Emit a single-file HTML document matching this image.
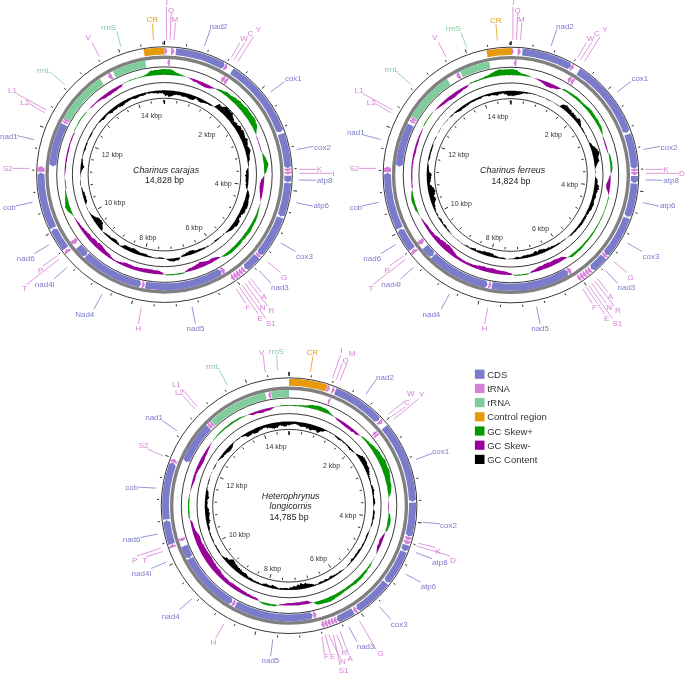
<!DOCTYPE html>
<html><head><meta charset="utf-8"><style>
html,body{margin:0;padding:0;background:#fff;width:685px;height:674px;overflow:hidden}
svg{display:block}
text{font-family:"Liberation Sans",Arial,sans-serif}
</style></head><body>
<svg width="685" height="674" viewBox="0 0 685 674">
<rect width="685" height="674" fill="#fff"/>
<clipPath id="clip1"><rect x="0" y="0" width="334.2" height="340"/></clipPath>
<g clip-path="url(#clip1)">
<circle cx="164.45" cy="174.6" r="127.85" fill="none" stroke="#222" stroke-width="0.9"/>
<circle cx="164.45" cy="174.6" r="117.4" fill="none" stroke="#808080" stroke-width="3.3999999999999915"/>
<path d="M143.49,49.34A127,127 0 0 1 164.45,47.6L164.45,54.6A120,120 0 0 0 144.64,56.25Z" fill="#e69a0a"/>
<path d="M164.45,47.6L165.69,47.61L167.47,51.14L165.62,54.61L164.45,54.6L164.45,51.1Z" fill="#d77fd7"/>
<path d="M171.32,47.79L172.81,47.88L174.57,51.52L172.34,54.86L170.94,54.78L171.13,51.28Z" fill="#d77fd7"/>
<path d="M176.18,48.14A127,127 0 0 1 224.21,62.54L224.32,66.58L220.92,68.72A120,120 0 0 0 175.53,55.11Z" fill="#7b7bcc"/>
<path d="M226.02,63.52L227.18,64.17L227.13,68.19L223.72,70.26L222.63,69.65L224.32,66.58Z" fill="#d77fd7"/>
<path d="M233.8,68.21A127,127 0 0 1 283.07,129.24L280.5,132.36L276.53,131.74A120,120 0 0 0 229.98,74.07Z" fill="#7b7bcc"/>
<path d="M284.39,132.83A127,127 0 0 1 291.17,166.12L287.79,168.35L284.18,166.59A120,120 0 0 0 277.78,135.14Z" fill="#7b7bcc"/>
<path d="M291.3,168.4L291.35,169.55L287.91,171.37L284.36,169.83L284.31,168.74L287.8,168.57Z" fill="#d77fd7"/>
<path d="M291.41,171.5L291.44,172.83L287.95,174.82L284.44,172.92L284.41,171.67L287.91,171.58Z" fill="#d77fd7"/>
<path d="M291.45,175.71A127,127 0 0 1 291.3,180.74L287.69,182.57L284.31,180.4A120,120 0 0 0 284.45,175.65Z" fill="#7b7bcc"/>
<path d="M291.16,183.24A127,127 0 0 1 284.62,215.68L280.65,216.43L278,213.41A120,120 0 0 0 284.17,182.76Z" fill="#7b7bcc"/>
<path d="M283.56,218.66A127,127 0 0 1 262.91,254.82L258.92,254.15L257.48,250.4A120,120 0 0 0 277,216.23Z" fill="#7b7bcc"/>
<path d="M261.6,256.4L260.79,257.35L256.95,256.43L255.48,252.79L256.24,251.89L258.92,254.15Z" fill="#d77fd7"/>
<path d="M259.57,258.75A127,127 0 0 1 248.48,269.82L244.66,268.51L243.85,264.57A120,120 0 0 0 254.32,254.11Z" fill="#7b7bcc"/>
<path d="M246.25,271.75L245.3,272.54L241.67,270.98L240.84,267.14L241.74,266.39L244,269.07Z" fill="#d77fd7"/>
<path d="M243.68,273.85L242.71,274.62L239.12,272.97L238.4,269.11L239.32,268.38L241.5,271.12Z" fill="#d77fd7"/>
<path d="M241.06,275.89L240.06,276.64L236.52,274.89L235.9,271.01L236.83,270.31L238.95,273.1Z" fill="#d77fd7"/>
<path d="M238.38,277.86L237.37,278.58L233.87,276.74L233.35,272.85L234.3,272.17L236.34,275.02Z" fill="#d77fd7"/>
<path d="M235.65,279.76L234.62,280.45L231.17,278.53L230.75,274.62L231.73,273.97L233.69,276.87Z" fill="#d77fd7"/>
<path d="M65.75,254.52L64.55,253.01L66.08,249.27L70.05,248.69L71.19,250.12L68.47,252.32Z" fill="#d77fd7"/>
<path d="M62.62,250.5A127,127 0 0 1 51.22,232.11L53.45,228.74L57.46,228.94A120,120 0 0 0 68.24,246.32Z" fill="#7b7bcc"/>
<path d="M49.82,229.27A127,127 0 0 1 37.45,174.44L40.97,172.44L44.45,174.45A120,120 0 0 0 56.14,226.26Z" fill="#7b7bcc"/>
<path d="M37.48,171.72L37.63,167.79L41.25,165.99L44.62,168.17L44.48,171.88L40.98,171.8Z" fill="#d77fd7"/>
<path d="M170.1,59.14L168.97,59.09L167.19,62.53L168.69,66.08L169.76,66.13L169.93,62.63Z" fill="#d77fd7"/>
<path d="M226.05,76.78L224.89,76.06L221.35,78.01L221.23,82.02L222.32,82.7L224.19,79.74Z" fill="#d77fd7"/>
<path d="M229.09,78.76L227.95,78L224.35,79.85L224.11,83.85L225.18,84.57L227.14,81.66Z" fill="#d77fd7"/>
<path d="M223.12,274.2L224.81,273.19L224.68,269.14L221.16,267.22L219.57,268.17L221.35,271.19Z" fill="#d77fd7"/>
<path d="M221.35,271.19L221.34,275.24A115.6,115.6 0 0 1 144.97,288.55L146.15,281.65A108.6,108.6 0 0 0 217.89,269.14Z" fill="#7b7bcc"/>
<path d="M141.4,287.88L142.59,288.11L144.98,285L143.91,281.24L142.8,281.02L142.1,284.45Z" fill="#d77fd7"/>
<path d="M141.14,284.25L138.4,287.23A115.6,115.6 0 0 1 84.44,258.04L89.28,252.98A108.6,108.6 0 0 0 139.98,280.41Z" fill="#7b7bcc"/>
<path d="M86.58,255.24L82.68,256.31A115.6,115.6 0 0 1 75.9,248.91L81.26,244.41A108.6,108.6 0 0 0 87.63,251.36Z" fill="#7b7bcc"/>
<path d="M70.34,241.73L72.1,244.13L76.11,243.62L77.69,239.92L76.04,237.66L73.19,239.7Z" fill="#d77fd7"/>
<path d="M52.65,166.39L49.33,164.08A115.6,115.6 0 0 1 61,123.02L67.26,126.14A108.6,108.6 0 0 0 56.3,164.72Z" fill="#7b7bcc"/>
<path d="M62.57,119.97L62.12,120.83L64.57,123.71L68.31,124.08L68.74,123.28L65.66,121.63Z" fill="#d77fd7"/>
<path d="M63.74,117.85L63.27,118.7L65.66,121.63L69.39,122.08L69.84,121.29L66.79,119.57Z" fill="#d77fd7"/>
<path d="M63.74,117.85A115.6,115.6 0 0 1 99.81,78.76L103.72,84.57A108.6,108.6 0 0 0 69.84,121.29Z" fill="#80cc9c"/>
<path d="M110.18,72.53L108.45,73.47L108.4,77.52L111.84,79.6L113.47,78.71L111.82,75.62Z" fill="#d77fd7"/>
<path d="M112.87,71.15A115.6,115.6 0 0 1 145.17,60.62L146.34,67.52A108.6,108.6 0 0 0 115.99,77.41Z" fill="#80cc9c"/>
<circle cx="164.45" cy="174.6" r="107.75" fill="none" stroke="#222" stroke-width="0.9"/>
<circle cx="164.45" cy="174.6" r="92.05" fill="none" stroke="#222" stroke-width="0.9"/>
<circle cx="164.45" cy="174.6" r="76.35" fill="none" stroke="#222" stroke-width="0.9"/>
<path d="M164.4,69.2 165.2,69.2 165.9,69.2 166.7,69.0 167.4,69.6 168.1,69.2 168.9,69.3 169.6,69.1 170.3,69.4 171.1,69.6 171.8,70.0 172.5,69.9 173.2,70.4 173.9,71.0 174.6,71.3 175.2,71.9 175.9,72.3 176.6,72.8 177.3,72.8 178.0,73.2 178.7,73.2 179.3,73.9 180.0,74.2 180.7,74.4 181.4,74.6 182.0,75.0 182.7,75.2 183.3,75.6 184.0,76.0 184.6,76.2 185.3,76.6 186.0,76.8 186.6,77.1 187.3,77.3 187.9,77.5 188.6,77.7 189.3,77.8 190.0,78.0 190.6,78.2 191.3,78.4 192.0,78.6 192.7,78.8 193.3,79.0 194.0,79.2 194.7,79.4 195.3,79.6 196.0,79.8 196.6,80.0 197.3,80.3 198.0,80.5 198.6,80.7 199.3,81.0 199.9,81.2 200.6,81.5 201.2,81.7 201.9,82.0 202.5,82.2 203.2,82.5 203.8,82.8 204.4,83.1 205.1,83.3 205.7,83.6 206.4,83.9 207.0,84.2 207.6,84.5 208.2,84.8 208.9,85.1 209.5,85.4 210.1,85.7 210.7,86.1 211.4,86.4 212.0,86.7 212.6,87.1 213.2,87.4 213.8,87.7 214.4,88.1 215.0,88.4 215.7,88.6 216.5,88.7 217.2,88.8 218.0,88.9 218.7,89.0 219.5,89.2 220.2,89.4 220.7,89.9 221.6,89.9 222.2,90.3 222.8,90.7 223.4,91.0 224.0,91.5 224.7,91.6 225.6,91.6 226.2,92.1 227.0,92.1 227.7,92.5 228.2,93.0 228.8,93.5 229.3,94.0 229.8,94.5 230.3,95.0 230.9,95.4 231.5,95.8 232.1,96.2 233.0,96.3 233.4,97.0 234.2,97.2 234.8,97.5 235.6,97.7 236.3,98.1 236.6,98.8 236.9,99.6 237.6,99.9 238.4,100.1 239.1,100.5 239.5,101.1 240.3,101.4 241.1,101.6 241.3,102.4 241.5,103.3 242.0,103.8 242.7,104.1 243.1,104.8 243.7,105.2 244.2,105.7 244.5,106.4 245.4,106.7 246.1,107.1 246.5,107.7 247.0,108.2 247.6,108.7 248.1,109.3 248.1,110.2 248.9,110.5 249.1,111.3 249.6,111.8 250.0,112.5 250.4,113.0 251.0,113.5 251.4,114.2 251.7,114.8 251.8,115.7 252.7,116.0 253.3,116.5 253.4,117.2 254.3,117.6 254.6,118.3 254.8,119.0 255.3,119.6 255.7,120.2 255.7,121.1 255.7,121.9 255.7,122.8 256.3,123.3 256.6,123.9 257.0,124.6 257.0,125.4 257.0,126.2 257.0,127.0 257.0,127.9 256.9,128.7 256.6,129.6 256.5,130.5 256.5,131.3 256.4,132.1 256.4,132.9 256.3,133.7 256.3,134.5 256.3,135.2 256.5,135.9 256.8,136.5 257.1,137.2 257.3,137.8 257.6,138.5 257.8,139.1 258.1,139.8 258.3,140.4 258.6,141.1 258.8,141.7 259.0,142.4 259.2,143.1 259.5,143.7 259.7,144.4 259.9,145.1 260.1,145.7 260.3,146.4 260.5,147.1 260.7,147.7 260.9,148.4 261.0,149.1 261.2,149.8 261.4,150.4 261.5,151.1 261.7,151.8 261.9,152.5 262.2,153.1 263.0,153.7 263.5,154.3 263.8,154.9 264.2,155.6 264.7,156.2 265.4,156.8 265.6,157.5 265.7,158.2 266.3,158.8 266.3,159.6 266.7,160.2 267.1,160.9 267.3,161.6 267.6,162.3 268.1,163.0 268.5,163.7 268.3,164.4 268.2,165.2 268.0,165.9 268.1,166.6 267.7,167.4 267.4,168.1 267.1,168.9 267.0,169.6 266.8,170.3 266.6,171.0 266.4,171.8 266.0,172.5 265.5,173.2 265.1,173.9 264.7,174.6 264.3,175.3 264.3,176.0 264.3,176.7 264.3,177.4 264.3,178.1 264.3,178.8 264.2,179.5 264.2,180.2 264.2,180.9 264.1,181.6 264.1,182.3 264.0,183.0 263.9,183.7 263.9,184.3 263.8,185.0 263.7,185.7 263.6,186.4 263.6,187.1 263.5,187.8 263.4,188.5 263.3,189.2 263.2,189.9 263.1,190.6 263.0,191.3 262.8,191.9 262.7,192.6 262.6,193.3 262.4,194.0 262.3,194.7 262.2,195.4 262.0,196.1 261.9,196.7 261.7,197.4 261.5,198.1 261.4,198.8 261.2,199.4 261.0,200.1 260.9,200.8 260.7,201.5 260.5,202.1 260.4,202.8 260.4,203.6 260.3,204.3 260.2,205.0 260.0,205.7 259.8,206.3 259.6,207.0 259.5,207.7 259.4,208.4 259.2,209.1 259.1,209.8 258.9,210.5 258.8,211.2 258.6,211.9 258.5,212.6 258.2,213.3 258.2,214.0 257.9,214.6 257.7,215.3 257.6,216.1 257.4,216.7 257.2,217.5 256.8,218.1 256.7,218.8 256.4,219.4 256.1,220.1 255.9,220.8 255.5,221.4 255.3,222.1 254.9,222.7 254.5,223.3 254.2,223.9 254.0,224.6 253.6,225.3 253.4,225.9 252.9,226.5 252.5,227.1 252.2,227.8 251.9,228.4 251.6,229.0 251.4,229.8 251.3,230.6 250.8,231.1 250.4,231.7 250.0,232.3 249.5,232.8 249.0,233.4 248.6,234.0 248.1,234.5 247.6,235.0 247.0,235.5 246.8,236.2 246.1,236.6 245.9,237.3 245.6,238.0 245.1,238.5 244.5,239.0 243.8,239.3 243.4,239.9 242.8,240.3 242.5,241.0 242.0,241.6 241.7,242.2 241.3,242.8 240.8,243.4 240.6,244.1 239.9,244.5 239.5,245.1 239.0,245.6 238.5,246.1 238.1,246.7 237.6,247.2 236.9,247.6 236.3,248.0 236.0,248.7 235.2,248.9 234.9,249.6 234.3,250.1 233.7,250.4 233.4,251.1 232.9,251.7 232.3,252.1 231.9,252.7 231.2,253.0 230.6,253.4 229.9,253.8 229.4,254.3 228.8,254.6 228.2,255.0 227.6,255.4 226.8,255.6 226.2,256.0 225.5,256.3 224.8,256.5 224.0,256.6 223.3,256.8 222.4,256.7 221.7,256.9 220.9,257.0 220.3,257.4 219.7,257.8 219.2,258.2 218.6,258.6 218.0,258.9 217.4,259.3 216.8,259.7 216.2,260.1 215.6,260.4 215.0,260.8 214.4,261.1 213.8,261.5 213.2,261.8 212.6,262.1 212.0,262.5 211.4,262.8 210.7,263.1 210.1,263.5 209.5,263.8 208.9,264.1 208.2,264.4 207.6,264.7 207.0,265.0 206.4,265.3 205.7,265.6 205.1,265.9 204.4,266.1 203.8,266.4 203.2,266.7 202.5,267.0 201.9,267.2 201.2,267.5 200.6,267.7 199.9,268.0 199.3,268.2 198.6,268.5 198.0,268.7 197.3,268.9 196.6,269.2 196.0,269.4 195.3,269.6 194.7,269.8 194.0,270.0 193.3,270.2 192.7,270.4 192.0,270.6 191.3,270.8 190.6,271.0 190.0,271.2 189.3,271.4 188.6,271.5 187.9,271.7 187.3,271.9 186.6,272.0 185.9,272.2 185.2,272.3 184.6,272.9 184.0,273.4 183.3,273.6 182.7,273.8 182.0,274.0 181.3,274.1 180.6,274.2 179.9,274.3 179.2,274.4 178.5,274.6 177.8,274.6 177.1,274.8 176.4,274.8 175.7,274.8 175.0,274.8 174.3,275.0 173.6,275.2 172.9,275.2 172.2,275.2 171.5,275.4 170.8,275.3 170.1,275.3 169.4,275.3 168.7,275.4 168.0,275.3 167.3,275.4 166.6,275.4 165.9,275.3 165.2,275.0 164.4,274.7 163.8,274.5 163.1,274.5 162.4,274.5 161.7,274.5 161.0,274.4 160.3,274.4 159.6,274.4 158.9,274.3 158.2,274.3 157.5,274.3 156.8,274.2 156.1,274.1 155.4,274.1 154.7,274.0 154.0,274.0 153.3,273.9 152.6,273.8 151.9,273.7 151.2,273.6 150.5,273.5 149.9,273.4 149.2,273.3 148.5,273.2 147.8,273.1 147.1,273.0 146.4,272.9 145.7,272.7 145.0,272.6 144.4,272.5 143.7,272.3 143.0,272.2 142.3,272.0 141.6,271.9 141.0,271.7 140.3,271.5 139.6,271.4 138.9,271.2 138.3,271.0 137.6,270.8 136.9,270.6 136.2,270.4 135.6,270.2 134.9,270.0 134.2,269.8 133.6,269.6 132.9,269.4 132.3,269.2 131.6,268.9 130.9,268.7 130.3,268.5 129.6,268.2 129.0,268.0 128.3,267.7 127.7,267.5 127.0,267.2 126.4,267.0 125.7,266.7 125.1,266.4 124.5,266.1 123.8,265.9 123.2,265.6 122.5,265.3 121.9,265.0 121.3,264.7 120.7,264.4 120.0,264.1 119.4,263.8 118.8,263.5 118.2,263.1 117.5,262.8 116.9,262.5 116.3,262.1 115.7,261.8 115.1,261.5 114.5,261.1 113.9,260.8 113.3,260.4 112.7,260.1 112.1,259.7 111.5,259.3 110.9,258.9 110.3,258.6 109.7,258.2 109.2,257.8 108.6,257.4 108.0,257.0 107.4,256.6 106.9,256.2 106.3,255.8 105.7,255.4 105.2,255.0 104.6,254.6 104.1,254.2 103.5,253.7 102.9,253.3 102.4,252.9 101.9,252.5 101.3,252.0 100.8,251.6 100.2,251.1 99.7,250.7 99.2,250.2 98.6,249.8 98.1,249.3 97.6,248.8 97.1,248.4 96.6,247.9 96.1,247.4 95.6,246.9 95.1,246.5 94.6,246.0 94.1,245.5 93.6,245.0 93.1,244.5 92.6,244.0 92.1,243.5 91.6,243.0 91.2,242.5 90.7,242.0 90.2,241.4 89.7,240.9 89.3,240.4 88.8,239.9 88.4,239.3 87.9,238.8 87.5,238.3 87.0,237.7 86.6,237.2 86.2,236.7 85.7,236.1 85.3,235.6 84.9,235.0 84.5,234.4 84.0,233.9 83.6,233.3 83.2,232.8 82.8,232.2 82.4,231.6 82.0,231.0 81.6,230.5 81.2,229.9 80.9,229.3 80.5,228.7 80.1,228.1 79.7,227.5 79.4,226.9 79.0,226.4 78.6,225.8 78.3,225.2 77.9,224.6 77.6,223.9 77.2,223.3 76.9,222.7 76.6,222.1 76.2,221.5 75.9,220.9 75.6,220.3 75.3,219.6 75.0,219.0 74.7,218.4 74.4,217.8 74.1,217.1 73.8,216.5 73.4,215.9 72.9,215.4 72.2,214.9 71.8,214.3 71.1,213.9 70.4,213.4 69.9,212.8 69.0,212.4 68.3,211.9 68.0,211.3 67.3,210.7 67.0,210.1 66.5,209.5 66.2,208.8 65.7,208.2 65.3,207.6 65.0,206.9 65.1,206.1 65.3,205.3 65.4,204.5 65.3,203.8 65.1,203.1 65.1,202.3 65.4,201.5 65.3,200.8 65.0,200.1 65.1,199.4 65.2,198.6 65.3,197.9 65.2,197.1 65.3,196.4 65.4,195.7 65.2,195.0 65.1,194.3 65.1,193.6 65.1,192.8 65.1,192.1 65.1,191.4 65.2,190.7 65.4,189.9 65.6,189.2 65.5,188.5 65.4,187.8 65.3,187.1 65.3,186.4 65.2,185.7 65.1,185.0 65.0,184.3 65.0,183.7 64.9,183.0 64.8,182.3 64.8,181.6 64.7,180.9 64.7,180.2 64.7,179.5 64.6,178.8 64.6,178.1 64.6,177.4 64.6,176.7 64.6,176.0 64.6,175.3 64.5,174.6 64.6,173.9 64.6,173.2 64.6,172.5 64.6,171.8 64.6,171.1 64.6,170.4 64.7,169.7 64.7,169.0 64.7,168.3 64.8,167.6 64.8,166.9 64.9,166.2 65.0,165.5 65.0,164.9 65.1,164.2 65.2,163.5 65.3,162.8 65.3,162.1 65.4,161.4 65.5,160.7 65.6,160.0 65.7,159.3 65.8,158.6 65.9,157.9 66.1,157.3 66.2,156.6 66.3,155.9 66.5,155.2 66.6,154.5 66.7,153.8 66.9,153.1 67.0,152.5 67.2,151.8 67.4,151.1 67.5,150.4 67.7,149.8 67.9,149.1 68.0,148.4 68.2,147.7 68.4,147.1 68.6,146.4 68.8,145.7 69.0,145.1 69.2,144.4 69.4,143.7 69.7,143.1 69.9,142.4 70.1,141.7 70.3,141.1 70.6,140.4 70.8,139.8 71.1,139.1 71.3,138.5 71.6,137.8 71.8,137.2 72.1,136.5 72.4,135.9 72.6,135.2 72.9,134.6 73.2,134.0 73.5,133.3 73.8,132.7 74.1,132.1 74.3,131.4 74.0,130.5 74.3,129.9 74.7,129.2 75.0,128.6 75.3,128.0 75.7,127.4 76.0,126.8 76.5,126.2 76.8,125.6 77.1,125.0 77.3,124.3 77.6,123.7 78.0,123.0 78.3,122.4 78.7,121.8 79.0,121.2 79.4,120.6 79.8,120.0 80.1,119.4 80.4,118.8 80.8,118.2 81.3,117.6 81.7,117.1 82.1,116.5 82.6,116.0 83.1,115.5 83.5,115.0 83.9,114.4 84.3,113.8 84.8,113.3 85.3,112.8 85.9,112.3 86.4,111.9 86.9,111.4 87.4,110.8 87.8,110.3 88.4,109.9 88.8,109.3 89.3,108.8 89.7,108.3 90.2,107.8 90.7,107.2 91.2,106.7 91.6,106.2 92.1,105.7 92.6,105.2 93.1,104.7 93.6,104.2 94.1,103.7 94.6,103.2 95.1,102.7 95.6,102.3 96.1,101.8 96.6,101.3 97.1,100.8 97.6,100.4 98.1,99.9 98.6,99.4 99.2,99.0 99.7,98.5 100.2,98.1 100.8,97.6 101.3,97.2 101.9,96.7 102.4,96.3 102.9,95.9 103.5,95.5 104.1,95.0 104.6,94.6 105.2,94.2 105.7,93.8 106.3,93.4 106.9,93.0 107.4,92.6 108.0,92.2 108.6,91.8 109.2,91.4 109.7,91.0 110.3,90.6 110.9,90.3 111.5,89.9 112.1,89.5 112.7,89.1 113.3,88.8 113.9,88.4 114.5,88.1 115.1,87.7 115.7,87.4 116.3,87.1 116.9,86.7 117.5,86.4 118.2,86.1 118.8,85.7 119.4,85.4 120.0,85.1 120.7,84.8 121.3,84.5 121.9,84.2 122.5,83.9 123.2,83.6 123.7,83.1 124.2,82.6 124.9,82.4 125.5,82.1 126.2,81.7 126.8,81.4 127.5,81.2 128.1,80.9 128.8,80.6 129.4,80.3 130.0,80.0 130.6,79.7 131.3,79.4 132.0,79.2 132.7,79.2 133.3,78.8 134.0,78.8 134.7,78.5 135.3,78.1 136.0,78.0 136.8,78.0 137.4,77.8 138.1,77.6 138.7,77.3 139.4,77.2 140.1,76.9 140.7,76.5 141.4,76.4 142.1,76.3 142.8,76.2 143.5,76.0 144.1,75.6 144.8,75.1 145.4,74.7 146.1,74.4 146.7,74.1 147.3,73.4 148.0,73.0 148.7,72.6 149.3,71.9 149.9,71.0 150.6,70.8 151.3,70.6 152.0,70.4 152.8,70.7 153.5,70.5 154.2,69.9 154.9,70.1 155.7,69.9 156.4,69.9 157.1,69.9 157.9,69.9 158.6,70.0 159.3,69.6 160.0,69.2 160.8,69.2 161.5,69.3 162.2,68.9 163.0,69.3 163.7,68.9 164.4,68.6L164.45,74.7A99.9,99.9 0 0 0 164.45,274.5A99.9,99.9 0 0 0 164.45,74.7Z" fill="#009900" fill-rule="nonzero"/>
<path d="M164.4,74.7 165.1,74.7 165.8,74.7 166.5,74.7 167.2,74.7 167.9,74.8 168.6,74.8 169.3,74.8 170.0,74.9 170.7,74.9 171.4,74.9 172.1,75.0 172.8,75.1 173.5,75.1 174.2,75.2 174.9,75.2 175.6,75.3 176.3,75.4 177.0,75.5 177.7,75.6 178.4,75.7 179.0,75.8 179.7,75.9 180.4,76.0 181.1,76.1 181.8,76.2 182.5,76.3 183.2,76.5 183.9,76.6 184.5,76.7 185.2,76.9 185.9,77.0 186.6,77.2 187.3,77.4 187.9,77.7 188.5,78.1 189.1,78.4 189.8,78.6 190.4,79.1 191.0,79.5 191.6,80.0 192.2,80.4 192.8,80.8 193.4,81.2 193.9,81.6 194.6,81.9 195.3,81.9 195.9,82.1 196.6,82.4 197.2,82.7 197.7,83.2 198.3,83.7 198.9,83.9 199.4,84.4 200.1,84.6 200.7,85.0 201.1,85.6 201.7,86.0 202.4,86.1 203.0,86.3 203.6,86.8 204.2,87.0 204.7,87.4 205.5,87.4 206.1,87.6 206.7,87.9 207.4,88.1 208.0,88.4 208.8,88.3 209.5,88.4 210.2,88.5 211.0,88.5 211.8,88.5 212.5,88.6 213.3,88.5 214.0,88.7 214.9,88.6 215.6,88.8 216.2,89.1 216.8,89.5 217.4,89.9 218.0,90.3 218.6,90.6 219.2,91.0 219.7,91.4 220.3,91.8 220.9,92.2 221.5,92.6 222.0,93.0 222.6,93.4 223.2,93.8 223.7,94.2 224.3,94.6 224.8,95.0 225.4,95.5 226.0,95.9 226.5,96.3 227.0,96.7 227.6,97.2 228.1,97.6 228.7,98.1 229.2,98.5 229.7,99.0 230.3,99.4 230.8,99.9 231.3,100.4 231.8,100.8 232.3,101.3 232.8,101.8 233.3,102.3 233.8,102.7 234.3,103.2 234.8,103.7 235.3,104.2 235.8,104.7 236.3,105.2 236.8,105.7 237.3,106.2 237.7,106.7 238.2,107.2 238.7,107.8 239.2,108.3 239.6,108.8 240.1,109.3 240.5,109.9 241.0,110.4 241.4,110.9 241.9,111.5 242.3,112.0 242.7,112.5 243.2,113.1 243.6,113.6 244.0,114.2 244.4,114.8 244.9,115.3 245.3,115.9 245.7,116.4 246.1,117.0 246.5,117.6 246.9,118.2 247.3,118.7 247.7,119.3 248.0,119.9 248.4,120.5 248.8,121.1 249.2,121.7 249.5,122.3 249.9,122.8 250.3,123.4 250.6,124.0 251.0,124.6 251.3,125.3 251.7,125.9 252.0,126.5 252.3,127.1 252.7,127.7 253.0,128.3 253.3,128.9 253.6,129.6 253.9,130.2 254.2,130.8 254.5,131.4 254.8,132.1 255.1,132.7 255.4,133.3 255.7,134.0 256.0,134.6 256.3,135.2 256.4,136.0 256.5,136.7 256.5,137.4 256.6,138.1 256.9,138.7 257.2,139.4 257.4,140.0 257.7,140.7 257.9,141.3 258.2,142.0 258.3,142.7 258.4,143.3 258.7,144.0 258.8,144.7 259.2,145.3 259.4,145.9 259.6,146.6 259.8,147.3 259.9,148.0 260.1,148.6 260.3,149.3 260.5,149.9 260.6,150.6 260.8,151.3 261.0,151.9 261.4,152.6 262.0,153.1 262.2,153.8 262.3,154.5 262.4,155.2 262.6,155.9 262.7,156.6 262.8,157.3 263.0,157.9 263.1,158.6 263.2,159.3 263.3,160.0 263.4,160.7 263.5,161.4 263.6,162.1 263.6,162.8 263.7,163.5 263.8,164.2 263.9,164.9 263.9,165.5 264.0,166.2 264.1,166.9 264.1,167.6 264.2,168.3 264.2,169.0 264.2,169.7 264.3,170.4 264.3,171.1 264.3,171.8 264.3,172.5 264.3,173.2 264.3,173.9 264.4,174.6 264.2,175.3 263.8,176.0 263.4,176.7 263.1,177.4 262.5,178.0 262.1,178.7 261.4,179.3 261.0,180.0 261.0,180.7 260.9,181.3 260.6,182.0 260.3,182.6 259.9,183.3 259.9,184.0 259.9,184.6 259.7,185.3 259.8,186.0 259.6,186.6 259.6,187.3 259.4,187.9 259.6,188.6 259.8,189.4 259.5,190.0 259.5,190.7 259.6,191.4 259.6,192.1 259.8,192.8 259.8,193.5 260.0,194.2 260.1,194.9 260.0,195.6 259.9,196.3 260.1,197.0 260.2,197.8 260.3,198.5 260.4,199.2 260.5,200.0 260.4,200.7 260.5,201.4 260.4,202.1 260.3,202.8 260.1,203.5 259.9,204.1 259.7,204.8 259.5,205.5 259.2,206.1 259.0,206.8 258.8,207.5 258.6,208.1 258.3,208.8 258.1,209.4 257.8,210.1 257.6,210.7 257.3,211.4 257.1,212.0 256.8,212.7 256.5,213.3 256.3,214.0 256.0,214.6 255.7,215.2 255.4,215.9 255.1,216.5 254.8,217.1 254.5,217.8 254.2,218.4 253.9,219.0 253.6,219.6 253.3,220.3 253.0,220.9 252.7,221.5 252.3,222.1 252.0,222.7 251.7,223.3 251.3,223.9 251.0,224.5 250.6,225.2 250.3,225.8 249.9,226.4 249.5,226.9 249.2,227.5 248.8,228.1 248.4,228.7 248.0,229.3 247.7,229.9 247.3,230.5 246.9,231.0 246.5,231.6 246.1,232.2 245.7,232.8 245.3,233.3 244.9,233.9 244.4,234.4 244.0,235.0 243.6,235.6 243.2,236.1 242.7,236.7 242.3,237.2 241.9,237.7 241.4,238.3 241.0,238.8 240.5,239.3 240.1,239.9 239.6,240.4 239.2,240.9 238.7,241.4 238.2,242.0 237.7,242.5 237.3,243.0 236.8,243.5 236.3,244.0 235.8,244.5 235.3,245.0 234.8,245.5 234.3,246.0 233.8,246.5 233.3,246.9 232.8,247.4 232.3,247.9 231.8,248.4 231.3,248.8 230.8,249.3 230.3,249.8 229.7,250.2 229.2,250.7 228.7,251.1 228.1,251.6 227.6,252.0 227.0,252.5 226.5,252.9 226.0,253.3 225.4,253.7 224.8,254.2 224.3,254.6 223.7,255.0 223.2,255.4 222.6,255.8 222.0,256.2 221.5,256.6 220.9,257.0 220.0,256.9 219.1,256.9 218.3,256.9 217.5,257.0 216.8,257.1 216.1,257.3 215.3,257.3 214.6,257.4 213.9,257.6 213.4,258.0 212.7,258.1 212.0,258.3 211.3,258.5 210.9,259.1 210.2,259.2 209.7,259.6 209.2,260.2 208.6,260.6 208.0,260.9 207.4,261.1 206.7,261.1 206.0,261.2 205.3,261.4 204.6,261.4 203.9,261.5 203.2,261.6 202.5,261.8 201.9,261.9 201.2,262.0 200.4,261.8 199.7,262.0 199.2,262.3 198.7,263.0 198.2,263.5 197.7,264.1 197.0,264.0 196.5,264.5 195.9,264.9 195.3,265.2 194.8,265.8 194.1,265.9 193.6,266.5 192.9,266.5 192.4,267.0 191.8,267.4 191.2,267.8 190.4,267.7 189.8,268.1 189.2,268.2 188.6,268.8 188.0,269.0 187.5,269.8 186.9,270.2 186.2,270.4 185.7,271.0 185.0,271.5 184.5,272.5 183.9,272.6 183.2,272.7 182.5,272.9 181.8,273.0 181.1,273.1 180.4,273.2 179.7,273.3 179.0,273.4 178.4,273.5 177.7,273.6 177.0,273.7 176.3,273.8 175.6,273.9 174.9,274.0 174.2,274.0 173.5,274.1 172.8,274.1 172.1,274.2 171.4,274.3 170.7,274.3 170.0,274.3 169.3,274.4 168.6,274.4 167.9,274.4 167.2,274.5 166.5,274.5 165.8,274.5 165.1,274.5 164.4,274.5 163.8,273.9 163.1,273.1 162.4,272.5 161.7,272.2 161.1,271.9 160.4,271.6 159.7,271.1 159.1,270.9 158.4,270.6 157.7,270.6 157.1,270.5 156.4,270.3 155.7,270.3 155.1,270.3 154.4,270.5 153.8,269.9 153.1,270.0 152.5,269.6 151.8,269.6 151.1,269.3 150.5,269.2 149.8,269.4 149.1,269.1 148.5,269.0 147.8,268.8 147.2,268.8 146.5,268.7 145.9,268.5 145.2,268.5 144.5,268.6 143.8,268.4 143.1,268.4 142.5,268.1 141.8,268.1 141.1,268.1 140.4,268.1 139.9,267.7 139.2,267.5 138.5,267.5 137.8,267.4 137.3,267.0 136.6,266.9 136.0,266.6 135.2,266.8 134.5,266.9 133.9,266.3 133.3,266.1 132.7,265.8 132.1,265.6 131.5,265.1 130.9,264.8 130.2,264.8 129.6,264.5 129.0,264.1 128.4,263.9 127.8,263.5 127.1,263.3 126.5,263.1 125.9,262.9 125.2,262.7 124.6,262.5 123.8,262.6 123.0,262.7 122.4,262.5 121.7,262.3 121.0,262.1 120.3,261.9 119.6,261.9 118.9,261.7 118.3,261.4 117.6,261.3 117.0,260.9 116.3,260.7 115.7,260.4 115.0,260.3 114.5,259.8 114.0,259.3 113.4,258.9 112.9,258.4 112.4,258.0 111.8,257.5 111.4,256.9 111.0,256.3 110.7,255.6 110.2,255.1 109.8,254.4 109.3,253.9 108.9,253.4 108.3,253.0 107.8,252.6 107.3,252.2 106.8,251.7 106.3,251.3 105.9,250.7 105.5,250.0 104.9,249.7 104.7,249.0 104.2,248.4 103.8,247.9 103.4,247.4 103.0,246.8 102.6,246.3 102.3,245.6 101.7,245.3 101.1,244.9 100.6,244.5 100.5,243.7 99.9,243.3 99.2,243.1 98.5,242.9 97.7,242.8 97.3,242.2 97.0,241.6 96.7,241.0 96.3,240.4 95.9,239.9 95.2,239.6 94.8,239.1 94.1,238.8 93.6,238.4 92.9,238.1 92.2,237.8 91.7,237.4 91.3,236.8 91.0,236.2 90.7,235.6 90.5,234.9 90.1,234.3 89.5,234.0 89.0,233.6 88.3,233.2 87.7,232.9 87.3,232.3 86.9,231.7 86.6,231.2 85.8,230.9 85.4,230.3 85.0,229.8 84.4,229.4 84.1,228.8 83.7,228.2 83.1,227.8 82.6,227.4 82.2,226.8 81.6,226.4 81.3,225.8 80.9,225.2 80.3,224.8 80.0,224.2 79.6,223.6 79.2,223.0 78.9,222.4 78.3,222.0 77.8,221.5 77.3,220.9 76.8,220.4 76.5,219.8 76.1,219.2 75.6,218.7 75.3,218.1 75.0,217.5 74.6,216.9 74.0,216.4 73.5,215.9 73.2,215.2 72.9,214.6 72.6,214.0 72.4,213.3 72.1,212.7 71.8,212.0 71.6,211.4 71.3,210.7 71.1,210.1 70.8,209.4 70.6,208.8 70.3,208.1 70.1,207.5 69.9,206.8 69.7,206.1 69.4,205.5 69.2,204.8 69.0,204.1 68.8,203.5 68.6,202.8 68.4,202.1 68.2,201.5 68.0,200.8 67.9,200.1 67.7,199.4 67.5,198.8 67.4,198.1 67.2,197.4 67.0,196.7 66.9,196.1 66.7,195.4 66.6,194.7 66.5,194.0 66.3,193.3 66.2,192.6 66.1,191.9 65.9,191.3 65.8,190.6 65.7,189.9 65.9,189.1 66.4,188.4 66.3,187.7 66.3,187.0 66.2,186.3 66.0,185.6 65.9,185.0 65.7,184.3 65.8,183.6 65.8,182.9 65.8,182.2 65.6,181.5 65.4,180.8 65.3,180.1 65.1,179.5 64.9,178.8 64.8,178.1 64.8,177.4 64.9,176.7 64.9,176.0 65.0,175.3 65.1,174.6 65.1,173.9 65.3,173.2 65.4,172.5 65.5,171.8 65.6,171.1 65.6,170.5 65.7,169.8 65.8,169.1 66.0,168.4 66.1,167.7 66.1,167.0 66.1,166.3 66.2,165.7 66.2,165.0 66.3,164.3 66.2,163.6 66.4,162.9 66.5,162.2 66.8,161.6 66.9,160.9 67.0,160.2 67.1,159.5 67.2,158.8 67.3,158.2 67.4,157.5 67.4,156.8 67.6,156.1 67.8,155.5 67.9,154.8 67.9,154.1 68.2,153.4 68.4,152.8 68.8,152.2 68.8,151.5 69.1,150.8 69.1,150.1 69.3,149.5 69.4,148.8 69.6,148.1 69.6,147.4 69.7,146.7 69.8,146.0 70.0,145.4 70.3,144.7 70.4,144.0 70.7,143.4 70.8,142.7 71.0,142.1 71.2,141.4 71.6,140.8 71.9,140.2 72.2,139.6 72.3,138.9 72.6,138.2 72.7,137.5 73.0,136.9 73.2,136.3 73.5,135.6 73.8,135.0 74.2,134.4 74.4,133.7 74.5,133.0 74.5,132.3 74.4,131.4 74.7,130.8 75.0,130.2 75.3,129.6 75.6,128.9 75.9,128.3 76.2,127.7 76.6,127.1 76.9,126.5 77.2,125.9 77.6,125.3 77.9,124.6 78.3,124.0 78.6,123.4 79.0,122.8 79.4,122.3 79.7,121.7 80.1,121.1 80.5,120.5 80.9,119.9 81.2,119.3 81.6,118.7 82.0,118.2 82.4,117.6 82.8,117.0 83.2,116.4 83.6,115.9 84.0,115.3 84.5,114.8 84.9,114.2 85.3,113.6 85.7,113.1 86.2,112.5 86.6,112.0 87.0,111.5 87.5,110.9 87.9,110.4 88.4,109.9 88.8,109.3 89.3,108.8 90.0,108.5 90.7,108.2 91.3,107.8 91.9,107.4 92.5,107.0 93.1,106.6 93.5,106.1 93.9,105.5 94.4,105.0 94.9,104.6 95.4,104.1 95.9,103.6 96.4,103.1 96.9,102.7 97.4,102.2 98.0,101.8 98.5,101.4 99.3,101.2 99.8,100.8 100.4,100.4 100.9,99.9 101.5,99.6 102.2,99.3 102.8,99.0 103.6,98.9 104.2,98.6 105.0,98.5 105.5,98.0 106.0,97.6 106.8,97.5 107.1,96.8 107.8,96.6 108.3,96.1 108.9,95.8 109.6,95.6 110.0,95.1 110.6,94.8 111.2,94.5 111.7,94.0 112.2,93.5 112.7,93.1 113.3,92.7 113.8,92.3 114.4,92.0 114.9,91.5 115.4,91.0 116.1,90.9 116.7,90.6 117.2,90.1 117.7,89.6 118.2,89.0 118.8,88.7 119.3,88.3 119.9,87.8 120.5,87.6 121.1,87.3 121.6,86.8 122.0,85.9 122.4,85.1 122.8,84.4 123.2,83.8 123.8,83.3 124.5,83.1 125.1,82.8 125.7,82.5 126.4,82.2 127.0,82.0 127.7,81.7 128.3,81.5 129.0,81.2 129.6,81.0 130.3,80.7 130.9,80.5 131.6,80.3 132.3,80.0 132.9,79.8 133.6,79.6 134.2,79.4 134.9,79.2 135.6,79.0 136.2,78.8 136.9,78.6 137.6,78.4 138.3,78.2 138.9,78.0 139.6,77.8 140.3,77.7 141.0,77.5 141.6,77.3 142.3,77.2 143.0,77.0 143.7,76.9 144.4,76.7 145.0,76.6 145.7,76.5 146.4,76.3 147.1,76.2 147.8,76.1 148.5,76.0 149.2,75.9 149.9,75.8 150.5,75.7 151.2,75.6 151.9,75.5 152.6,75.4 153.3,75.3 154.0,75.2 154.7,75.2 155.4,75.1 156.1,75.1 156.8,75.0 157.5,74.9 158.2,74.9 158.9,74.9 159.6,74.8 160.3,74.8 161.0,74.8 161.7,74.7 162.4,74.7 163.1,74.7 163.8,74.7 164.4,74.7L164.45,74.7A99.9,99.9 0 0 0 164.45,274.5A99.9,99.9 0 0 0 164.45,74.7Z" fill="#990099" fill-rule="nonzero"/>
<path d="M164.4,90.3 165.0,90.3 165.6,90.3 166.2,90.3 166.8,90.3 167.4,90.4 168.0,90.4 168.6,90.4 169.2,90.4 169.7,90.5 170.3,90.5 170.9,90.5 171.5,90.6 172.1,90.6 172.7,90.7 173.3,90.8 173.8,90.8 174.4,90.9 175.0,91.0 175.6,91.0 176.2,91.1 176.8,91.2 177.3,91.3 177.9,91.4 178.5,91.5 179.1,91.6 179.7,91.7 180.2,91.8 180.8,91.9 181.4,92.0 182.0,92.1 182.6,92.3 183.1,92.4 183.7,92.5 184.3,92.7 184.8,92.8 185.4,92.9 186.0,93.1 186.6,93.2 187.1,93.4 187.7,93.6 188.3,93.7 188.8,93.9 189.4,94.1 189.9,94.2 190.5,94.4 191.1,94.6 191.6,94.8 192.2,95.0 192.7,95.2 193.3,95.4 193.8,95.6 194.4,95.8 194.9,96.0 195.5,96.2 196.0,96.4 196.6,96.7 197.1,96.9 197.7,97.1 198.2,97.4 198.7,97.6 199.3,97.8 199.8,98.1 200.3,98.3 200.9,98.6 201.4,98.8 201.9,99.1 202.5,99.4 203.0,99.6 203.5,99.9 204.0,100.2 204.5,100.4 205.1,100.7 205.6,101.0 206.1,101.3 206.6,101.6 207.1,101.9 207.6,102.2 208.1,102.5 208.6,102.8 209.1,103.1 209.6,103.4 210.1,103.7 210.6,104.1 211.1,104.4 211.6,104.7 212.1,105.0 212.6,105.4 213.0,105.7 213.5,106.1 214.0,106.4 214.9,106.2 216.2,105.4 217.3,105.0 218.5,104.4 219.8,103.7 220.1,104.3 220.3,105.1 220.7,105.7 220.7,106.5 221.8,106.3 222.3,106.6 222.5,107.3 223.9,106.7 224.4,107.1 225.5,106.8 226.1,107.1 227.0,107.0 227.1,107.9 228.0,107.9 228.4,108.3 228.5,109.2 228.7,109.9 229.5,110.0 230.3,110.2 229.9,111.4 230.8,111.4 230.5,112.6 231.8,112.2 231.9,113.0 232.7,113.1 233.0,113.7 232.7,114.8 232.7,115.7 232.7,116.5 233.3,116.8 233.1,117.8 233.4,118.4 233.9,118.8 233.9,119.5 234.2,120.1 233.6,121.3 234.5,121.4 235.2,121.7 235.5,122.2 235.9,122.7 236.6,122.9 237.5,123.1 237.0,124.2 237.1,124.9 237.6,125.2 238.7,125.3 238.9,125.9 239.8,126.1 240.6,126.3 241.0,126.8 240.8,127.7 241.4,128.0 241.4,128.7 241.2,129.6 241.9,129.9 242.7,130.1 243.3,130.5 243.3,131.3 244.0,131.6 243.9,132.3 243.9,133.1 244.5,133.4 244.4,134.2 244.4,134.9 244.9,135.4 245.0,136.0 245.0,136.7 244.9,137.4 245.4,137.9 246.2,138.2 246.8,138.6 247.3,139.1 248.1,139.4 247.7,140.3 247.4,141.1 247.3,141.8 247.7,142.3 247.7,143.0 247.7,143.7 248.0,144.2 247.4,145.0 247.5,145.7 247.7,146.3 248.4,146.7 248.9,147.2 248.8,147.8 249.3,148.3 250.0,148.8 250.2,149.4 250.3,150.0 250.7,150.5 250.4,151.2 250.3,151.9 250.1,152.6 250.0,153.3 249.9,153.9 249.4,154.7 249.4,155.3 249.6,155.9 249.9,156.4 249.4,157.2 249.6,157.7 249.8,158.3 249.9,158.9 249.8,159.5 249.4,160.2 249.3,160.9 249.2,161.5 248.9,162.1 248.5,162.8 248.7,163.4 248.9,163.9 249.0,164.5 248.7,165.2 249.0,165.7 248.7,166.3 248.6,166.9 248.5,167.5 248.5,168.1 248.5,168.7 248.6,169.3 248.6,169.9 248.6,170.5 248.7,171.1 248.7,171.7 248.7,172.2 248.7,172.8 248.7,173.4 248.7,174.0 248.8,174.6 248.7,175.2 248.7,175.8 248.7,176.4 248.7,177.0 248.7,177.5 248.7,178.1 248.6,178.7 248.6,179.3 248.6,179.9 248.5,180.5 248.5,181.1 248.5,181.7 248.4,182.2 248.3,182.8 248.3,183.4 248.2,184.0 248.2,184.6 248.1,185.2 248.0,185.7 247.9,186.3 247.8,186.9 247.8,187.5 247.7,188.1 247.6,188.7 247.5,189.2 247.4,189.8 248.1,190.6 248.5,191.2 248.8,191.9 248.9,192.6 249.0,193.2 248.8,193.8 249.2,194.5 249.7,195.2 249.3,195.7 249.6,196.5 249.3,197.0 249.2,197.6 249.0,198.2 248.7,198.8 248.7,199.4 248.5,200.0 248.2,200.5 248.7,201.3 248.8,202.0 248.5,202.6 247.8,203.0 248.6,203.9 248.0,204.4 248.2,205.1 247.9,205.6 247.6,206.2 247.4,206.8 247.2,207.4 247.3,208.1 247.0,208.6 246.1,208.9 245.4,209.3 245.4,210.0 245.4,210.7 245.3,211.3 244.8,211.7 244.9,212.5 244.6,213.0 244.0,213.4 243.1,213.6 243.0,214.3 242.4,214.7 241.1,214.7 241.0,215.3 241.1,216.0 241.1,216.7 240.8,217.2 240.1,217.6 239.3,217.8 239.1,218.4 239.2,219.2 239.2,219.9 239.4,220.7 240.0,221.8 239.3,222.1 238.8,222.5 239.0,223.4 237.9,223.4 238.2,224.4 238.0,225.0 237.8,225.6 236.9,225.7 236.8,226.4 236.1,226.6 235.1,226.7 234.5,227.0 234.2,227.5 234.2,228.3 233.4,228.4 233.0,229.0 232.5,229.3 232.3,229.9 231.5,230.1 231.2,230.6 230.7,231.0 229.6,230.9 229.2,231.3 228.7,231.6 228.1,231.9 227.6,232.3 226.8,232.3 226.5,232.8 225.9,233.1 225.2,233.3 224.7,233.6 224.3,234.0 223.9,234.4 223.4,234.8 223.0,235.2 222.6,235.6 222.2,236.1 221.7,236.5 221.3,236.9 220.9,237.2 220.4,237.6 220.0,238.0 219.5,238.4 219.1,238.8 218.6,239.2 218.2,239.6 217.7,239.9 217.3,240.3 216.8,240.7 216.4,241.0 215.9,241.4 215.4,241.7 214.9,242.1 214.5,242.5 214.0,242.8 213.5,243.1 213.0,243.5 212.6,243.8 212.1,244.2 211.6,244.5 211.1,244.8 210.6,245.1 210.1,245.5 209.6,245.8 209.1,246.1 208.6,246.4 208.1,246.7 207.6,247.0 207.1,247.3 206.6,247.6 206.1,247.9 205.6,248.2 205.1,248.5 204.5,248.8 204.0,249.0 203.5,249.3 203.0,249.6 202.5,249.8 201.9,250.1 201.4,250.4 200.9,250.6 200.3,250.9 199.8,251.1 199.3,251.4 198.7,251.6 198.2,251.8 197.7,252.1 197.1,252.3 196.6,252.5 196.0,252.8 195.5,253.0 194.9,253.2 194.4,253.4 193.8,253.6 193.3,253.8 192.7,254.0 192.2,254.2 191.6,254.4 191.1,254.6 190.5,254.8 189.9,255.0 189.4,255.1 188.8,255.3 188.3,255.5 187.7,255.6 187.1,255.8 186.6,256.0 186.0,256.1 185.4,256.3 184.8,256.4 184.3,256.5 183.7,256.7 183.1,256.8 182.6,256.9 182.0,257.1 181.4,257.2 180.8,257.3 180.4,258.1 179.9,258.6 179.4,259.3 178.9,259.9 178.4,260.4 177.7,260.3 177.1,260.5 176.5,260.0 176.0,261.0 175.3,260.7 174.7,260.7 174.2,261.5 173.6,261.5 173.0,261.9 172.3,261.3 171.7,260.9 171.1,261.3 170.5,261.4 169.9,260.9 169.3,260.8 168.6,260.5 168.0,260.4 167.4,259.6 166.8,259.6 166.2,259.4 165.6,259.1 165.0,258.9 164.4,258.9 163.9,258.9 163.3,258.9 162.7,258.9 162.1,258.9 161.5,258.8 160.9,258.8 160.3,258.8 159.7,258.8 159.2,258.7 158.6,258.7 158.0,258.7 157.4,258.6 156.8,258.6 156.2,258.5 155.6,258.4 155.1,258.4 154.5,258.3 153.9,258.2 153.3,258.2 152.7,258.1 152.1,258.0 151.6,257.9 151.0,257.8 150.4,257.7 149.8,257.6 149.2,257.5 148.7,257.4 148.1,257.3 147.5,257.2 146.9,257.1 146.3,256.9 145.8,256.8 145.2,256.7 144.6,256.5 144.1,256.4 143.5,256.3 142.9,256.1 142.3,256.0 141.8,255.8 141.2,255.6 140.6,255.5 140.1,255.3 139.5,255.1 139.0,255.0 138.4,254.8 137.8,254.6 137.3,254.4 136.7,254.2 136.2,254.0 135.6,253.8 135.1,253.6 134.5,253.4 134.0,253.2 133.4,253.0 132.9,252.8 132.3,252.5 131.8,252.3 131.2,252.1 130.7,251.8 130.2,251.6 129.6,251.4 129.1,251.1 128.6,250.9 128.0,250.6 127.5,250.4 127.0,250.1 126.4,249.8 125.9,249.6 125.4,249.3 124.9,249.0 124.4,248.8 123.8,248.5 123.3,248.2 122.8,247.9 122.3,247.6 121.8,247.3 121.3,247.0 120.8,246.7 120.3,246.4 119.8,246.1 119.3,245.8 118.8,245.5 118.3,245.1 117.8,244.8 117.3,244.5 116.8,244.2 116.3,243.8 115.9,243.5 115.4,243.1 114.9,242.8 114.4,242.5 114.0,242.1 113.5,241.7 113.0,241.4 112.5,241.0 112.1,240.7 111.6,240.3 111.2,239.9 110.7,239.6 110.3,239.2 109.8,238.8 109.4,238.4 108.9,238.0 108.5,237.6 108.0,237.2 107.6,236.9 107.2,236.5 106.7,236.1 106.3,235.6 105.9,235.2 105.5,234.8 105.0,234.4 104.6,234.0 104.2,233.6 103.8,233.2 103.4,232.7 103.0,232.3 102.6,231.9 102.2,231.4 101.8,231.0 101.4,230.6 101.0,230.1 100.6,229.7 100.3,229.2 99.9,228.8 99.5,228.3 99.1,227.9 98.8,227.4 98.4,227.0 98.0,226.5 97.7,226.0 97.3,225.6 96.9,225.1 96.6,224.6 96.2,224.2 95.9,223.7 95.6,223.2 95.2,222.7 94.9,222.2 94.6,221.7 94.2,221.3 93.9,220.8 93.6,220.3 93.3,219.8 93.0,219.3 92.6,218.8 92.3,218.3 92.0,217.8 91.7,217.3 91.4,216.8 91.2,216.2 90.9,215.7 90.6,215.2 90.3,214.7 90.0,214.2 89.7,213.7 89.5,213.1 89.2,212.6 88.9,212.1 88.7,211.6 88.4,211.0 88.2,210.5 87.9,210.0 87.4,209.5 87.4,208.9 87.0,208.4 86.9,207.8 86.4,207.4 86.4,206.8 86.3,206.2 86.1,205.6 85.9,205.1 85.6,204.5 85.4,204.0 85.2,203.4 85.0,202.9 84.8,202.3 84.6,201.8 84.5,201.2 84.3,200.7 84.1,200.1 83.9,199.5 83.7,199.0 83.6,198.4 83.4,197.8 83.3,197.3 83.1,196.7 82.9,196.1 82.8,195.6 82.7,195.0 82.5,194.4 82.4,193.8 82.2,193.3 82.1,192.7 82.0,192.1 81.9,191.6 81.8,191.0 81.6,190.4 81.5,189.8 81.4,189.2 81.3,188.7 81.2,188.1 81.1,187.5 81.1,186.9 81.0,186.3 80.7,185.8 80.5,185.2 80.4,184.6 80.0,184.1 80.2,183.5 80.1,182.9 79.9,182.3 80.0,181.7 80.1,181.1 80.2,180.5 80.3,179.9 80.3,179.3 80.3,178.7 80.2,178.1 80.2,177.5 80.2,177.0 80.2,176.4 80.2,175.8 80.2,175.2 80.1,174.6 80.2,174.0 80.2,173.4 80.2,172.8 80.2,172.2 80.2,171.7 80.2,171.1 80.3,170.5 80.3,169.9 80.3,169.3 80.4,168.7 80.4,168.1 80.4,167.5 80.5,167.0 80.6,166.4 80.6,165.8 80.7,165.2 80.7,164.6 80.8,164.0 80.9,163.5 81.0,162.9 81.1,162.3 81.1,161.7 81.2,161.1 81.3,160.5 81.4,160.0 81.5,159.4 81.6,158.8 81.8,158.2 81.9,157.6 82.0,157.1 82.1,156.5 82.2,155.9 82.4,155.4 82.5,154.8 82.7,154.2 82.8,153.6 82.9,153.1 83.1,152.5 83.3,151.9 83.4,151.4 83.6,150.8 83.7,150.2 83.9,149.7 84.1,149.1 84.3,148.5 84.5,148.0 84.6,147.4 84.8,146.9 85.0,146.3 85.2,145.8 85.4,145.2 85.6,144.7 85.9,144.1 86.1,143.6 86.3,143.0 86.5,142.5 86.7,141.9 87.0,141.4 87.2,140.9 87.4,140.3 87.7,139.8 87.9,139.2 88.2,138.7 88.4,138.2 88.7,137.6 88.9,137.1 89.2,136.6 89.5,136.1 89.7,135.5 90.0,135.0 90.3,134.5 90.6,134.0 90.9,133.5 91.2,133.0 91.4,132.4 91.7,131.9 92.0,131.4 92.3,130.9 92.6,130.4 93.0,129.9 93.3,129.4 93.6,128.9 93.9,128.4 94.2,127.9 94.6,127.5 94.9,127.0 95.2,126.5 95.6,126.0 95.9,125.5 96.2,125.0 96.6,124.6 96.9,124.1 97.3,123.6 97.7,123.2 98.0,122.7 98.4,122.2 98.8,121.8 99.1,121.3 99.5,120.9 99.9,120.4 100.3,120.0 100.6,119.5 101.0,119.1 101.4,118.6 101.8,118.2 102.2,117.8 102.6,117.3 103.0,116.9 103.4,116.5 103.8,116.0 104.2,115.6 104.6,115.2 105.0,114.8 105.5,114.4 105.9,114.0 106.3,113.6 106.7,113.1 107.2,112.7 107.6,112.3 108.0,112.0 108.5,111.6 108.9,111.2 109.4,110.8 109.8,110.4 110.3,110.0 110.7,109.6 111.2,109.3 111.6,108.9 112.1,108.5 112.5,108.2 113.0,107.8 113.5,107.5 114.0,107.1 114.4,106.7 114.9,106.4 115.4,106.1 115.9,105.7 116.3,105.4 116.8,105.0 117.3,104.7 117.8,104.4 118.3,104.1 118.8,103.7 119.3,103.4 119.8,103.1 120.3,102.8 120.8,102.5 121.3,102.2 121.8,101.9 122.3,101.6 122.8,101.3 123.3,101.0 123.8,100.7 124.4,100.4 124.9,100.2 125.4,99.9 125.9,99.6 126.4,99.4 127.0,99.1 127.5,98.8 128.0,98.6 128.6,98.3 129.1,98.1 129.6,97.8 130.2,97.6 130.7,97.4 131.2,97.1 131.8,96.9 132.3,96.7 132.9,96.4 133.4,96.2 134.0,96.0 134.5,95.8 135.1,95.6 135.6,95.4 136.2,95.2 136.7,95.0 137.3,94.8 137.8,94.6 138.4,94.4 139.0,94.2 139.5,94.1 140.1,93.9 140.6,93.7 141.2,93.6 141.8,93.4 142.3,93.2 142.9,93.1 143.5,92.9 144.1,92.8 144.6,92.7 145.2,92.5 145.8,92.4 146.3,92.3 146.9,92.1 147.5,92.0 148.1,91.9 148.7,91.8 149.2,91.7 149.8,91.6 150.4,91.5 151.0,91.4 151.6,91.3 152.1,91.2 152.7,91.1 153.3,91.0 153.9,91.0 154.5,90.9 155.1,90.8 155.6,90.8 156.2,90.7 156.8,90.6 157.4,90.6 158.0,90.5 158.6,90.5 159.2,90.5 159.7,90.4 160.3,90.4 160.9,90.4 161.5,90.4 162.1,90.3 162.7,90.3 163.3,90.3 163.9,90.3 164.4,90.3L164.45,90.3A84.3,84.3 0 0 0 164.45,258.9A84.3,84.3 0 0 0 164.45,90.3Z" fill="#000000" fill-rule="nonzero"/>
<path d="M164.4,94.7 165.0,95.5 165.5,96.4 166.1,95.6 166.7,95.2 167.2,95.3 167.8,95.5 168.3,96.7 168.8,97.2 169.4,96.4 169.9,96.8 170.5,96.1 171.0,96.5 171.6,96.2 172.2,95.9 172.8,95.5 173.4,95.0 173.9,95.7 174.5,94.8 175.1,94.9 175.7,94.9 176.2,94.7 176.8,94.6 177.3,95.1 177.8,95.6 178.5,95.1 179.1,95.0 179.5,95.5 180.2,95.3 180.7,95.6 181.2,95.7 181.7,96.2 182.2,96.7 182.7,96.8 183.3,96.8 183.9,96.7 184.4,96.9 185.1,96.3 185.6,96.9 185.9,97.6 186.6,97.2 187.1,97.7 187.6,98.1 188.1,98.2 188.7,98.3 189.0,99.0 189.5,99.3 190.1,99.3 190.6,99.4 191.2,99.3 191.6,100.0 192.2,100.0 192.8,100.0 193.5,99.8 194.2,99.4 194.9,99.3 195.8,98.6 196.4,98.5 196.8,99.1 197.0,100.1 197.7,100.0 198.0,100.6 198.4,101.2 198.7,101.8 199.3,101.8 199.9,102.0 200.3,102.3 200.7,102.8 201.2,103.0 202.2,102.5 202.6,102.8 203.2,102.9 203.8,103.1 204.4,103.1 205.0,103.2 205.6,103.4 206.2,103.4 206.5,104.1 207.2,104.0 207.9,103.9 208.1,104.7 208.8,104.8 209.2,105.2 209.7,105.4 210.4,105.5 210.8,105.9 211.5,105.9 212.1,106.0 212.7,106.2 213.2,106.5 213.9,106.5 214.5,106.7 214.9,107.1 215.4,107.5 215.9,107.8 216.4,108.2 216.8,108.5 217.3,108.9 217.7,109.3 218.2,109.6 218.6,110.0 219.1,110.4 219.5,110.8 220.0,111.2 220.4,111.6 220.9,112.0 221.3,112.3 221.7,112.7 222.2,113.1 222.6,113.6 223.0,114.0 223.4,114.4 223.9,114.8 224.3,115.2 224.7,115.6 225.1,116.0 225.5,116.5 225.9,116.9 226.3,117.3 226.7,117.8 227.1,118.2 227.5,118.6 227.9,119.1 228.3,119.5 228.6,120.0 229.0,120.4 229.4,120.9 229.8,121.3 230.1,121.8 230.5,122.2 230.9,122.7 231.2,123.2 231.6,123.6 232.0,124.1 232.3,124.6 232.7,125.0 233.0,125.5 233.3,126.0 233.7,126.5 234.0,127.0 234.3,127.5 234.7,127.9 235.0,128.4 235.3,128.9 235.6,129.4 235.9,129.9 236.3,130.4 236.6,130.9 236.9,131.4 237.2,131.9 237.5,132.4 237.7,133.0 238.0,133.5 238.3,134.0 238.6,134.5 238.9,135.0 239.2,135.5 239.4,136.1 239.7,136.6 240.0,137.1 240.2,137.6 240.5,138.2 240.7,138.7 241.0,139.2 241.2,139.8 241.5,140.3 241.7,140.9 241.9,141.4 242.2,141.9 242.4,142.5 242.6,143.0 242.8,143.6 243.0,144.1 243.3,144.7 243.5,145.2 243.7,145.8 243.9,146.3 244.1,146.9 244.3,147.4 244.4,148.0 244.6,148.5 244.8,149.1 245.0,149.7 245.2,150.2 245.3,150.8 245.5,151.4 245.6,151.9 245.8,152.5 246.0,153.1 246.1,153.6 246.2,154.2 246.4,154.8 246.5,155.4 246.7,155.9 246.8,156.5 246.9,157.1 247.0,157.6 247.1,158.2 247.3,158.8 247.4,159.4 247.5,160.0 247.6,160.5 247.7,161.1 247.8,161.7 247.8,162.3 247.9,162.9 248.0,163.5 248.1,164.0 248.2,164.6 248.2,165.2 248.3,165.8 248.3,166.4 248.4,167.0 248.2,167.6 247.7,168.2 247.3,168.8 247.0,169.4 246.8,170.0 246.3,170.6 246.2,171.2 245.9,171.8 245.8,172.3 246.2,172.9 246.4,173.5 246.2,174.0 245.8,174.6 244.9,175.2 245.0,175.7 245.3,176.3 245.9,176.9 245.8,177.4 245.6,178.0 246.2,178.6 245.5,179.1 245.5,179.7 245.4,180.3 245.9,180.9 245.5,181.4 245.9,182.0 245.8,182.6 246.4,183.2 246.1,183.8 245.4,184.3 245.9,184.9 245.8,185.5 245.7,186.0 246.2,186.7 245.7,187.2 246.2,187.8 246.5,188.5 247.0,189.2 247.3,189.8 247.3,190.4 247.1,191.0 247.0,191.6 246.9,192.1 246.8,192.7 246.7,193.3 246.5,193.8 246.4,194.4 246.2,195.0 246.1,195.6 246.0,196.1 245.8,196.7 245.6,197.3 245.5,197.8 245.3,198.4 245.2,199.0 245.0,199.5 244.8,200.1 244.6,200.7 244.4,201.2 244.3,201.8 244.1,202.3 243.9,202.9 243.7,203.4 243.5,204.0 243.3,204.5 243.0,205.1 242.8,205.6 242.6,206.2 242.4,206.7 242.2,207.3 241.9,207.8 241.7,208.3 241.5,208.9 241.2,209.4 241.0,210.0 240.7,210.5 240.5,211.0 240.2,211.6 240.0,212.1 239.7,212.6 239.4,213.1 239.2,213.7 238.9,214.2 238.6,214.7 238.3,215.2 238.0,215.7 237.7,216.2 237.5,216.7 237.2,217.3 236.9,217.8 236.6,218.3 236.3,218.8 235.9,219.3 235.6,219.8 235.3,220.3 235.0,220.8 234.7,221.3 234.3,221.7 234.0,222.2 233.7,222.7 233.3,223.2 233.0,223.7 232.7,224.2 232.3,224.6 232.0,225.1 231.6,225.6 231.2,226.0 230.9,226.5 230.5,227.0 230.1,227.4 229.8,227.9 229.4,228.3 229.0,228.8 228.6,229.2 228.3,229.7 227.9,230.1 227.5,230.6 227.1,231.0 226.7,231.4 226.3,231.9 225.9,232.3 225.5,232.7 225.1,233.2 224.5,233.4 223.8,233.6 223.1,233.7 223.0,234.4 222.6,234.8 222.2,235.2 221.9,235.8 221.6,236.3 220.9,236.5 220.2,236.5 219.9,237.1 219.5,237.5 218.8,237.5 218.6,238.2 217.8,238.2 217.5,238.8 216.8,238.8 216.5,239.4 216.1,239.8 215.6,240.0 214.9,240.1 214.7,240.8 214.4,241.4 213.9,241.7 213.6,242.2 213.3,242.9 212.5,242.8 212.2,243.3 211.6,243.4 211.2,244.0 210.9,244.4 210.4,244.8 210.0,245.3 209.4,245.4 208.7,245.4 208.2,245.8 207.6,245.8 207.1,246.1 206.6,246.5 206.3,247.0 205.7,247.3 205.1,247.4 204.4,247.2 203.8,247.5 203.2,247.5 202.8,248.0 202.3,248.3 201.8,248.6 201.2,248.6 200.5,248.5 199.9,248.6 199.4,249.0 198.8,249.0 198.3,249.1 197.9,249.8 197.4,250.1 196.8,250.1 196.3,250.3 195.6,250.3 195.0,250.2 194.6,250.7 193.8,250.2 193.1,250.1 192.5,250.0 192.0,250.3 191.5,250.5 190.8,250.3 190.5,251.1 189.7,250.6 189.3,251.1 188.7,251.2 188.3,251.7 188.0,252.4 187.3,252.2 186.7,252.1 186.3,252.8 185.8,253.2 185.3,253.6 184.9,254.3 184.3,254.3 183.7,254.2 183.2,254.7 182.7,254.8 182.3,255.6 181.6,255.4 181.3,256.5 180.8,257.3 180.2,257.4 179.7,257.5 179.1,257.6 178.5,257.7 177.9,257.8 177.3,257.9 176.8,258.0 176.2,258.1 175.6,258.2 175.0,258.2 174.4,258.3 173.8,258.4 173.3,258.4 172.7,258.5 172.1,258.6 171.5,258.6 170.9,258.7 170.3,258.7 169.7,258.7 169.2,258.8 168.6,258.8 168.0,258.8 167.4,258.8 166.8,258.9 166.2,258.9 165.6,258.9 165.0,258.7 164.4,258.4 163.9,258.1 163.3,257.9 162.7,257.7 162.1,257.4 161.6,257.3 161.0,257.4 160.4,257.5 159.8,257.4 159.3,257.1 158.7,257.4 158.1,257.7 157.5,257.8 156.9,257.9 156.3,257.6 155.7,257.7 155.2,257.4 154.6,257.4 154.0,257.5 153.4,257.4 152.9,256.9 152.3,257.2 151.7,256.8 151.2,256.5 150.7,256.0 150.1,256.2 149.5,255.9 149.0,255.8 148.4,255.8 147.9,255.4 147.3,255.1 146.9,254.6 146.4,254.2 145.9,253.8 145.3,253.8 144.7,253.7 144.1,253.8 143.6,253.5 143.1,253.1 142.5,253.2 141.9,253.1 141.5,252.7 140.8,252.8 140.3,252.7 139.7,252.5 139.4,251.8 138.8,251.7 138.4,251.0 138.0,250.5 137.3,250.9 136.8,250.5 136.5,249.7 136.0,249.4 135.4,249.5 135.1,248.8 134.4,248.9 134.2,247.9 133.4,248.4 133.0,247.9 132.5,247.8 131.5,248.5 131.0,248.4 130.7,247.6 130.2,247.4 129.7,247.0 128.9,247.4 128.6,246.7 128.2,246.4 127.5,246.5 127.2,245.8 126.4,246.1 126.2,245.4 125.7,245.1 125.1,245.1 124.1,245.6 123.4,245.7 122.9,245.4 122.0,245.9 121.5,245.5 120.8,245.5 120.1,245.6 119.6,245.2 119.2,244.8 118.9,244.1 118.8,243.3 118.5,242.7 118.2,242.2 117.5,242.2 117.3,241.4 117.0,240.8 116.7,240.3 116.4,239.7 115.9,239.4 115.4,239.2 114.7,239.2 114.4,238.6 114.0,238.2 113.1,238.4 113.0,237.7 112.1,237.9 111.5,237.7 111.2,237.2 110.6,236.9 110.3,236.4 110.0,235.9 109.6,235.6 108.7,235.6 108.6,234.9 107.9,234.8 107.6,234.3 107.1,233.9 106.5,233.8 105.9,233.5 105.5,233.1 104.9,232.9 104.6,232.4 104.2,232.0 103.4,231.9 102.8,231.7 102.5,231.2 102.2,230.6 102.5,229.6 102.8,228.6 102.9,227.7 102.5,227.3 102.5,226.6 102.8,225.6 102.3,225.3 102.8,224.1 103.1,223.2 103.2,222.5 102.3,222.5 102.2,221.8 101.7,221.5 101.6,220.9 101.8,220.1 101.2,219.9 100.3,219.9 100.3,219.2 99.9,218.8 99.2,218.6 99.0,218.1 98.5,217.8 97.8,217.5 97.2,217.3 96.0,217.4 95.8,216.9 95.1,216.6 94.2,216.5 94.1,215.9 93.5,215.6 92.7,215.3 92.2,215.0 91.6,214.6 91.3,214.2 90.8,213.7 90.4,213.3 90.1,212.8 89.8,212.3 89.5,211.8 89.1,211.4 88.8,210.9 88.4,210.4 87.9,210.0 87.7,209.4 87.4,208.9 87.2,208.3 87.0,207.8 86.7,207.3 86.5,206.7 86.3,206.2 86.1,205.6 86.2,205.0 86.0,204.4 86.3,203.7 86.5,203.0 86.8,202.2 86.8,201.6 87.1,200.9 87.2,200.3 86.9,199.8 86.4,199.4 86.1,198.9 86.1,198.3 86.2,197.6 86.4,197.0 85.9,196.5 85.4,196.1 85.6,195.4 85.2,194.9 84.7,194.5 85.0,193.8 84.8,193.3 84.8,192.7 84.3,192.2 83.8,191.7 83.2,191.3 83.0,190.7 82.6,190.2 82.7,189.6 82.8,189.0 82.4,188.5 82.0,188.0 81.8,187.4 81.4,186.9 81.0,186.3 80.9,185.7 80.8,185.2 80.7,184.6 80.7,184.0 80.6,183.4 80.6,182.8 80.5,182.2 80.4,181.7 80.4,181.1 80.4,180.5 80.3,179.9 80.3,179.3 80.4,178.7 80.5,178.1 80.3,177.5 80.6,176.9 80.4,176.4 80.6,175.8 80.6,175.2 80.5,174.6 80.8,174.0 80.9,173.4 81.0,172.9 81.5,172.3 81.4,171.7 81.6,171.1 81.9,170.6 82.1,170.0 82.5,169.4 82.9,168.9 83.1,168.3 83.7,167.8 84.1,167.3 84.3,166.7 83.9,166.1 83.3,165.5 83.2,164.9 83.2,164.3 83.1,163.7 82.9,163.1 82.8,162.5 82.8,162.0 82.8,161.4 82.7,160.8 83.3,160.3 83.0,159.7 82.6,159.0 82.3,158.3 82.2,157.7 82.6,157.2 82.9,156.7 82.6,156.0 83.0,155.5 83.3,155.0 83.4,154.4 83.4,153.8 83.9,153.3 83.8,152.7 84.1,152.2 84.4,151.6 84.6,151.1 85.1,150.6 85.2,150.1 85.7,149.6 86.2,149.2 85.9,148.5 85.9,147.9 86.2,147.3 86.2,146.7 86.0,146.0 86.8,145.7 86.9,145.1 87.2,144.7 87.2,144.0 87.8,143.6 87.3,142.8 87.4,142.2 87.5,141.6 88.0,141.2 88.2,140.6 88.5,140.1 88.9,139.7 88.8,139.0 89.5,138.7 89.6,138.1 89.9,137.6 90.2,137.1 90.7,136.7 91.0,136.2 91.1,135.6 91.5,135.1 91.9,134.7 92.3,134.3 92.1,133.5 92.3,132.9 92.6,132.5 92.6,131.7 93.1,131.4 93.2,130.8 93.6,130.3 93.9,129.9 94.3,129.4 94.6,128.9 95.0,128.4 95.3,128.0 95.5,127.4 96.0,127.0 96.1,126.4 96.6,126.0 96.8,125.4 97.0,124.8 97.6,124.6 97.8,124.0 98.2,123.6 98.6,123.1 98.9,122.7 99.7,122.5 100.0,122.1 100.7,121.9 100.8,121.2 101.4,121.0 101.9,120.6 102.1,120.0 102.9,120.0 103.9,120.1 104.1,119.5 104.2,118.8 104.8,118.6 105.4,118.4 105.3,117.5 105.6,116.9 106.1,116.7 106.3,116.0 106.7,115.6 107.1,115.2 107.4,114.7 108.0,114.5 108.3,113.9 108.8,113.7 109.3,113.4 110.2,113.5 110.9,113.4 111.1,112.8 112.0,113.0 112.6,112.8 113.0,112.4 113.2,111.7 113.2,110.8 113.9,110.9 114.3,110.4 114.8,110.2 115.2,109.7 115.8,109.5 116.5,109.6 116.9,109.2 117.0,108.3 117.6,108.2 117.9,107.7 118.2,107.1 118.9,107.0 119.7,107.2 120.2,106.9 120.7,106.7 121.1,106.4 121.6,106.1 122.4,106.2 122.9,105.9 123.1,105.2 123.5,104.9 124.2,104.9 124.5,104.3 124.8,103.7 125.3,103.4 125.6,102.8 126.2,102.7 126.6,102.2 127.3,102.3 127.7,101.9 128.1,101.4 128.6,101.0 129.1,100.7 129.7,100.7 130.0,100.1 130.6,100.0 131.1,99.6 131.6,99.4 132.0,98.9 132.6,98.8 133.3,99.0 133.8,98.7 134.5,99.0 135.0,98.6 135.7,98.9 136.1,98.3 136.7,98.3 137.2,98.1 137.7,97.8 138.3,97.7 138.6,96.9 139.1,96.7 139.7,96.5 140.2,96.2 140.7,96.0 141.3,95.9 141.9,96.0 142.5,95.8 143.1,96.0 143.6,95.6 144.0,95.1 144.7,95.3 145.2,94.9 145.7,94.7 146.1,93.8 146.6,93.4 147.2,93.3 147.8,93.4 148.4,93.6 149.1,94.0 149.6,93.6 150.1,93.5 150.7,93.1 151.3,93.3 151.8,93.1 152.4,93.1 153.0,93.4 153.6,93.2 154.2,93.3 154.8,93.4 155.3,92.7 155.9,92.9 156.5,93.5 157.1,93.5 157.7,93.6 158.2,94.0 158.8,93.1 159.3,93.5 159.9,92.4 160.5,93.6 161.0,93.3 161.6,93.2 162.2,92.9 162.7,93.3 163.3,93.9 163.9,94.1 164.4,94.5L164.45,90.3A84.3,84.3 0 0 0 164.45,258.9A84.3,84.3 0 0 0 164.45,90.3Z" fill="#000000" fill-rule="nonzero"/>
<path d="M164.45,44.6L164.45,41M164.45,100.1L164.45,103.8M186.41,46.27L186.77,44.2M177.02,101.17L176.63,103.43M207.75,51.81L208.44,49.83M189.22,104.34L188.46,106.51M227.84,60.87L228.86,59.04M200.72,109.53L199.6,111.53M246.11,73.19L247.43,71.56M211.18,116.58L209.74,118.37M261.9,88.56L264.6,86.17M220.3,125.29L217.52,127.74M275.19,106.12L276.97,105.02M227.81,135.42L225.86,136.63M285.15,125.78L287.1,125M233.52,146.67L231.38,147.53M291.66,146.84L293.71,146.4M237.24,158.72L234.99,159.21M294.52,168.7L296.61,168.6M238.87,171.22L236.58,171.33M293.45,190.7L297.02,191.14M238.38,183.83L234.71,183.37M289.08,212.29L291.09,212.89M235.76,196.16L233.56,195.5M280.93,232.77L282.81,233.71M231.1,207.88L229.04,206.86M269.45,251.58L271.15,252.83M224.53,218.65L222.68,217.29M254.96,268.19L256.42,269.7M216.24,228.15L214.64,226.5M237.76,281.95L239.79,284.93M206.46,236.12L204.38,233.07M218.69,292.97L219.56,294.87M195.48,242.33L194.53,240.24M197.94,300.42L198.48,302.45M183.62,246.59L183.02,244.37M176.24,304.27L176.43,306.36M171.2,248.79L170.99,246.5M154.2,304.4L154.03,306.49M158.58,248.87L158.77,246.58M132.5,300.61L131.62,304.1M146.14,246.82L147.05,243.23M111.62,293.6L110.77,295.52M134.22,242.69L135.15,240.59M92.3,282.98L91.14,284.73M123.17,236.62L124.44,234.7M75.06,269.26L73.61,270.79M113.3,228.76L114.88,227.09M60.37,252.82L58.69,254.09M104.89,219.36L106.73,217.98M48.84,234.06L45.64,235.7M98.2,208.67L101.49,206.98M40.28,213.76L38.28,214.39M93.4,197.01L95.59,196.32M35.45,192.26L33.37,192.54M90.64,184.7L92.92,184.39M34.32,170.24L32.22,170.17M89.99,172.11L92.29,172.18M36.92,148.35L34.87,147.93M91.48,159.58L93.73,160.05M43.36,127.29L40.01,125.98M95.06,147.49L98.5,148.83M52.91,107.44L51.11,106.36M100.63,136.17L102.6,137.36M65.83,89.59L64.24,88.22M108.02,125.96L109.76,127.46M81.59,74.17L80.25,72.55M117.04,117.13L118.5,118.91M99.72,61.63L98.67,59.81M127.41,109.96L128.55,111.96M119.77,52.52L118.53,49.14M138.84,104.64L140.12,108.11M140.97,46.54L140.59,44.47M151.01,101.32L151.43,103.58M162.91,44.41L162.88,42.31M163.57,100.11L163.59,102.41" stroke="#222" stroke-width="0.95" fill="none"/>
<line x1="164.45" y1="44.6" x2="164.45" y2="40.8" stroke="#111" stroke-width="1.3"/>
<line x1="164.45" y1="100.1" x2="164.45" y2="104" stroke="#111" stroke-width="1.3"/>
<text x="151.5" y="118.1" font-size="7" fill="#333" text-anchor="middle">14 kbp</text>
<text x="206.9" y="136.5" font-size="7" fill="#333" text-anchor="middle">2 kbp</text>
<text x="223.2" y="186.4" font-size="7" fill="#333" text-anchor="middle">4 kbp</text>
<text x="194" y="230.1" font-size="7" fill="#333" text-anchor="middle">6 kbp</text>
<text x="147.9" y="239.5" font-size="7" fill="#333" text-anchor="middle">8 kbp</text>
<text x="114.8" y="205.4" font-size="7" fill="#333" text-anchor="middle">10 kbp</text>
<text x="112.2" y="156.6" font-size="7" fill="#333" text-anchor="middle">12 kbp</text>
<text x="166.05" y="172.95" font-size="8.8" fill="#222" text-anchor="middle" font-style="italic">Charinus carajas</text>
<text x="164.45" y="183.25" font-size="8.8" fill="#222" text-anchor="middle">14,828 bp</text>
<line x1="166.4" y1="6.5" x2="166.4" y2="39.7" stroke="#d77fd7" stroke-width="0.8"/>
<text x="165.7" y="5.2" font-size="8" fill="#d77fd7" text-anchor="start">I</text>
<line x1="171" y1="14.6" x2="170.1" y2="39.7" stroke="#d77fd7" stroke-width="0.8"/>
<text x="167.9" y="13.3" font-size="8" fill="#d77fd7" text-anchor="start">Q</text>
<line x1="175.4" y1="23" x2="174" y2="39.7" stroke="#d77fd7" stroke-width="0.8"/>
<text x="171.6" y="21.7" font-size="8" fill="#d77fd7" text-anchor="start">M</text>
<line x1="152.5" y1="23.6" x2="153.4" y2="39.7" stroke="#e69a0a" stroke-width="0.8"/>
<text x="146.5" y="22" font-size="8" fill="#e69a0a" text-anchor="start">CR</text>
<line x1="116.7" y1="31" x2="120.9" y2="46.6" stroke="#80cc9c" stroke-width="0.8"/>
<text x="101.1" y="29.5" font-size="8" fill="#80cc9c" text-anchor="start">rrnS</text>
<line x1="91.9" y1="42.2" x2="99.4" y2="56.6" stroke="#d77fd7" stroke-width="0.8"/>
<text x="85.5" y="40.1" font-size="8" fill="#d77fd7" text-anchor="start">V</text>
<line x1="210.3" y1="29.3" x2="204.6" y2="45.9" stroke="#7b7bcc" stroke-width="0.8"/>
<text x="209.5" y="28.5" font-size="8" fill="#7b7bcc" text-anchor="start">nad2</text>
<line x1="239.8" y1="43" x2="231.3" y2="57.5" stroke="#d77fd7" stroke-width="0.8"/>
<text x="240.2" y="41.2" font-size="8" fill="#d77fd7" text-anchor="start">W</text>
<line x1="245" y1="42.3" x2="234.3" y2="59.3" stroke="#d77fd7" stroke-width="0.8"/>
<text x="247.6" y="36.4" font-size="8" fill="#d77fd7" text-anchor="start">C</text>
<line x1="253.6" y1="36.7" x2="238" y2="61.2" stroke="#d77fd7" stroke-width="0.8"/>
<text x="255.8" y="32.3" font-size="8" fill="#d77fd7" text-anchor="start">Y</text>
<line x1="270.9" y1="91.8" x2="284.6" y2="81.4" stroke="#7b7bcc" stroke-width="0.8"/>
<text x="284.9" y="80.7" font-size="8" fill="#7b7bcc" text-anchor="start">cox1</text>
<line x1="296.9" y1="149.5" x2="313.5" y2="146.3" stroke="#7b7bcc" stroke-width="0.8"/>
<text x="314.1" y="149.5" font-size="8" fill="#7b7bcc" text-anchor="start">cox2</text>
<line x1="299.2" y1="169.4" x2="316.1" y2="169.4" stroke="#d77fd7" stroke-width="0.8"/>
<text x="316.8" y="172" font-size="8" fill="#d77fd7" text-anchor="start">K</text>
<line x1="299.2" y1="173.3" x2="332.5" y2="173.3" stroke="#d77fd7" stroke-width="0.8"/>
<text x="332.6" y="176" font-size="8" fill="#d77fd7" text-anchor="start">D</text>
<line x1="299.2" y1="179.9" x2="316.1" y2="180.3" stroke="#7b7bcc" stroke-width="0.8"/>
<text x="316.8" y="183.2" font-size="8" fill="#7b7bcc" text-anchor="start">atp8</text>
<line x1="296.3" y1="202.7" x2="312.9" y2="206.2" stroke="#7b7bcc" stroke-width="0.8"/>
<text x="313.5" y="208.2" font-size="8" fill="#7b7bcc" text-anchor="start">atp6</text>
<line x1="280.9" y1="243" x2="295.4" y2="251.4" stroke="#7b7bcc" stroke-width="0.8"/>
<text x="296" y="258.7" font-size="8" fill="#7b7bcc" text-anchor="start">cox3</text>
<line x1="267.5" y1="261.8" x2="280.5" y2="272.5" stroke="#d77fd7" stroke-width="0.8"/>
<text x="280.9" y="279.5" font-size="8" fill="#d77fd7" text-anchor="start">G</text>
<line x1="259.2" y1="270.7" x2="271" y2="283.2" stroke="#7b7bcc" stroke-width="0.8"/>
<text x="271" y="290.2" font-size="8" fill="#7b7bcc" text-anchor="start">nad3</text>
<line x1="250.8" y1="278.5" x2="261.7" y2="292.5" stroke="#d77fd7" stroke-width="0.8"/>
<text x="261.2" y="298.6" font-size="8" fill="#d77fd7" text-anchor="start">A</text>
<line x1="248" y1="280.6" x2="268" y2="306.5" stroke="#d77fd7" stroke-width="0.8"/>
<text x="268.5" y="313.1" font-size="8" fill="#d77fd7" text-anchor="start">R</text>
<line x1="245.1" y1="283.2" x2="259.7" y2="303.4" stroke="#d77fd7" stroke-width="0.8"/>
<text x="259.7" y="310" font-size="8" fill="#d77fd7" text-anchor="start">N</text>
<line x1="242.2" y1="285.3" x2="265.9" y2="318.5" stroke="#d77fd7" stroke-width="0.8"/>
<text x="265.9" y="325.6" font-size="8" fill="#d77fd7" text-anchor="start">S1</text>
<line x1="239.4" y1="286.8" x2="258.1" y2="313.8" stroke="#d77fd7" stroke-width="0.8"/>
<text x="257.6" y="321.4" font-size="8" fill="#d77fd7" text-anchor="start">E</text>
<line x1="236.3" y1="288.9" x2="245.6" y2="303.4" stroke="#d77fd7" stroke-width="0.8"/>
<text x="245.6" y="310" font-size="8" fill="#d77fd7" text-anchor="start">F</text>
<line x1="195.5" y1="323.9" x2="192" y2="306.8" stroke="#7b7bcc" stroke-width="0.8"/>
<text x="186.6" y="330.9" font-size="8" fill="#7b7bcc" text-anchor="start">nad5</text>
<line x1="138.3" y1="323.9" x2="141.3" y2="307.5" stroke="#d77fd7" stroke-width="0.8"/>
<text x="135.2" y="331.3" font-size="8" fill="#d77fd7" text-anchor="start">H</text>
<line x1="93.9" y1="309.2" x2="102" y2="294.2" stroke="#7b7bcc" stroke-width="0.8"/>
<text x="75.2" y="316.9" font-size="8" fill="#7b7bcc" text-anchor="start">Nad4</text>
<line x1="53.9" y1="279" x2="66.9" y2="267.5" stroke="#7b7bcc" stroke-width="0.8"/>
<text x="34.8" y="287.2" font-size="8" fill="#7b7bcc" text-anchor="start">nad4l</text>
<line x1="26.4" y1="284.7" x2="58.8" y2="259.4" stroke="#d77fd7" stroke-width="0.8"/>
<text x="22" y="291.3" font-size="8" fill="#d77fd7" text-anchor="start">T</text>
<line x1="42.8" y1="265.9" x2="57.1" y2="256.1" stroke="#d77fd7" stroke-width="0.8"/>
<text x="37.9" y="273.3" font-size="8" fill="#d77fd7" text-anchor="start">P</text>
<line x1="34.3" y1="253.7" x2="49" y2="244.7" stroke="#7b7bcc" stroke-width="0.8"/>
<text x="16.8" y="261.1" font-size="8" fill="#7b7bcc" text-anchor="start">nad6</text>
<line x1="15.5" y1="206" x2="32.6" y2="202.2" stroke="#7b7bcc" stroke-width="0.8"/>
<text x="2.9" y="209.7" font-size="8" fill="#7b7bcc" text-anchor="start">cob</text>
<line x1="12.5" y1="168.4" x2="29.3" y2="168.4" stroke="#d77fd7" stroke-width="0.8"/>
<text x="2.9" y="171" font-size="8" fill="#d77fd7" text-anchor="start">S2</text>
<line x1="17" y1="135.6" x2="33.8" y2="139.5" stroke="#7b7bcc" stroke-width="0.8"/>
<text x="0" y="139.2" font-size="8" fill="#7b7bcc" text-anchor="start">nad1</text>
<line x1="16.4" y1="93.6" x2="46.3" y2="110" stroke="#d77fd7" stroke-width="0.8"/>
<text x="8.1" y="92.9" font-size="8" fill="#d77fd7" text-anchor="start">L1</text>
<line x1="28.5" y1="103.2" x2="44.7" y2="112.9" stroke="#d77fd7" stroke-width="0.8"/>
<text x="20.3" y="104.8" font-size="8" fill="#d77fd7" text-anchor="start">L2</text>
<line x1="50.5" y1="72" x2="64.6" y2="84.9" stroke="#80cc9c" stroke-width="0.8"/>
<text x="36.6" y="72.6" font-size="8" fill="#80cc9c" text-anchor="start">rrnL</text>
</g>
<circle cx="510.95" cy="175" r="127.85" fill="none" stroke="#222" stroke-width="0.9"/>
<circle cx="510.95" cy="175" r="117.4" fill="none" stroke="#808080" stroke-width="3.3999999999999915"/>
<path d="M486.28,50.42A127,127 0 0 1 510.95,48L510.95,55A120,120 0 0 0 487.64,57.29Z" fill="#e69a0a"/>
<path d="M510.95,48L512.19,48.01L513.97,51.54L512.12,55.01L510.95,55L510.95,51.5Z" fill="#d77fd7"/>
<path d="M517.82,48.19L519.31,48.28L521.07,51.92L518.84,55.26L517.44,55.18L517.63,51.68Z" fill="#d77fd7"/>
<path d="M522.68,48.54A127,127 0 0 1 570.71,62.94L570.82,66.98L567.42,69.12A120,120 0 0 0 522.03,55.51Z" fill="#7b7bcc"/>
<path d="M572.52,63.92L573.68,64.57L573.63,68.59L570.22,70.66L569.13,70.05L570.82,66.98Z" fill="#d77fd7"/>
<path d="M580.3,68.61A127,127 0 0 1 629.57,129.64L627,132.76L623.03,132.14A120,120 0 0 0 576.48,74.47Z" fill="#7b7bcc"/>
<path d="M630.89,133.23A127,127 0 0 1 637.67,166.52L634.29,168.75L630.68,166.99A120,120 0 0 0 624.28,135.54Z" fill="#7b7bcc"/>
<path d="M637.8,168.8L637.85,169.95L634.41,171.77L630.86,170.23L630.81,169.14L634.3,168.97Z" fill="#d77fd7"/>
<path d="M637.91,171.9L637.94,173.23L634.45,175.22L630.94,173.32L630.91,172.07L634.41,171.98Z" fill="#d77fd7"/>
<path d="M637.95,176.11A127,127 0 0 1 637.8,181.14L634.19,182.97L630.81,180.8A120,120 0 0 0 630.95,176.05Z" fill="#7b7bcc"/>
<path d="M637.66,183.64A127,127 0 0 1 631.12,216.08L627.15,216.83L624.5,213.81A120,120 0 0 0 630.67,183.16Z" fill="#7b7bcc"/>
<path d="M630.06,219.06A127,127 0 0 1 609.41,255.22L605.42,254.55L603.98,250.8A120,120 0 0 0 623.5,216.63Z" fill="#7b7bcc"/>
<path d="M608.1,256.8L607.29,257.75L603.45,256.83L601.98,253.19L602.74,252.29L605.42,254.55Z" fill="#d77fd7"/>
<path d="M606.07,259.15A127,127 0 0 1 594.98,270.22L591.16,268.91L590.35,264.97A120,120 0 0 0 600.82,254.51Z" fill="#7b7bcc"/>
<path d="M592.75,272.15L591.8,272.94L588.17,271.38L587.34,267.54L588.24,266.79L590.5,269.47Z" fill="#d77fd7"/>
<path d="M590.18,274.25L589.21,275.02L585.62,273.37L584.9,269.51L585.82,268.78L588,271.52Z" fill="#d77fd7"/>
<path d="M587.56,276.29L586.56,277.04L583.02,275.29L582.4,271.41L583.33,270.71L585.45,273.5Z" fill="#d77fd7"/>
<path d="M584.88,278.26L583.87,278.98L580.37,277.14L579.85,273.25L580.8,272.57L582.84,275.42Z" fill="#d77fd7"/>
<path d="M582.15,280.16L581.12,280.85L577.67,278.93L577.25,275.02L578.23,274.37L580.19,277.27Z" fill="#d77fd7"/>
<path d="M412.25,254.92L411.05,253.41L412.58,249.67L416.55,249.09L417.69,250.52L414.97,252.72Z" fill="#d77fd7"/>
<path d="M409.12,250.9A127,127 0 0 1 397.72,232.51L399.95,229.14L403.96,229.34A120,120 0 0 0 414.74,246.72Z" fill="#7b7bcc"/>
<path d="M396.32,229.67A127,127 0 0 1 383.95,174.84L387.47,172.84L390.95,174.85A120,120 0 0 0 402.64,226.66Z" fill="#7b7bcc"/>
<path d="M383.98,172.12L384.13,168.19L387.75,166.39L391.12,168.57L390.98,172.28L387.48,172.2Z" fill="#d77fd7"/>
<path d="M516.6,59.54L515.47,59.49L513.69,62.93L515.19,66.48L516.26,66.53L516.43,63.03Z" fill="#d77fd7"/>
<path d="M572.55,77.18L571.39,76.46L567.85,78.41L567.73,82.42L568.82,83.1L570.69,80.14Z" fill="#d77fd7"/>
<path d="M575.59,79.16L574.45,78.4L570.85,80.25L570.61,84.25L571.68,84.97L573.64,82.06Z" fill="#d77fd7"/>
<path d="M569.62,274.6L571.31,273.59L571.18,269.54L567.66,267.62L566.07,268.57L567.85,271.59Z" fill="#d77fd7"/>
<path d="M567.85,271.59L567.84,275.64A115.6,115.6 0 0 1 491.47,288.95L492.65,282.05A108.6,108.6 0 0 0 564.39,269.54Z" fill="#7b7bcc"/>
<path d="M487.9,288.28L489.09,288.51L491.48,285.4L490.41,281.64L489.3,281.42L488.6,284.85Z" fill="#d77fd7"/>
<path d="M487.64,284.65L484.9,287.63A115.6,115.6 0 0 1 430.94,258.44L435.78,253.38A108.6,108.6 0 0 0 486.48,280.81Z" fill="#7b7bcc"/>
<path d="M433.08,255.64L429.18,256.71A115.6,115.6 0 0 1 422.4,249.31L427.76,244.81A108.6,108.6 0 0 0 434.13,251.76Z" fill="#7b7bcc"/>
<path d="M416.84,242.13L418.6,244.53L422.61,244.02L424.19,240.32L422.54,238.06L419.69,240.1Z" fill="#d77fd7"/>
<path d="M399.15,166.79L395.83,164.48A115.6,115.6 0 0 1 407.5,123.42L413.76,126.54A108.6,108.6 0 0 0 402.8,165.12Z" fill="#7b7bcc"/>
<path d="M409.75,119.13L409.24,120.05L411.61,123.06L415.4,123.38L415.87,122.52L412.81,120.82Z" fill="#d77fd7"/>
<path d="M411.14,116.68L410.62,117.58L412.91,120.65L416.69,121.06L417.19,120.21L414.16,118.44Z" fill="#d77fd7"/>
<path d="M411.35,116.33A115.6,115.6 0 0 1 446.81,78.83L450.69,84.65A108.6,108.6 0 0 0 417.38,119.88Z" fill="#80cc9c"/>
<path d="M458.47,72L456.72,72.91L456.6,76.96L460,79.09L461.65,78.24L460.06,75.12Z" fill="#d77fd7"/>
<path d="M459.91,71.28A115.6,115.6 0 0 1 489.09,61.49L490.41,68.36A108.6,108.6 0 0 0 463,77.56Z" fill="#80cc9c"/>
<circle cx="510.95" cy="175" r="107.75" fill="none" stroke="#222" stroke-width="0.9"/>
<circle cx="510.95" cy="175" r="92.05" fill="none" stroke="#222" stroke-width="0.9"/>
<circle cx="510.95" cy="175" r="76.35" fill="none" stroke="#222" stroke-width="0.9"/>
<path d="M510.9,68.4 511.7,69.2 512.4,69.0 513.2,69.3 513.9,69.3 514.6,69.7 515.4,69.9 516.1,69.9 516.8,70.1 517.5,70.6 518.2,71.4 518.9,71.7 519.6,72.0 520.3,72.5 520.9,73.1 521.6,73.5 522.3,73.6 523.0,73.9 523.7,73.9 524.4,74.0 525.1,74.3 525.8,74.6 526.5,74.8 527.1,75.0 527.8,75.3 528.5,75.6 529.1,75.9 529.8,76.2 530.5,76.4 531.1,76.7 531.8,77.0 532.4,77.4 533.1,77.6 533.8,77.7 534.4,77.9 535.1,78.1 535.8,78.2 536.5,78.4 537.1,78.6 537.8,78.8 538.5,79.0 539.2,79.2 539.8,79.4 540.5,79.6 541.2,79.8 541.8,80.0 542.5,80.2 543.1,80.4 543.8,80.7 544.5,80.9 545.1,81.1 545.8,81.4 546.4,81.6 547.1,81.9 547.7,82.1 548.4,82.4 549.0,82.6 549.7,82.9 550.3,83.2 550.9,83.5 551.6,83.7 552.2,84.0 552.9,84.3 553.5,84.6 554.1,84.9 554.7,85.2 555.4,85.5 556.0,85.8 556.6,86.1 557.2,86.5 557.9,86.8 558.5,87.1 559.1,87.5 559.7,87.8 560.3,88.1 560.9,88.5 561.5,88.8 562.2,89.1 563.0,89.1 563.9,89.0 564.6,89.1 565.2,89.5 565.9,89.8 566.5,90.1 567.1,90.4 567.6,91.0 568.2,91.3 568.9,91.6 569.5,92.1 570.0,92.5 570.7,92.8 571.3,93.2 571.9,93.6 572.6,93.8 573.1,94.2 573.7,94.7 574.3,95.0 574.8,95.6 575.5,95.9 576.1,96.2 576.7,96.7 577.4,97.0 577.8,97.5 578.2,98.2 578.9,98.4 579.3,99.1 579.9,99.5 580.3,100.1 580.7,100.7 581.4,101.1 581.8,101.7 582.2,102.2 582.7,102.7 583.4,103.1 583.8,103.7 584.3,104.2 584.9,104.6 585.4,105.1 586.1,105.4 586.7,105.9 587.1,106.4 587.7,106.9 588.3,107.3 589.0,107.7 589.6,108.1 589.9,108.8 590.3,109.3 590.9,109.8 591.5,110.3 591.9,110.8 592.5,111.3 592.6,112.1 592.8,112.9 593.6,113.2 593.8,113.9 594.2,114.5 594.7,115.0 595.1,115.7 595.3,116.4 595.9,116.8 596.1,117.6 596.5,118.2 597.1,118.7 597.5,119.2 598.1,119.7 598.3,120.4 598.5,121.1 599.0,121.7 599.1,122.4 599.4,123.1 599.8,123.7 600.1,124.4 600.5,124.9 600.9,125.5 601.3,126.2 601.4,126.9 601.6,127.6 602.0,128.2 601.9,129.0 602.2,129.7 602.3,130.5 602.3,131.3 602.4,132.0 602.6,132.7 602.6,133.4 602.6,134.2 602.8,134.9 602.8,135.6 603.0,136.3 603.3,136.9 603.6,137.6 603.8,138.2 604.1,138.9 604.3,139.5 604.6,140.2 604.8,140.8 605.1,141.5 605.3,142.1 605.5,142.8 605.7,143.5 606.0,144.1 606.2,144.8 606.4,145.5 606.6,146.1 606.8,146.8 607.0,147.5 607.2,148.1 607.4,148.8 607.5,149.5 607.7,150.2 607.9,150.8 608.0,151.5 608.2,152.2 608.4,152.9 608.8,153.5 609.6,154.0 609.9,154.7 610.2,155.3 610.5,156.0 610.6,156.7 610.8,157.4 611.1,158.1 611.2,158.8 611.3,159.5 611.4,160.2 611.6,160.9 611.7,161.6 612.1,162.2 612.1,162.9 612.3,163.6 612.2,164.4 612.2,165.1 612.2,165.8 612.4,166.5 612.6,167.2 612.7,167.9 612.4,168.6 612.3,169.3 612.3,170.0 612.1,170.8 612.0,171.5 611.8,172.2 611.5,172.9 611.2,173.6 610.8,174.3 610.9,175.0 610.8,175.7 610.8,176.4 610.8,177.1 610.8,177.8 610.8,178.5 610.8,179.2 610.7,179.9 610.7,180.6 610.7,181.3 610.6,182.0 610.6,182.7 610.5,183.4 610.4,184.1 610.4,184.7 610.3,185.4 610.2,186.1 610.1,186.8 610.1,187.5 610.0,188.2 609.9,188.9 609.8,189.6 609.7,190.3 609.6,191.0 609.5,191.7 609.3,192.3 609.2,193.0 609.1,193.7 608.9,194.4 608.8,195.1 608.7,195.8 608.8,196.5 608.9,197.3 608.8,198.0 608.7,198.6 608.4,199.3 608.3,200.0 608.0,200.7 607.8,201.3 607.6,202.0 607.6,202.7 607.4,203.4 607.1,204.0 606.9,204.7 606.7,205.4 606.5,206.0 606.3,206.7 606.2,207.4 605.9,208.1 605.5,208.7 605.2,209.3 604.9,209.9 604.7,210.6 604.6,211.3 604.4,212.0 604.2,212.7 603.9,213.3 603.6,214.0 603.4,214.6 603.1,215.3 602.8,215.9 602.6,216.6 602.3,217.2 602.1,217.9 601.7,218.5 601.5,219.2 601.1,219.7 600.7,220.3 600.4,221.0 600.2,221.6 599.9,222.3 599.5,222.9 599.2,223.5 598.8,224.1 598.4,224.7 598.2,225.4 597.8,226.0 597.6,226.6 597.1,227.2 596.8,227.8 596.4,228.4 596.1,229.1 595.7,229.6 595.4,230.3 595.0,230.8 594.7,231.5 594.3,232.1 593.9,232.7 593.5,233.2 593.1,233.8 592.9,234.5 592.5,235.1 592.0,235.7 591.6,236.2 591.1,236.8 590.7,237.3 590.2,237.9 589.8,238.4 589.4,239.0 589.1,239.6 588.7,240.3 588.2,240.7 587.8,241.4 587.3,241.9 586.7,242.3 586.2,242.8 585.9,243.4 585.4,244.0 585.0,244.5 584.6,245.1 584.1,245.6 583.5,246.1 583.2,246.7 582.7,247.2 582.3,247.9 581.7,248.2 581.4,249.0 580.8,249.4 580.4,250.0 579.9,250.5 579.3,250.9 578.7,251.3 578.1,251.7 577.6,252.2 577.2,252.8 576.7,253.3 576.1,253.7 575.6,254.3 575.0,254.7 574.4,255.1 574.0,255.7 573.4,256.1 573.0,256.7 572.4,257.1 571.6,257.2 570.6,257.1 569.8,257.2 568.9,257.2 568.1,257.3 567.4,257.4 566.8,257.8 566.2,258.2 565.7,258.6 565.1,259.0 564.5,259.3 563.9,259.7 563.3,260.1 562.7,260.5 562.1,260.8 561.5,261.2 560.9,261.5 560.3,261.9 559.7,262.2 559.1,262.5 558.5,262.9 557.9,263.2 557.2,263.5 556.6,263.9 556.0,264.2 555.4,264.5 554.7,264.8 554.1,265.1 553.5,265.4 552.9,265.7 552.2,266.0 551.6,266.3 550.9,266.5 550.3,266.8 549.7,267.1 549.0,267.4 548.4,267.6 547.7,267.9 547.1,268.1 546.4,268.4 545.8,268.6 545.1,268.9 544.5,269.1 543.8,269.3 543.1,269.6 542.5,269.8 541.8,270.0 541.2,270.2 540.5,270.4 539.8,270.6 539.2,270.8 538.5,271.0 537.8,271.2 537.1,271.4 536.5,271.6 535.8,271.8 535.1,271.9 534.4,272.1 533.8,272.3 533.1,272.4 532.4,272.6 531.7,272.7 531.0,272.9 530.4,273.0 529.7,273.1 529.1,273.7 528.5,274.3 527.8,274.5 527.1,274.6 526.4,274.7 525.7,274.9 525.0,275.0 524.3,275.1 523.6,275.1 522.9,275.2 522.2,275.3 521.5,275.4 520.8,275.5 520.1,275.5 519.4,275.7 518.7,275.7 518.0,275.6 517.3,275.7 516.6,275.8 515.9,275.9 515.2,275.8 514.5,275.7 513.8,275.3 513.0,274.9 512.3,274.9 511.6,274.9 510.9,274.9 510.3,274.9 509.6,274.9 508.9,274.9 508.2,274.9 507.5,274.8 506.8,274.8 506.1,274.8 505.4,274.7 504.7,274.7 504.0,274.7 503.3,274.6 502.6,274.5 501.9,274.5 501.2,274.4 500.5,274.4 499.8,274.3 499.1,274.2 498.4,274.1 497.7,274.0 497.0,273.9 496.4,273.8 495.7,273.7 495.0,273.6 494.3,273.5 493.6,273.4 492.9,273.3 492.2,273.1 491.5,273.0 490.9,272.9 490.2,272.7 489.5,272.6 488.8,272.4 488.1,272.3 487.5,272.1 486.8,271.9 486.1,271.8 485.4,271.6 484.8,271.4 484.1,271.2 483.4,271.0 482.7,270.8 482.1,270.6 481.4,270.4 480.7,270.2 480.1,270.0 479.4,269.8 478.8,269.6 478.1,269.3 477.4,269.1 476.8,268.9 476.1,268.6 475.5,268.4 474.8,268.1 474.2,267.9 473.5,267.6 472.9,267.4 472.2,267.1 471.6,266.8 471.0,266.5 470.3,266.3 469.7,266.0 469.0,265.7 468.4,265.4 467.8,265.1 467.2,264.8 466.5,264.5 465.9,264.2 465.3,263.9 464.7,263.5 464.0,263.2 463.4,262.9 462.8,262.5 462.2,262.2 461.6,261.9 461.0,261.5 460.4,261.2 459.8,260.8 459.2,260.5 458.6,260.1 458.0,259.7 457.4,259.3 456.8,259.0 456.2,258.6 455.7,258.2 455.1,257.8 454.5,257.4 453.9,257.0 453.4,256.6 452.8,256.2 452.2,255.8 451.7,255.4 451.1,255.0 450.6,254.6 450.0,254.1 449.4,253.7 448.9,253.3 448.4,252.9 447.8,252.4 447.3,252.0 446.7,251.5 446.2,251.1 445.7,250.6 445.1,250.2 444.6,249.7 444.1,249.2 443.6,248.8 443.1,248.3 442.6,247.8 442.1,247.3 441.6,246.9 441.1,246.4 440.6,245.9 440.1,245.4 439.6,244.9 439.1,244.4 438.6,243.9 438.1,243.4 437.7,242.9 437.2,242.4 436.7,241.8 436.2,241.3 435.8,240.8 435.3,240.3 434.9,239.7 434.4,239.2 434.0,238.7 433.5,238.1 433.1,237.6 432.7,237.1 432.2,236.5 431.8,236.0 431.4,235.4 431.0,234.8 430.5,234.3 430.1,233.7 429.7,233.2 429.3,232.6 428.9,232.0 428.5,231.4 428.1,230.9 427.7,230.3 427.4,229.7 427.0,229.1 426.6,228.5 426.2,227.9 425.9,227.3 425.5,226.8 425.1,226.2 424.8,225.6 424.4,225.0 424.1,224.3 423.7,223.7 423.4,223.1 423.1,222.5 422.7,221.9 422.4,221.3 422.1,220.7 421.8,220.0 421.5,219.4 421.2,218.8 420.9,218.2 420.6,217.5 420.3,216.9 420.0,216.3 419.6,215.7 419.0,215.2 418.6,214.6 418.3,214.0 417.9,213.4 417.5,212.8 417.1,212.2 416.5,211.6 415.9,211.1 415.5,210.5 414.9,210.0 414.9,209.2 414.5,208.6 414.4,207.9 414.3,207.2 414.1,206.5 413.7,205.9 413.4,205.2 413.0,204.6 412.7,203.9 412.6,203.2 412.3,202.5 412.1,201.9 411.7,201.2 411.5,200.5 411.4,199.8 411.3,199.1 411.3,198.4 411.4,197.6 411.3,196.9 411.4,196.2 411.3,195.5 411.3,194.7 411.3,194.0 411.3,193.3 411.2,192.6 411.4,191.8 411.8,191.1 411.9,190.3 411.9,189.6 412.0,188.9 411.9,188.2 411.8,187.5 411.8,186.8 411.7,186.1 411.6,185.4 411.5,184.7 411.5,184.1 411.4,183.4 411.3,182.7 411.3,182.0 411.2,181.3 411.2,180.6 411.2,179.9 411.1,179.2 411.1,178.5 411.1,177.8 411.1,177.1 411.1,176.4 411.1,175.7 411.0,175.0 411.1,174.3 411.1,173.6 411.1,172.9 411.1,172.2 411.1,171.5 411.1,170.8 411.2,170.1 411.2,169.4 411.2,168.7 411.3,168.0 411.3,167.3 411.4,166.6 411.5,165.9 411.5,165.3 411.6,164.6 411.7,163.9 411.8,163.2 411.8,162.5 411.9,161.8 412.0,161.1 412.1,160.4 412.2,159.7 412.3,159.0 412.4,158.3 412.6,157.7 412.7,157.0 412.8,156.3 413.0,155.6 413.1,154.9 413.2,154.2 413.4,153.5 413.5,152.9 413.7,152.2 413.9,151.5 414.0,150.8 414.2,150.2 414.4,149.5 414.5,148.8 414.7,148.1 414.9,147.5 415.1,146.8 415.3,146.1 415.5,145.5 415.7,144.8 415.9,144.1 416.2,143.5 416.4,142.8 416.6,142.1 416.8,141.5 417.1,140.8 417.3,140.2 417.6,139.5 417.8,138.9 418.1,138.2 418.3,137.6 418.6,136.9 418.9,136.3 419.1,135.6 419.4,135.0 419.7,134.4 420.0,133.7 420.3,133.1 420.6,132.5 420.9,131.8 421.2,131.2 421.5,130.6 421.8,130.0 422.1,129.3 422.4,128.7 422.7,128.1 423.1,127.5 423.3,126.8 423.5,126.1 423.7,125.5 423.9,124.7 424.2,124.1 424.4,123.4 424.8,122.8 425.2,122.2 425.6,121.7 426.0,121.1 426.3,120.5 426.7,119.9 427.1,119.3 427.5,118.7 427.9,118.1 428.3,117.5 428.8,117.0 429.1,116.4 429.6,115.9 430.0,115.3 430.4,114.7 430.7,114.1 431.2,113.6 431.7,113.0 432.2,112.6 432.8,112.2 433.3,111.7 434.0,111.3 434.4,110.8 434.9,110.3 435.3,109.7 435.8,109.2 436.2,108.7 436.7,108.2 437.2,107.6 437.7,107.1 438.1,106.6 438.6,106.1 439.1,105.6 439.6,105.1 440.1,104.6 440.6,104.1 441.1,103.6 441.6,103.1 442.1,102.7 442.6,102.2 443.1,101.7 443.6,101.2 444.1,100.8 444.6,100.3 445.1,99.8 445.7,99.4 446.2,98.9 446.7,98.5 447.3,98.0 447.8,97.6 448.4,97.1 448.9,96.7 449.4,96.3 450.0,95.9 450.6,95.4 451.1,95.0 451.7,94.6 452.2,94.2 452.8,93.8 453.4,93.4 453.9,93.0 454.5,92.6 455.1,92.2 455.7,91.8 456.2,91.4 456.8,91.0 457.4,90.7 458.0,90.3 458.6,89.9 459.2,89.5 459.8,89.2 460.4,88.8 461.0,88.5 461.6,88.1 462.2,87.8 462.8,87.5 463.4,87.1 464.0,86.8 464.7,86.5 465.3,86.1 465.9,85.8 466.5,85.5 467.2,85.2 467.8,84.9 468.4,84.6 469.0,84.3 469.5,83.7 470.0,83.0 470.6,82.6 471.2,82.3 471.9,82.1 472.6,81.9 473.2,81.7 473.9,81.3 474.5,81.0 475.1,80.7 475.8,80.4 476.5,80.2 477.1,80.0 477.8,79.8 478.5,79.6 479.1,79.3 479.8,79.1 480.4,78.7 481.0,78.4 481.7,78.0 482.4,77.9 483.0,77.6 483.7,77.4 484.3,76.9 484.9,76.4 485.6,76.1 486.3,76.2 486.9,75.7 487.6,75.5 488.2,75.1 488.9,74.7 489.6,74.5 490.2,74.0 490.9,73.6 491.5,73.0 492.2,72.8 492.9,72.5 493.5,72.1 494.2,71.8 494.9,71.3 495.6,70.7 496.3,70.7 497.0,70.2 497.7,70.2 498.4,69.9 499.1,69.6 499.8,69.2 500.6,69.6 501.4,69.5 502.1,69.7 502.9,69.8 503.6,69.4 504.3,69.5 505.1,69.5 505.8,69.2 506.5,69.5 507.3,69.2 508.0,68.9 508.7,69.2 509.5,69.3 510.2,69.3 510.9,69.5L510.95,75.1A99.9,99.9 0 0 0 510.95,274.9A99.9,99.9 0 0 0 510.95,75.1Z" fill="#009900" fill-rule="nonzero"/>
<path d="M510.9,75.1 511.6,75.1 512.3,75.1 513.0,75.1 513.7,75.1 514.4,75.2 515.1,75.2 515.8,75.2 516.5,75.3 517.2,75.3 517.9,75.3 518.6,75.4 519.3,75.5 520.0,75.5 520.7,75.6 521.4,75.6 522.1,75.7 522.8,75.8 523.5,75.9 524.2,76.0 524.9,76.1 525.5,76.2 526.2,76.3 526.9,76.4 527.6,76.5 528.3,76.6 529.0,76.7 529.7,76.9 530.4,77.0 531.0,77.1 531.7,77.3 532.4,77.4 533.1,77.7 533.7,78.0 534.4,78.2 535.0,78.4 535.6,78.8 536.3,79.1 536.9,79.6 537.5,79.9 538.1,80.4 538.7,80.6 539.3,81.0 540.0,81.3 540.6,81.6 541.2,82.0 541.7,82.6 542.3,82.9 542.9,83.3 543.4,83.8 543.9,84.5 544.5,84.8 545.0,85.2 545.6,85.8 546.0,86.4 546.7,86.5 547.3,86.7 547.9,87.2 548.6,87.1 549.1,87.6 549.8,87.7 550.4,88.1 551.0,88.4 551.8,88.3 552.5,88.2 553.3,88.2 553.9,88.5 554.6,88.6 555.2,89.0 555.9,89.1 556.6,89.2 557.4,89.2 558.3,88.9 559.1,88.9 559.8,89.0 560.6,89.0 561.4,89.0 562.1,89.2 562.7,89.5 563.3,89.9 563.9,90.3 564.5,90.7 565.1,91.0 565.7,91.4 566.2,91.8 566.8,92.2 567.4,92.6 568.0,93.0 568.5,93.4 569.1,93.8 569.7,94.2 570.2,94.6 570.8,95.0 571.3,95.4 571.9,95.9 572.5,96.3 573.0,96.7 573.5,97.1 574.1,97.6 574.6,98.0 575.2,98.5 575.7,98.9 576.2,99.4 576.8,99.8 577.3,100.3 577.8,100.8 578.3,101.2 578.8,101.7 579.3,102.2 579.8,102.7 580.3,103.1 580.8,103.6 581.3,104.1 581.8,104.6 582.3,105.1 582.8,105.6 583.3,106.1 583.8,106.6 584.2,107.1 584.7,107.6 585.2,108.2 585.7,108.7 586.1,109.2 586.6,109.7 587.0,110.3 587.5,110.8 587.9,111.3 588.4,111.9 588.8,112.4 589.2,112.9 589.7,113.5 590.1,114.0 590.5,114.6 590.9,115.2 591.4,115.7 591.8,116.3 592.2,116.8 592.6,117.4 593.0,118.0 593.4,118.6 593.8,119.1 594.2,119.7 594.5,120.3 594.9,120.9 595.3,121.5 595.7,122.1 596.0,122.7 596.4,123.2 596.8,123.8 597.1,124.4 597.5,125.0 597.8,125.7 598.2,126.3 598.5,126.9 598.8,127.5 599.2,128.1 599.5,128.7 599.8,129.3 600.1,130.0 600.4,130.6 600.7,131.2 601.0,131.8 601.3,132.5 601.6,133.1 601.9,133.7 602.2,134.4 602.5,135.0 602.8,135.6 602.8,136.4 602.8,137.2 602.8,137.9 603.1,138.5 603.1,139.3 603.4,139.9 603.7,140.5 603.9,141.2 604.0,141.9 604.2,142.5 604.4,143.2 604.5,143.9 604.7,144.5 605.0,145.2 605.2,145.8 605.4,146.5 605.6,147.1 605.7,147.8 606.1,148.4 606.3,149.1 606.6,149.7 606.7,150.4 606.9,151.1 607.2,151.7 607.5,152.4 608.0,152.9 608.5,153.5 608.7,154.2 608.8,154.9 608.9,155.6 609.1,156.3 609.2,157.0 609.3,157.7 609.5,158.3 609.6,159.0 609.7,159.7 609.8,160.4 609.9,161.1 610.0,161.8 610.1,162.5 610.1,163.2 610.2,163.9 610.3,164.6 610.4,165.3 610.4,165.9 610.5,166.6 610.6,167.3 610.6,168.0 610.7,168.7 610.7,169.4 610.7,170.1 610.8,170.8 610.8,171.5 610.8,172.2 610.8,172.9 610.8,173.6 610.7,174.3 610.5,175.0 610.2,175.7 609.7,176.4 609.1,177.1 608.9,177.7 608.9,178.4 608.6,179.1 608.3,179.8 608.2,180.4 607.9,181.1 607.3,181.7 607.2,182.4 606.7,183.0 606.5,183.7 606.3,184.4 606.2,185.0 606.3,185.7 606.3,186.4 605.9,187.0 606.2,187.7 606.2,188.4 606.7,189.1 606.9,189.9 607.1,190.6 607.6,191.3 607.8,192.1 608.0,192.8 608.2,193.6 608.4,194.3 608.6,195.0 608.7,195.8 608.5,196.5 608.4,197.1 608.2,197.8 608.0,198.5 607.9,199.2 607.7,199.8 607.5,200.5 607.4,201.2 607.2,201.9 607.0,202.5 606.8,203.2 606.6,203.9 606.4,204.5 606.2,205.2 606.0,205.9 605.7,206.5 605.5,207.2 605.3,207.9 605.1,208.5 604.8,209.2 604.6,209.8 604.3,210.5 604.1,211.1 603.8,211.8 603.6,212.4 603.3,213.1 603.0,213.7 602.8,214.4 602.5,215.0 602.2,215.6 601.9,216.3 601.6,216.9 601.3,217.5 601.0,218.2 600.7,218.8 600.4,219.4 600.1,220.0 599.8,220.7 599.5,221.3 599.2,221.9 598.8,222.5 598.5,223.1 598.2,223.7 597.8,224.3 597.5,224.9 597.1,225.6 596.8,226.2 596.4,226.8 596.0,227.3 595.7,227.9 595.3,228.5 594.9,229.1 594.5,229.7 594.2,230.3 593.8,230.9 593.4,231.4 593.0,232.0 592.6,232.6 592.2,233.2 591.8,233.7 591.4,234.3 590.9,234.8 590.5,235.4 590.1,236.0 589.7,236.5 589.2,237.1 588.8,237.6 588.4,238.1 587.9,238.7 587.5,239.2 587.0,239.7 586.6,240.3 586.1,240.8 585.7,241.3 585.2,241.8 584.7,242.4 584.2,242.9 583.8,243.4 583.3,243.9 582.8,244.4 582.3,244.9 581.8,245.4 581.3,245.9 580.8,246.4 580.3,246.9 579.8,247.3 579.3,247.8 578.8,248.3 578.3,248.8 577.8,249.2 577.3,249.7 576.8,250.2 576.2,250.6 575.7,251.1 575.2,251.5 574.6,252.0 574.1,252.4 573.5,252.9 573.0,253.3 572.5,253.7 571.9,254.1 571.3,254.6 570.8,255.0 570.2,255.4 569.7,255.8 569.1,256.2 568.5,256.6 568.0,257.0 567.3,257.3 566.4,257.2 565.5,257.1 564.6,257.0 563.7,256.9 562.9,256.9 562.0,256.6 561.5,257.1 560.8,257.2 560.1,257.4 559.5,257.7 558.9,258.1 558.3,258.4 557.7,258.7 556.9,258.6 556.4,259.1 555.8,259.3 555.2,259.6 554.4,259.6 553.9,259.9 553.2,260.0 552.7,260.7 552.1,260.9 551.6,261.3 551.0,261.6 550.4,262.0 549.8,262.3 549.2,262.6 548.5,262.6 547.8,262.6 547.1,262.8 546.5,263.0 546.0,263.5 545.4,263.9 544.7,263.8 544.1,264.1 543.6,264.8 543.0,265.0 542.4,265.4 541.9,265.8 541.2,265.9 540.5,265.9 539.8,266.0 539.3,266.6 538.7,266.9 538.1,267.3 537.5,267.6 536.9,267.9 536.4,268.5 535.7,268.8 535.1,269.2 534.6,269.7 533.9,270.1 533.3,270.3 532.7,270.6 532.0,270.9 531.4,271.2 530.8,271.8 530.2,272.4 529.7,273.0 529.0,273.3 528.3,273.4 527.6,273.5 526.9,273.6 526.2,273.7 525.5,273.8 524.9,273.9 524.2,274.0 523.5,274.1 522.8,274.2 522.1,274.3 521.4,274.4 520.7,274.4 520.0,274.5 519.3,274.5 518.6,274.6 517.9,274.7 517.2,274.7 516.5,274.7 515.8,274.8 515.1,274.8 514.4,274.8 513.7,274.9 513.0,274.9 512.3,274.3 511.6,273.8 510.9,273.3 510.3,273.1 509.6,273.0 508.9,272.9 508.2,272.5 507.6,272.3 506.9,272.0 506.2,271.7 505.6,271.4 504.9,271.4 504.2,271.2 503.5,271.2 502.9,271.1 502.2,270.9 501.6,270.8 500.9,271.0 500.2,270.7 499.5,270.6 498.9,270.3 498.3,270.1 497.6,270.3 496.9,270.2 496.3,269.6 495.6,269.5 495.0,269.3 494.4,268.8 493.7,268.9 493.1,268.5 492.5,268.2 491.9,268.0 491.1,268.3 490.4,268.6 489.7,268.5 489.2,267.8 488.5,267.7 487.8,267.9 487.1,267.9 486.5,267.6 485.9,267.2 485.3,266.9 484.7,266.7 484.1,266.3 483.4,266.3 482.7,266.2 482.0,266.3 481.3,266.3 480.7,266.1 480.1,265.6 479.4,265.5 478.7,265.5 478.0,265.6 477.3,265.4 476.5,265.6 475.9,265.3 475.4,264.8 474.6,264.9 473.9,264.9 473.3,264.5 472.6,264.4 472.0,264.1 471.4,263.7 470.8,263.6 470.0,263.6 469.4,263.3 468.9,262.7 468.2,262.6 467.7,262.2 466.9,262.2 466.3,261.9 465.7,261.5 465.1,261.1 464.6,260.8 464.0,260.5 463.3,260.3 462.8,259.8 462.1,259.6 461.6,259.0 461.1,258.5 460.6,258.2 460.0,257.8 459.4,257.4 458.7,257.3 458.3,256.7 457.7,256.3 457.3,255.8 456.7,255.4 456.3,254.9 456.0,254.1 455.5,253.6 455.0,253.2 454.6,252.5 454.3,251.8 453.8,251.3 453.2,251.0 453.1,250.2 452.8,249.5 452.4,248.9 451.8,248.5 451.3,248.1 450.9,247.6 450.6,247.0 450.2,246.3 449.8,245.8 449.4,245.3 448.8,245.0 448.3,244.6 447.6,244.4 447.0,244.1 446.4,243.8 445.9,243.3 445.5,242.8 445.3,242.1 444.3,242.1 444.0,241.4 443.3,241.3 442.8,240.8 442.6,240.1 441.8,239.9 441.2,239.6 440.3,239.5 439.9,239.0 439.9,238.1 439.2,237.8 438.6,237.4 438.2,236.9 437.6,236.5 436.9,236.2 436.6,235.6 435.8,235.4 435.2,235.0 434.7,234.6 434.1,234.2 433.9,233.5 433.7,232.8 433.1,232.4 432.6,231.9 432.0,231.5 431.7,230.9 431.0,230.6 430.7,229.9 430.5,229.3 429.9,228.9 429.3,228.4 429.2,227.7 428.8,227.1 428.3,226.6 428.0,226.0 427.7,225.4 427.3,224.9 426.8,224.3 426.3,223.9 426.0,223.2 425.4,222.8 424.9,222.3 424.3,221.9 423.9,221.3 423.6,220.6 423.2,220.1 422.6,219.6 422.2,219.1 421.8,218.5 421.4,217.9 420.8,217.4 420.5,216.8 420.0,216.3 419.7,215.6 419.4,215.0 419.1,214.4 418.9,213.7 418.6,213.1 418.3,212.4 418.1,211.8 417.8,211.1 417.6,210.5 417.3,209.8 417.1,209.2 416.8,208.5 416.6,207.9 416.4,207.2 416.2,206.5 415.9,205.9 415.7,205.2 415.5,204.5 415.3,203.9 415.1,203.2 414.9,202.5 414.7,201.9 414.5,201.2 414.4,200.5 414.2,199.8 414.0,199.2 413.9,198.5 413.7,197.8 413.5,197.1 413.4,196.5 413.2,195.8 413.1,195.1 413.0,194.4 412.8,193.7 412.7,193.0 412.6,192.3 412.4,191.7 412.3,191.0 412.2,190.3 412.1,189.6 412.1,188.9 412.5,188.1 412.8,187.4 412.9,186.7 412.7,186.0 412.7,185.3 412.5,184.7 412.5,184.0 412.4,183.3 412.4,182.6 412.3,181.9 412.3,181.2 412.3,180.5 412.3,179.8 412.5,179.1 412.4,178.4 412.5,177.8 412.4,177.1 412.3,176.4 412.5,175.7 412.3,175.0 412.2,174.3 412.4,173.6 412.4,172.9 412.3,172.2 412.5,171.6 412.4,170.9 412.5,170.2 412.4,169.5 412.5,168.8 412.6,168.1 412.7,167.4 412.7,166.7 412.7,166.1 412.8,165.4 412.8,164.7 413.1,164.0 413.2,163.3 413.5,162.7 413.4,162.0 413.4,161.3 413.4,160.6 413.7,159.9 413.7,159.2 414.0,158.6 414.2,157.9 414.2,157.2 414.5,156.6 414.9,156.0 414.8,155.3 415.1,154.6 415.4,154.0 415.7,153.4 415.8,152.7 415.8,152.0 416.1,151.3 416.3,150.7 416.2,150.0 416.5,149.3 416.6,148.7 416.5,147.9 416.9,147.3 417.1,146.7 417.2,146.0 417.5,145.4 417.7,144.7 417.9,144.0 418.2,143.4 418.5,142.8 418.6,142.1 418.8,141.5 419.0,140.8 419.0,140.1 419.2,139.4 419.4,138.8 419.5,138.0 419.8,137.4 420.1,136.8 420.5,136.2 420.6,135.5 420.7,134.8 421.0,134.2 421.3,133.6 421.6,133.0 421.8,132.3 421.9,131.6 422.2,130.9 422.6,130.4 422.6,129.6 422.7,128.9 423.0,128.2 423.1,127.5 423.4,126.9 423.7,126.3 424.1,125.7 424.4,125.0 424.8,124.4 425.1,123.8 425.5,123.2 425.9,122.7 426.2,122.1 426.6,121.5 427.0,120.9 427.4,120.3 427.7,119.7 428.1,119.1 428.5,118.6 428.9,118.0 429.3,117.4 429.7,116.8 430.1,116.3 430.5,115.7 431.0,115.2 431.4,114.6 431.8,114.0 432.2,113.5 432.7,112.9 433.1,112.4 433.5,111.9 434.0,111.3 434.5,110.8 435.0,110.4 435.7,110.0 436.2,109.6 436.8,109.2 437.4,108.8 438.2,108.5 438.7,108.1 439.2,107.7 439.7,107.2 440.3,106.8 440.9,106.4 441.6,106.1 442.1,105.7 442.6,105.2 443.2,104.8 443.9,104.6 444.5,104.2 445.0,103.8 445.4,103.2 445.9,102.8 446.5,102.4 447.1,102.1 447.5,101.5 448.0,101.1 448.7,100.8 449.3,100.5 449.7,99.9 450.5,99.9 451.1,99.5 451.7,99.2 452.5,99.1 452.9,98.5 453.4,98.1 454.0,97.8 454.5,97.4 455.1,97.0 455.6,96.5 456.1,96.0 456.4,95.4 457.1,95.2 457.7,94.8 458.0,94.1 458.6,93.8 459.3,93.6 459.7,93.0 460.3,92.7 460.7,92.1 461.3,91.7 461.7,91.0 462.3,90.8 462.8,90.3 463.3,89.8 463.9,89.5 464.5,89.2 465.2,88.9 465.6,88.3 466.2,87.9 466.8,87.7 467.3,87.1 467.9,86.7 468.2,85.8 468.7,85.2 469.1,84.4 469.7,84.0 470.3,83.7 471.0,83.5 471.6,83.2 472.2,82.9 472.9,82.6 473.5,82.4 474.2,82.1 474.8,81.9 475.5,81.6 476.1,81.4 476.8,81.1 477.4,80.9 478.1,80.7 478.8,80.4 479.4,80.2 480.1,80.0 480.7,79.8 481.4,79.6 482.1,79.4 482.7,79.2 483.4,79.0 484.1,78.8 484.8,78.6 485.4,78.4 486.1,78.2 486.8,78.1 487.5,77.9 488.1,77.7 488.8,77.6 489.5,77.4 490.2,77.3 490.9,77.1 491.5,77.0 492.2,76.9 492.9,76.7 493.6,76.6 494.3,76.5 495.0,76.4 495.7,76.3 496.4,76.2 497.0,76.1 497.7,76.0 498.4,75.9 499.1,75.8 499.8,75.7 500.5,75.6 501.2,75.6 501.9,75.5 502.6,75.5 503.3,75.4 504.0,75.3 504.7,75.3 505.4,75.3 506.1,75.2 506.8,75.2 507.5,75.2 508.2,75.1 508.9,75.1 509.6,75.1 510.3,75.1 510.9,75.1L510.95,75.1A99.9,99.9 0 0 0 510.95,274.9A99.9,99.9 0 0 0 510.95,75.1Z" fill="#990099" fill-rule="nonzero"/>
<path d="M510.9,90.7 511.5,90.7 512.1,90.7 512.7,90.7 513.3,90.7 513.9,90.8 514.5,90.8 515.1,90.8 515.7,90.8 516.2,90.9 516.8,90.9 517.4,90.9 518.0,91.0 518.6,91.0 519.2,91.1 519.8,91.2 520.3,91.2 520.9,91.3 521.5,91.4 522.1,91.4 522.7,91.5 523.3,91.6 523.8,91.7 524.4,91.8 525.0,91.9 525.6,92.0 526.2,92.1 526.7,92.2 527.3,92.3 527.9,92.4 528.5,92.5 529.1,92.7 529.6,92.8 530.2,92.9 530.8,93.1 531.3,93.2 531.9,93.3 532.5,93.5 533.1,93.6 533.6,93.8 534.2,94.0 534.8,94.1 535.3,94.3 535.9,94.5 536.4,94.6 537.0,94.8 537.6,95.0 538.1,95.2 538.7,95.4 539.2,95.6 539.8,95.8 540.3,96.0 540.9,96.2 541.4,96.4 542.0,96.6 542.5,96.8 543.1,97.1 543.6,97.3 544.2,97.5 544.7,97.8 545.2,98.0 545.8,98.2 546.3,98.5 546.8,98.7 547.4,99.0 547.9,99.2 548.4,99.5 549.0,99.8 549.5,100.0 550.0,100.3 550.5,100.6 551.0,100.8 551.6,101.1 552.1,101.4 552.6,101.7 553.1,102.0 553.6,102.3 554.1,102.6 554.6,102.9 555.1,103.2 555.6,103.5 556.1,103.8 556.6,104.1 557.1,104.5 557.6,104.8 558.1,105.1 558.6,105.4 559.1,105.8 559.5,106.1 560.5,105.8 561.7,105.1 562.8,104.6 563.6,104.7 564.4,104.6 564.7,105.2 565.4,105.3 566.1,105.5 567.0,105.3 567.6,105.6 567.5,106.6 568.2,106.8 568.4,107.5 569.0,107.7 569.2,108.5 569.6,108.9 569.8,109.6 570.5,109.8 571.6,109.5 571.3,110.7 571.8,111.1 571.6,112.2 571.7,113.0 573.3,112.2 573.5,112.9 573.9,113.4 574.3,113.8 574.3,114.7 574.8,115.1 575.7,115.1 575.1,116.5 576.0,116.5 576.6,116.7 576.7,117.4 576.6,118.3 577.2,118.6 578.2,118.6 579.1,118.6 579.8,118.8 580.1,119.4 580.2,120.1 580.6,120.6 580.8,121.2 580.5,122.2 580.6,122.9 580.9,123.4 580.9,124.2 581.0,124.8 581.1,125.5 581.1,126.2 581.3,126.9 581.6,127.4 582.0,127.8 582.5,128.2 582.8,128.7 583.1,129.2 583.2,129.8 583.6,130.3 583.8,130.9 583.9,131.5 584.4,131.9 584.7,132.4 584.9,133.0 584.8,133.7 584.9,134.3 585.7,134.6 585.9,135.2 586.4,135.5 586.6,136.1 586.6,136.8 586.9,137.3 587.0,137.9 587.5,138.3 587.6,138.9 587.6,139.6 588.1,140.0 588.6,140.4 588.6,141.1 588.9,141.6 589.1,142.2 589.7,142.5 590.3,142.9 590.9,143.3 591.4,143.8 591.7,144.3 591.9,144.9 592.8,145.2 592.5,145.9 593.4,146.3 594.6,146.5 595.2,147.0 595.0,147.7 595.9,148.1 596.2,148.6 597.0,149.0 598.0,149.4 597.1,150.3 598.1,150.7 598.5,151.2 599.2,151.7 599.2,152.4 599.6,152.9 599.2,153.6 598.8,154.4 599.3,154.9 598.6,155.7 597.9,156.5 598.4,157.1 598.8,157.6 598.3,158.3 598.4,158.9 598.9,159.5 599.2,160.1 599.6,160.6 598.4,161.5 598.7,162.0 598.0,162.8 597.5,163.5 596.9,164.1 597.2,164.7 596.6,165.4 596.4,166.0 596.0,166.7 595.7,167.3 595.7,167.9 595.3,168.5 595.3,169.1 595.2,169.7 595.1,170.3 595.3,170.9 595.4,171.5 595.7,172.0 595.5,172.6 595.3,173.2 595.3,173.8 595.3,174.4 595.4,175.0 595.3,175.6 595.4,176.2 595.4,176.8 595.8,177.4 596.1,178.0 596.7,178.6 597.4,179.2 597.4,179.8 597.3,180.4 597.6,181.1 597.8,181.7 597.4,182.3 597.9,182.9 597.2,183.5 597.1,184.1 598.1,184.8 598.6,185.5 599.3,186.2 599.1,186.8 598.3,187.3 598.5,187.9 599.2,188.7 599.2,189.3 598.4,189.8 597.4,190.2 597.4,190.9 597.6,191.5 597.5,192.1 596.8,192.6 596.6,193.2 596.1,193.7 596.1,194.4 596.2,195.0 596.1,195.6 595.8,196.2 596.2,196.9 595.8,197.4 595.6,198.0 594.8,198.4 595.1,199.1 594.3,199.5 594.4,200.2 593.9,200.7 594.0,201.3 594.4,202.1 593.5,202.5 593.5,203.1 594.2,204.0 594.0,204.6 593.6,205.1 593.2,205.6 593.2,206.2 592.8,206.8 592.4,207.2 592.0,207.8 592.1,208.4 591.5,208.8 591.8,209.7 591.1,210.0 591.0,210.6 589.9,210.8 589.8,211.5 589.1,211.8 589.0,212.4 589.0,213.0 588.3,213.4 588.2,214.0 587.9,214.5 587.3,214.9 586.5,215.1 586.6,215.9 586.9,216.7 586.2,217.0 585.8,217.5 585.9,218.3 585.5,218.8 585.2,219.3 584.5,219.5 584.4,220.2 584.6,221.0 583.7,221.2 583.5,221.8 583.3,222.4 583.1,222.9 582.9,223.5 582.1,223.7 582.0,224.4 581.8,225.0 581.2,225.3 580.7,225.7 580.2,226.0 580.2,226.8 579.7,227.2 579.3,227.6 578.8,228.0 578.0,228.2 577.9,228.8 577.3,229.1 577.3,229.9 576.5,230.0 576.3,230.6 576.2,231.3 575.7,231.6 575.1,231.9 574.6,232.3 574.2,232.7 573.8,233.2 573.3,233.5 572.7,233.8 572.5,234.5 572.1,234.8 571.8,235.4 571.0,235.5 570.4,235.7 569.8,236.0 569.2,236.2 568.7,236.5 568.3,237.0 567.8,237.3 567.4,237.6 566.9,238.0 566.5,238.4 566.0,238.8 565.6,239.2 565.1,239.6 564.7,240.0 564.2,240.3 563.8,240.7 563.3,241.1 562.9,241.4 562.4,241.8 561.9,242.1 561.4,242.5 561.0,242.9 560.5,243.2 560.0,243.5 559.5,243.9 559.1,244.2 558.6,244.6 558.1,244.9 557.6,245.2 557.1,245.5 556.6,245.9 556.1,246.2 555.6,246.5 555.1,246.8 554.6,247.1 554.1,247.4 553.6,247.7 553.1,248.0 552.6,248.3 552.1,248.6 551.6,248.9 551.0,249.2 550.5,249.4 550.0,249.7 549.5,250.0 549.0,250.2 548.4,250.5 547.9,250.8 547.4,251.0 546.8,251.3 546.3,251.5 545.8,251.8 545.2,252.0 544.7,252.2 544.2,252.5 543.6,252.7 543.1,252.9 542.5,253.2 542.0,253.4 541.4,253.6 540.9,253.8 540.3,254.0 539.8,254.2 539.2,254.4 538.7,254.6 538.1,254.8 537.6,255.0 537.0,255.2 536.4,255.4 535.9,255.5 535.3,255.7 534.8,255.9 534.2,256.0 533.6,256.2 533.1,256.4 532.5,256.5 531.9,256.7 531.3,256.8 530.8,256.9 530.2,257.1 529.6,257.2 529.1,257.3 528.5,257.5 527.9,257.6 527.3,257.7 526.7,257.8 526.2,257.9 525.6,258.0 525.0,258.1 524.4,258.2 523.8,258.3 523.3,258.4 522.7,258.5 522.1,258.6 521.5,258.6 520.9,258.7 520.3,258.8 519.8,258.8 519.2,258.9 518.6,259.0 518.0,259.0 517.4,259.1 516.8,259.1 516.2,259.1 515.7,259.2 515.1,259.2 514.5,259.2 513.9,259.2 513.3,259.3 512.7,259.3 512.1,259.3 511.5,259.3 510.9,259.3 510.4,259.3 509.8,259.3 509.2,259.3 508.6,259.3 508.0,259.2 507.4,259.2 506.8,259.2 506.2,259.2 505.7,259.1 505.1,259.1 504.5,259.1 503.9,259.0 503.3,259.0 502.7,258.9 502.1,258.8 501.6,258.8 501.0,258.7 500.4,258.6 499.8,258.6 499.2,258.5 498.6,258.4 498.1,258.3 497.5,258.2 496.9,258.1 496.3,258.0 495.7,257.9 495.2,257.8 494.6,257.7 494.0,257.6 493.4,257.5 492.8,257.3 492.3,257.2 491.7,257.1 491.1,256.9 490.6,256.8 490.0,256.7 489.4,256.5 488.8,256.4 488.3,256.2 487.7,256.0 487.1,255.9 486.6,255.7 486.0,255.5 485.5,255.4 484.9,255.2 484.3,255.0 483.8,254.8 483.2,254.6 482.7,254.4 482.1,254.2 481.6,254.0 481.0,253.8 480.5,253.6 479.9,253.4 479.4,253.2 478.8,252.9 478.3,252.7 477.7,252.5 477.2,252.2 476.7,252.0 476.1,251.8 475.6,251.5 475.1,251.3 474.5,251.0 474.0,250.8 473.5,250.5 472.9,250.2 472.4,250.0 471.9,249.7 471.4,249.4 470.9,249.2 470.3,248.9 469.8,248.6 469.3,248.3 468.8,248.0 468.3,247.7 467.8,247.4 467.3,247.1 466.8,246.8 466.3,246.5 465.8,246.2 465.3,245.9 464.8,245.5 464.3,245.2 463.8,244.9 463.3,244.6 462.8,244.2 462.4,243.9 461.8,243.6 461.2,243.5 460.9,242.9 460.5,242.5 460.0,242.1 459.5,241.8 459.0,241.4 458.6,241.1 458.1,240.7 457.7,240.3 457.2,240.0 456.8,239.6 456.3,239.2 455.9,238.8 455.4,238.4 455.0,238.0 454.5,237.6 454.1,237.3 453.6,236.9 453.2,236.5 452.8,236.0 452.4,235.6 451.9,235.3 451.5,234.8 451.1,234.4 450.7,234.0 450.3,233.6 449.9,233.1 449.5,232.7 449.1,232.3 448.7,231.8 448.3,231.4 447.9,231.0 447.5,230.5 447.1,230.1 446.8,229.6 446.4,229.2 446.0,228.7 445.6,228.3 445.3,227.8 444.9,227.4 444.5,226.9 444.2,226.4 443.8,226.0 443.4,225.5 443.1,225.0 442.7,224.6 442.4,224.1 442.1,223.6 441.7,223.1 441.4,222.6 441.1,222.1 440.7,221.7 440.4,221.2 440.1,220.7 439.8,220.2 439.5,219.7 439.1,219.2 438.8,218.7 438.5,218.2 438.2,217.7 437.9,217.2 437.7,216.6 437.4,216.1 437.1,215.6 436.8,215.1 436.5,214.6 436.2,214.1 436.0,213.5 435.7,213.0 435.4,212.5 435.2,212.0 434.9,211.4 434.7,210.9 434.4,210.4 434.2,209.8 433.9,209.3 433.7,208.7 433.5,208.2 433.2,207.7 433.0,207.1 432.8,206.6 432.6,206.0 432.4,205.5 432.1,204.9 431.9,204.4 431.7,203.8 431.5,203.3 431.3,202.7 431.1,202.2 431.0,201.6 430.8,201.1 430.6,200.5 430.4,199.9 430.2,199.4 430.1,198.8 429.9,198.2 429.8,197.7 429.6,197.1 429.4,196.5 429.3,196.0 429.2,195.4 429.0,194.8 428.9,194.2 428.7,193.7 428.6,193.1 428.5,192.5 428.4,192.0 428.3,191.4 428.1,190.8 428.0,190.2 427.9,189.6 427.8,189.1 427.7,188.5 427.6,187.9 427.6,187.3 427.5,186.7 427.4,186.1 427.3,185.6 427.2,185.0 427.2,184.4 427.1,183.8 427.1,183.2 427.0,182.6 426.9,182.1 426.9,181.5 426.9,180.9 426.8,180.3 426.8,179.7 426.8,179.1 426.7,178.5 426.7,177.9 426.7,177.4 426.7,176.8 426.7,176.2 426.7,175.6 426.6,175.0 426.7,174.4 426.7,173.8 426.7,173.2 426.7,172.6 426.7,172.1 426.7,171.5 426.8,170.9 426.8,170.3 426.8,169.7 426.9,169.1 426.9,168.5 426.9,167.9 427.0,167.4 427.1,166.8 427.1,166.2 427.2,165.6 427.2,165.0 427.3,164.4 427.4,163.9 427.5,163.3 427.6,162.7 427.6,162.1 427.7,161.5 427.8,160.9 427.9,160.4 428.0,159.8 428.1,159.2 428.3,158.6 428.4,158.0 428.5,157.5 428.6,156.9 428.7,156.3 428.9,155.8 429.0,155.2 429.2,154.6 429.3,154.0 429.4,153.5 429.6,152.9 429.8,152.3 429.9,151.8 430.1,151.2 430.2,150.6 430.4,150.1 430.6,149.5 430.8,148.9 431.0,148.4 431.1,147.8 431.3,147.3 431.5,146.7 431.7,146.2 431.9,145.6 432.1,145.1 432.4,144.5 432.6,144.0 432.8,143.4 433.0,142.9 433.2,142.3 433.5,141.8 433.7,141.3 433.9,140.7 434.2,140.2 434.4,139.6 434.7,139.1 434.9,138.6 435.2,138.0 435.4,137.5 435.7,137.0 436.0,136.5 436.2,135.9 436.5,135.4 436.8,134.9 437.1,134.4 437.4,133.9 437.7,133.4 437.9,132.8 438.2,132.3 438.5,131.8 438.8,131.3 439.1,130.8 439.5,130.3 439.8,129.8 440.1,129.3 440.4,128.8 440.6,128.3 440.9,127.8 441.4,127.4 441.7,126.9 442.1,126.4 442.4,125.9 442.7,125.4 443.1,125.0 443.4,124.5 443.8,124.0 444.0,123.5 444.5,123.1 444.8,122.5 445.3,122.2 445.6,121.7 446.0,121.3 446.4,120.8 446.8,120.4 447.1,119.9 447.5,119.5 447.9,119.0 448.3,118.6 448.7,118.2 449.1,117.7 449.5,117.3 449.9,116.9 450.3,116.4 450.7,116.0 451.1,115.6 451.5,115.2 452.0,114.8 452.4,114.4 452.8,114.0 453.2,113.5 453.7,113.1 454.1,112.7 454.5,112.4 455.0,112.0 455.4,111.6 455.9,111.2 456.3,110.8 456.8,110.4 457.2,110.0 457.7,109.7 458.1,109.3 458.6,108.9 459.0,108.6 459.5,108.2 460.0,107.9 460.5,107.5 460.9,107.1 461.4,106.8 461.9,106.5 462.4,106.1 462.8,105.8 463.3,105.4 463.8,105.1 464.3,104.8 464.8,104.5 465.3,104.1 465.8,103.8 466.3,103.5 466.8,103.2 467.3,102.9 467.8,102.6 468.3,102.3 468.8,102.0 469.3,101.7 469.8,101.4 470.3,101.1 470.9,100.8 471.4,100.6 471.9,100.3 472.4,100.0 472.9,99.8 473.5,99.5 474.0,99.2 474.5,99.0 475.1,98.7 475.6,98.5 476.1,98.2 476.7,98.0 477.2,97.8 477.7,97.5 478.3,97.3 478.8,97.1 479.4,96.8 479.9,96.6 480.5,96.4 481.0,96.2 481.6,96.0 482.1,95.8 482.7,95.6 483.2,95.4 483.8,95.2 484.3,95.0 484.9,94.8 485.5,94.6 486.0,94.5 486.6,94.3 487.1,94.1 487.7,94.0 488.3,93.8 488.8,93.6 489.4,93.5 490.0,93.3 490.6,93.2 491.1,93.1 491.7,92.9 492.3,92.8 492.8,92.7 493.4,92.5 494.0,92.4 494.6,92.3 495.2,92.2 495.7,92.1 496.3,92.0 496.9,91.9 497.5,91.8 498.1,91.7 498.6,91.6 499.2,91.5 499.8,91.4 500.4,91.4 501.0,91.3 501.6,91.2 502.1,91.2 502.7,91.1 503.3,91.0 503.9,91.0 504.5,90.9 505.1,90.9 505.7,90.9 506.2,90.8 506.8,90.8 507.4,90.8 508.0,90.8 508.6,90.7 509.2,90.7 509.8,90.7 510.4,90.7 510.9,90.7L510.95,90.7A84.3,84.3 0 0 0 510.95,259.3A84.3,84.3 0 0 0 510.95,90.7Z" fill="#000000" fill-rule="nonzero"/>
<path d="M510.9,95.5 511.5,95.7 512.0,96.6 512.6,96.1 513.2,95.4 513.7,96.2 514.3,95.7 514.8,95.4 515.4,95.8 516.0,95.1 516.5,94.9 517.1,94.9 517.6,95.5 518.3,94.6 518.8,94.9 519.4,94.8 520.0,94.4 520.6,94.4 521.2,94.1 521.8,93.7 522.3,93.9 523.0,93.6 523.6,93.5 524.2,93.1 524.7,93.6 525.3,93.6 525.8,94.0 526.5,93.6 527.0,93.8 527.6,93.7 528.3,93.6 528.9,93.4 529.4,93.8 530.0,93.9 530.6,93.9 531.1,94.0 531.8,93.8 532.3,94.1 532.8,94.5 533.4,94.5 534.0,94.6 534.6,94.7 535.1,94.9 535.7,94.9 536.2,95.3 536.9,95.2 537.4,95.5 538.0,95.6 538.5,95.9 539.0,96.2 539.5,96.6 540.1,96.7 540.7,96.8 541.3,96.9 541.8,97.1 542.3,97.4 542.9,97.5 543.5,97.7 544.1,97.7 544.6,98.0 545.1,98.4 545.7,98.5 546.0,99.1 546.5,99.4 547.2,99.4 547.6,99.9 548.1,100.1 548.6,100.4 549.2,100.7 549.7,100.8 550.3,101.0 550.9,101.2 551.5,101.3 552.0,101.5 552.4,102.0 552.9,102.3 553.4,102.6 554.0,102.8 554.4,103.3 554.9,103.6 555.3,104.0 555.9,104.2 556.4,104.5 556.7,105.0 557.3,105.3 557.8,105.6 558.3,105.9 558.9,106.1 559.5,106.1 560.0,106.5 560.5,106.8 561.0,107.1 561.4,107.5 561.9,107.9 562.4,108.2 562.9,108.6 563.3,108.9 563.8,109.3 564.2,109.7 564.7,110.0 565.1,110.4 565.6,110.8 566.0,111.2 566.5,111.6 566.9,112.0 567.4,112.4 567.8,112.7 568.2,113.1 568.7,113.5 569.1,114.0 569.5,114.4 569.9,114.8 570.4,115.2 570.8,115.6 571.2,116.0 571.6,116.4 572.0,116.9 572.4,117.3 572.8,117.7 573.2,118.2 573.6,118.6 574.0,119.0 574.4,119.5 574.8,119.9 575.1,120.4 575.5,120.8 575.9,121.3 576.3,121.7 576.6,122.2 577.0,122.6 577.4,123.1 577.7,123.6 578.1,124.0 578.5,124.5 578.8,125.0 579.2,125.4 579.5,125.9 579.8,126.4 580.2,126.9 580.5,127.4 580.8,127.9 581.2,128.3 581.5,128.8 581.8,129.3 582.1,129.8 582.4,130.3 582.8,130.8 583.1,131.3 583.4,131.8 583.7,132.3 584.0,132.8 584.2,133.4 584.5,133.9 584.8,134.4 585.1,134.9 585.4,135.4 585.7,135.9 585.9,136.5 586.2,137.0 586.5,137.5 586.7,138.0 587.0,138.6 587.2,139.1 587.5,139.6 587.7,140.2 588.0,140.7 588.2,141.3 588.4,141.8 588.7,142.3 588.9,142.9 589.1,143.4 589.3,144.0 589.5,144.5 589.8,145.1 590.0,145.6 590.2,146.2 590.4,146.7 590.6,147.3 590.8,147.8 590.9,148.4 591.1,148.9 591.3,149.5 591.5,150.1 591.7,150.6 591.8,151.2 592.0,151.8 592.1,152.3 592.3,152.9 592.5,153.5 592.6,154.0 592.7,154.6 592.9,155.2 593.0,155.8 593.2,156.3 593.3,156.9 593.4,157.5 593.5,158.0 593.6,158.6 593.8,159.2 593.9,159.8 594.0,160.4 594.1,160.9 594.2,161.5 594.3,162.1 594.3,162.7 594.4,163.3 594.5,163.9 594.6,164.4 594.7,165.0 594.7,165.6 594.8,166.2 594.8,166.8 594.9,167.4 595.0,167.9 595.0,168.5 595.0,169.1 595.1,169.7 595.1,170.3 595.1,170.9 595.2,171.5 595.2,172.1 595.2,172.6 595.2,173.2 595.2,173.8 595.2,174.4 595.2,175.0 595.2,175.6 595.2,176.2 595.2,176.8 595.2,177.4 595.2,177.9 595.2,178.5 595.1,179.1 595.1,179.7 595.1,180.3 595.0,180.9 595.0,181.5 595.0,182.1 594.9,182.6 594.8,183.2 594.8,183.8 594.7,184.4 594.7,185.0 594.6,185.6 594.5,186.1 594.4,186.7 594.3,187.3 594.3,187.9 594.2,188.5 594.1,189.1 594.0,189.6 593.9,190.2 593.8,190.8 593.6,191.4 593.5,192.0 593.4,192.5 593.3,193.1 593.2,193.7 593.0,194.2 592.9,194.8 592.7,195.4 592.6,196.0 592.5,196.5 592.3,197.1 592.1,197.7 592.0,198.2 591.8,198.8 591.7,199.4 591.5,199.9 591.3,200.5 591.1,201.1 590.9,201.6 590.8,202.2 590.6,202.7 590.4,203.3 590.2,203.8 590.0,204.4 589.8,204.9 589.5,205.5 589.3,206.0 589.1,206.6 588.9,207.1 588.7,207.7 588.4,208.2 588.2,208.7 588.0,209.3 587.7,209.8 587.5,210.4 587.2,210.9 587.0,211.4 586.7,212.0 586.5,212.5 586.2,213.0 585.9,213.5 585.7,214.1 585.4,214.6 585.1,215.1 584.8,215.6 584.5,216.1 584.2,216.6 584.0,217.1 583.7,217.7 583.4,218.2 583.1,218.7 582.8,219.2 582.4,219.7 582.1,220.2 581.8,220.7 581.5,221.2 581.2,221.7 580.8,222.1 580.5,222.6 580.2,223.1 579.8,223.6 579.5,224.1 579.2,224.6 578.8,225.0 578.5,225.5 578.1,226.0 577.7,226.4 577.4,226.9 577.0,227.4 576.6,227.8 576.3,228.3 575.9,228.7 575.5,229.2 575.1,229.6 574.8,230.1 574.4,230.5 574.0,231.0 573.6,231.4 573.2,231.8 572.8,232.3 572.4,232.7 572.0,233.1 571.6,233.6 571.2,234.0 570.8,234.4 570.4,234.8 569.9,235.2 569.5,235.6 569.1,236.0 568.6,236.4 568.2,236.9 567.7,237.2 567.2,237.5 566.8,237.9 566.3,238.3 565.8,238.5 565.1,238.6 564.6,238.9 564.2,239.4 563.7,239.7 563.3,240.1 562.7,240.3 562.3,240.7 561.7,241.0 561.4,241.4 561.0,241.9 560.6,242.3 559.9,242.4 559.4,242.7 558.7,242.7 558.1,242.8 557.8,243.4 557.2,243.6 556.8,244.0 556.2,244.1 555.9,244.8 555.3,244.9 554.8,245.2 554.3,245.4 553.6,245.4 553.0,245.6 552.6,246.0 552.1,246.3 551.3,246.0 550.9,246.5 550.5,246.9 550.2,247.5 549.5,247.5 548.7,247.3 548.0,247.1 547.8,247.9 547.1,247.9 546.7,248.4 546.3,248.7 545.8,249.0 545.1,249.0 544.4,248.8 543.8,248.7 543.2,248.7 542.9,249.5 542.2,249.3 541.6,249.3 541.0,249.3 540.6,249.8 539.9,249.6 539.2,249.4 538.9,250.1 538.4,250.3 538.0,250.9 537.7,251.7 537.1,251.9 536.3,251.1 535.7,251.0 535.1,251.1 534.6,251.5 534.2,251.9 533.9,252.8 533.2,252.5 532.9,253.5 532.3,253.7 531.7,253.7 531.1,253.6 530.7,254.3 530.1,254.3 529.6,254.7 528.9,254.1 528.5,255.0 527.9,254.6 527.3,254.5 526.8,254.9 526.2,255.0 525.7,255.5 525.2,255.6 524.5,255.2 523.9,255.2 523.4,255.7 522.9,256.2 522.4,256.2 521.9,256.8 521.2,256.3 520.7,257.1 520.2,257.6 519.6,257.2 519.0,257.3 518.4,256.8 517.9,257.2 517.2,256.8 516.7,256.8 516.1,256.9 515.6,257.5 515.0,257.6 514.4,257.9 513.9,258.3 513.3,258.4 512.7,258.5 512.1,258.5 511.5,258.7 510.9,258.6 510.4,258.8 509.8,258.4 509.2,258.8 508.6,258.8 508.0,258.9 507.4,259.0 506.8,259.0 506.3,258.8 505.7,258.5 505.1,258.5 504.6,258.0 504.0,258.0 503.4,257.6 502.9,257.2 502.3,257.5 501.7,257.5 501.1,257.8 500.6,257.3 499.9,257.5 499.4,257.2 498.9,256.9 498.3,257.0 497.7,256.6 497.2,256.3 496.6,256.3 496.2,255.5 495.6,255.6 495.0,255.6 494.4,255.8 493.9,255.1 493.5,254.2 493.0,253.9 492.5,253.6 492.0,253.5 491.4,253.3 490.8,253.5 490.3,253.1 489.9,252.4 489.3,252.5 488.8,252.4 488.2,252.3 487.6,252.4 487.2,251.7 486.4,252.5 486.0,251.8 485.5,251.4 485.1,251.0 484.3,251.4 483.9,251.1 483.1,251.5 482.5,251.4 482.0,251.3 481.4,251.1 480.8,251.1 480.4,250.6 479.7,250.9 479.4,250.1 478.6,250.5 478.1,250.1 477.3,250.5 476.8,250.2 476.4,249.9 476.0,249.3 475.8,248.3 475.1,248.4 474.4,248.6 474.1,247.9 473.3,248.3 472.8,248.1 472.2,247.9 471.7,247.5 471.0,247.7 470.3,247.8 469.8,247.4 469.3,247.2 468.8,246.9 468.4,246.4 468.0,245.9 467.5,245.7 467.0,245.3 466.4,245.3 465.7,245.2 465.1,245.1 464.6,244.7 464.0,244.5 463.6,244.2 463.1,243.8 462.5,243.7 461.9,243.5 461.4,243.2 461.0,242.7 460.5,242.5 460.1,241.9 459.8,241.4 459.3,241.1 458.9,240.7 458.5,240.3 458.0,240.0 457.6,239.5 457.0,239.3 456.4,239.1 455.9,238.8 455.4,238.4 455.2,237.8 454.6,237.6 454.1,237.3 453.7,236.9 453.2,236.5 452.9,235.9 452.5,235.5 452.0,235.2 451.8,234.6 451.4,234.1 451.2,233.6 450.6,233.2 450.3,232.8 450.1,232.1 449.9,231.5 449.4,231.2 449.1,230.7 449.1,230.0 448.4,229.8 448.0,229.4 447.7,228.9 447.1,228.6 446.7,228.1 446.8,227.3 446.5,226.8 446.2,226.3 446.2,225.6 445.7,225.3 445.4,224.7 444.8,224.5 444.1,224.3 443.7,223.9 443.1,223.6 443.0,222.9 443.3,222.1 442.7,221.8 442.4,221.2 441.8,221.0 441.7,220.3 441.9,219.5 441.5,219.1 440.7,218.9 440.6,218.3 439.8,218.1 439.3,217.7 439.0,217.2 438.7,216.7 438.1,216.4 438.1,215.7 438.2,215.0 438.1,214.4 437.7,213.9 437.3,213.5 436.7,213.2 436.5,212.6 436.2,212.1 436.1,211.5 436.2,210.8 435.8,210.4 435.6,209.8 435.8,209.1 435.8,208.5 435.5,208.0 435.0,207.6 435.3,206.8 435.7,206.0 435.4,205.5 435.0,205.1 434.8,204.5 434.8,203.9 434.7,203.4 435.2,202.6 434.7,202.1 435.3,201.4 435.4,200.7 436.3,199.8 436.1,199.3 435.5,198.9 435.9,198.2 435.8,197.7 435.1,197.3 434.7,196.9 434.1,196.5 433.8,196.0 434.2,195.3 434.6,194.6 435.6,193.8 435.0,193.4 434.7,192.9 434.8,192.3 435.0,191.7 435.7,191.0 435.5,190.5 434.5,190.1 434.3,189.6 434.5,189.0 434.2,188.5 433.7,188.1 433.7,187.5 432.7,187.1 432.0,186.7 431.7,186.1 431.6,185.6 430.8,185.1 430.0,184.7 429.8,184.1 430.3,183.5 429.3,183.0 430.3,182.3 430.4,181.8 431.0,181.2 430.5,180.6 430.9,180.0 430.6,179.5 430.4,178.9 431.1,178.3 431.2,177.8 431.5,177.2 430.7,176.7 431.1,176.1 431.6,175.6 431.7,175.0 431.8,174.4 431.3,173.9 431.0,173.3 430.4,172.8 429.5,172.2 428.9,171.6 429.4,171.0 429.2,170.4 428.8,169.8 428.8,169.3 428.7,168.7 429.1,168.1 428.8,167.5 428.9,167.0 428.6,166.3 428.8,165.8 428.5,165.2 428.5,164.6 428.5,164.0 428.3,163.4 427.9,162.7 428.5,162.2 428.4,161.6 428.5,161.1 428.8,160.5 429.0,160.0 429.4,159.4 429.5,158.9 430.1,158.4 430.3,157.8 429.9,157.2 430.2,156.6 430.4,156.1 430.4,155.5 430.2,154.9 430.6,154.4 430.9,153.8 431.1,153.3 430.8,152.6 431.4,152.2 431.3,151.6 431.7,151.1 432.1,150.6 432.0,150.0 432.3,149.4 432.1,148.8 432.6,148.3 432.6,147.7 432.7,147.1 433.0,146.6 433.4,146.2 433.2,145.5 433.4,144.9 433.2,144.2 433.3,143.6 433.6,143.1 433.9,142.6 433.9,142.0 434.0,141.4 434.4,140.9 434.5,140.3 434.8,139.8 435.2,139.3 435.7,138.9 435.9,138.4 435.9,137.7 436.4,137.4 436.5,136.8 436.4,136.0 436.7,135.5 436.8,134.9 437.2,134.4 437.5,133.9 437.8,133.5 438.0,132.9 438.3,132.4 438.9,132.1 439.3,131.6 439.5,131.0 439.8,130.6 440.0,130.0 440.3,129.5 440.5,128.9 440.7,128.3 441.1,127.9 441.4,127.4 441.8,127.0 442.2,126.5 442.5,126.0 443.0,125.7 443.2,125.1 443.5,124.6 443.8,124.0 444.2,123.6 444.6,123.2 444.9,122.6 445.5,122.4 445.8,121.9 446.4,121.6 446.7,121.1 447.2,120.8 447.6,120.3 447.8,119.7 448.1,119.2 448.4,118.7 448.8,118.3 449.2,117.8 449.8,117.6 450.5,117.4 450.8,116.9 451.4,116.7 451.8,116.2 452.3,116.0 452.7,115.5 453.2,115.2 453.2,114.4 453.7,114.0 454.2,113.7 454.6,113.3 455.2,113.1 456.0,113.1 456.6,112.9 456.8,112.3 457.4,112.1 458.0,111.9 458.7,111.8 459.2,111.6 459.7,111.2 460.3,111.1 460.7,110.7 461.4,110.7 461.7,110.1 462.0,109.6 462.3,109.0 462.7,108.6 463.2,108.4 463.9,108.3 464.4,108.0 464.6,107.4 465.2,107.2 465.8,107.1 466.2,106.7 466.5,106.0 466.7,105.3 467.6,105.7 468.1,105.3 468.5,105.0 468.9,104.5 469.3,104.0 469.8,103.7 470.2,103.3 470.7,102.9 471.2,102.8 471.7,102.5 472.2,102.2 472.8,102.0 473.3,101.7 473.8,101.4 474.5,101.6 474.9,101.1 475.3,100.7 475.9,100.5 476.3,100.0 476.9,99.9 477.4,99.7 477.9,99.4 478.6,99.5 479.0,99.1 479.7,99.1 480.2,98.8 480.8,98.7 481.2,98.3 481.7,97.9 482.1,97.5 482.6,97.1 483.2,97.0 483.6,96.6 484.1,96.2 484.9,96.6 485.4,96.4 485.9,95.9 486.5,96.1 487.1,96.1 487.6,95.8 488.4,96.2 489.0,96.4 489.5,96.1 490.1,96.2 490.6,95.8 491.1,95.2 491.6,95.0 492.2,95.0 492.9,95.4 493.4,95.3 494.0,95.2 494.6,95.2 495.2,95.2 495.8,95.3 496.4,95.5 496.9,95.5 497.6,95.9 498.0,95.2 498.5,94.6 499.1,94.6 499.6,94.1 500.2,94.5 500.7,93.7 501.3,93.8 501.8,93.8 502.4,93.5 502.9,93.1 503.5,93.4 504.1,94.0 504.7,94.4 505.3,94.6 505.8,93.7 506.5,94.6 507.0,95.1 507.6,95.4 508.2,95.6 508.7,96.2 509.3,96.1 509.8,96.0 510.4,95.6 510.9,95.0L510.95,90.7A84.3,84.3 0 0 0 510.95,259.3A84.3,84.3 0 0 0 510.95,90.7Z" fill="#000000" fill-rule="nonzero"/>
<path d="M510.95,45L510.95,41.4M510.95,100.5L510.95,104.2M532.92,46.67L533.27,44.6M523.52,101.57L523.13,103.84M554.26,52.21L554.96,50.23M535.73,104.74L534.97,106.91M574.35,61.28L575.38,59.45M547.23,109.93L546.11,111.94M592.63,73.61L593.95,71.97M557.69,116.98L556.25,118.78M608.42,88.98L611.12,86.6M566.81,125.7L564.03,128.15M621.71,106.55L623.49,105.45M574.32,135.83L572.37,137.04M631.67,126.22L633.61,125.43M580.02,147.09L577.89,147.95M638.17,147.29L640.22,146.84M583.74,159.14L581.5,159.63M641.02,169.15L643.12,169.06M585.37,171.65L583.08,171.76M639.94,191.16L643.51,191.61M584.87,184.26L581.2,183.8M635.56,212.75L637.57,213.36M582.25,196.6L580.05,195.93M627.4,233.23L629.28,234.17M577.58,208.32L575.53,207.29M615.91,252.05L617.6,253.29M571.01,219.09L569.15,217.72M601.4,268.65L602.86,270.16M562.71,228.59L561.11,226.93M584.19,282.41L586.22,285.38M552.92,236.55L550.84,233.49M565.1,293.4L565.97,295.31M541.93,242.75L540.98,240.66M544.35,300.84L544.88,302.87M530.06,247.01L529.47,244.78M522.63,304.67L522.82,306.77M517.64,249.2L517.43,246.91M500.59,304.79L500.42,306.88M505.02,249.26L505.2,246.97M478.89,300.98L478,304.47M492.57,247.2L493.49,243.61M458.01,293.95L457.15,295.87M480.66,243.06L481.59,240.96M438.7,283.31L437.53,285.06M469.61,236.98L470.88,235.06M421.46,269.57L420.01,271.09M459.74,229.11L461.32,227.44M406.78,253.11L405.1,254.37M451.35,219.69L453.19,218.31M395.27,234.32L392.07,235.97M444.66,209L447.95,207.31M386.73,214.01L384.73,214.64M439.87,197.32L442.07,196.63M381.93,192.5L379.85,192.78M437.13,185.01L439.4,184.7M380.83,170.48L378.73,170.4M436.49,172.41L438.79,172.49M383.46,148.59L381.4,148.16M438,159.89L440.25,160.35M389.93,127.53L386.58,126.21M441.6,147.79L445.04,149.14M399.5,107.68L397.71,106.6M447.18,136.48L449.15,137.67M412.46,89.84L410.87,88.47M454.59,126.27L456.33,127.78M428.24,74.45L426.91,72.82M463.62,117.46L465.08,119.24M446.39,61.93L445.35,60.11M474.01,110.3L475.15,112.3M466.46,52.85L465.23,49.47M485.46,105L486.72,108.47M487.68,46.9L487.3,44.83M497.63,101.7L498.04,103.96M509.63,44.81L509.6,42.71M510.19,100.5L510.22,102.8" stroke="#222" stroke-width="0.95" fill="none"/>
<line x1="510.95" y1="45" x2="510.95" y2="41.2" stroke="#111" stroke-width="1.3"/>
<line x1="510.95" y1="100.5" x2="510.95" y2="104.4" stroke="#111" stroke-width="1.3"/>
<text x="498" y="118.5" font-size="7" fill="#333" text-anchor="middle">14 kbp</text>
<text x="553.4" y="136.9" font-size="7" fill="#333" text-anchor="middle">2 kbp</text>
<text x="569.7" y="186.8" font-size="7" fill="#333" text-anchor="middle">4 kbp</text>
<text x="540.5" y="230.5" font-size="7" fill="#333" text-anchor="middle">6 kbp</text>
<text x="494.4" y="239.9" font-size="7" fill="#333" text-anchor="middle">8 kbp</text>
<text x="461.3" y="205.8" font-size="7" fill="#333" text-anchor="middle">10 kbp</text>
<text x="458.7" y="157" font-size="7" fill="#333" text-anchor="middle">12 kbp</text>
<text x="512.55" y="173.35" font-size="8.8" fill="#222" text-anchor="middle" font-style="italic">Charinus ferreus</text>
<text x="510.95" y="183.65" font-size="8.8" fill="#222" text-anchor="middle">14,824 bp</text>
<line x1="512.9" y1="6.5" x2="512.9" y2="39.7" stroke="#d77fd7" stroke-width="0.8"/>
<text x="512.2" y="5.2" font-size="8" fill="#d77fd7" text-anchor="start">I</text>
<line x1="517.5" y1="14.6" x2="516.6" y2="39.7" stroke="#d77fd7" stroke-width="0.8"/>
<text x="514.4" y="13.3" font-size="8" fill="#d77fd7" text-anchor="start">Q</text>
<line x1="521.9" y1="23" x2="520.5" y2="39.7" stroke="#d77fd7" stroke-width="0.8"/>
<text x="518.1" y="21.7" font-size="8" fill="#d77fd7" text-anchor="start">M</text>
<line x1="496" y1="24.4" x2="497.4" y2="40.7" stroke="#e69a0a" stroke-width="0.8"/>
<text x="490" y="22.6" font-size="8" fill="#e69a0a" text-anchor="start">CR</text>
<line x1="461" y1="32.7" x2="466.6" y2="47.2" stroke="#80cc9c" stroke-width="0.8"/>
<text x="445.8" y="31" font-size="8" fill="#80cc9c" text-anchor="start">rrnS</text>
<line x1="438.4" y1="42.2" x2="445.9" y2="56.6" stroke="#d77fd7" stroke-width="0.8"/>
<text x="432" y="40.1" font-size="8" fill="#d77fd7" text-anchor="start">V</text>
<line x1="556.8" y1="29.3" x2="551.1" y2="45.9" stroke="#7b7bcc" stroke-width="0.8"/>
<text x="556" y="28.5" font-size="8" fill="#7b7bcc" text-anchor="start">nad2</text>
<line x1="586.3" y1="43" x2="577.8" y2="57.5" stroke="#d77fd7" stroke-width="0.8"/>
<text x="586.7" y="41.2" font-size="8" fill="#d77fd7" text-anchor="start">W</text>
<line x1="591.5" y1="42.3" x2="580.8" y2="59.3" stroke="#d77fd7" stroke-width="0.8"/>
<text x="594.1" y="36.4" font-size="8" fill="#d77fd7" text-anchor="start">C</text>
<line x1="600.1" y1="36.7" x2="584.5" y2="61.2" stroke="#d77fd7" stroke-width="0.8"/>
<text x="602.3" y="32.3" font-size="8" fill="#d77fd7" text-anchor="start">Y</text>
<line x1="617.4" y1="91.8" x2="631.1" y2="81.4" stroke="#7b7bcc" stroke-width="0.8"/>
<text x="631.4" y="80.7" font-size="8" fill="#7b7bcc" text-anchor="start">cox1</text>
<line x1="643.4" y1="149.5" x2="660" y2="146.3" stroke="#7b7bcc" stroke-width="0.8"/>
<text x="660.6" y="149.5" font-size="8" fill="#7b7bcc" text-anchor="start">cox2</text>
<line x1="645.7" y1="169.4" x2="662.6" y2="169.4" stroke="#d77fd7" stroke-width="0.8"/>
<text x="663.3" y="172" font-size="8" fill="#d77fd7" text-anchor="start">K</text>
<line x1="645.7" y1="173.3" x2="679" y2="173.3" stroke="#d77fd7" stroke-width="0.8"/>
<text x="679.1" y="176" font-size="8" fill="#d77fd7" text-anchor="start">D</text>
<line x1="645.7" y1="179.9" x2="662.6" y2="180.3" stroke="#7b7bcc" stroke-width="0.8"/>
<text x="663.3" y="183.2" font-size="8" fill="#7b7bcc" text-anchor="start">atp8</text>
<line x1="642.8" y1="202.7" x2="659.4" y2="206.2" stroke="#7b7bcc" stroke-width="0.8"/>
<text x="660" y="208.2" font-size="8" fill="#7b7bcc" text-anchor="start">atp6</text>
<line x1="627.4" y1="243" x2="641.9" y2="251.4" stroke="#7b7bcc" stroke-width="0.8"/>
<text x="642.5" y="258.7" font-size="8" fill="#7b7bcc" text-anchor="start">cox3</text>
<line x1="614" y1="261.8" x2="627" y2="272.5" stroke="#d77fd7" stroke-width="0.8"/>
<text x="627.4" y="279.5" font-size="8" fill="#d77fd7" text-anchor="start">G</text>
<line x1="605.7" y1="270.7" x2="617.5" y2="283.2" stroke="#7b7bcc" stroke-width="0.8"/>
<text x="617.5" y="290.2" font-size="8" fill="#7b7bcc" text-anchor="start">nad3</text>
<line x1="597.3" y1="278.5" x2="608.2" y2="292.5" stroke="#d77fd7" stroke-width="0.8"/>
<text x="607.7" y="298.6" font-size="8" fill="#d77fd7" text-anchor="start">A</text>
<line x1="594.5" y1="280.6" x2="614.5" y2="306.5" stroke="#d77fd7" stroke-width="0.8"/>
<text x="615" y="313.1" font-size="8" fill="#d77fd7" text-anchor="start">R</text>
<line x1="591.6" y1="283.2" x2="606.2" y2="303.4" stroke="#d77fd7" stroke-width="0.8"/>
<text x="606.2" y="310" font-size="8" fill="#d77fd7" text-anchor="start">N</text>
<line x1="588.7" y1="285.3" x2="612.4" y2="318.5" stroke="#d77fd7" stroke-width="0.8"/>
<text x="612.4" y="325.6" font-size="8" fill="#d77fd7" text-anchor="start">S1</text>
<line x1="585.9" y1="286.8" x2="604.6" y2="313.8" stroke="#d77fd7" stroke-width="0.8"/>
<text x="604.1" y="321.4" font-size="8" fill="#d77fd7" text-anchor="start">E</text>
<line x1="582.8" y1="288.9" x2="592.1" y2="303.4" stroke="#d77fd7" stroke-width="0.8"/>
<text x="592.1" y="310" font-size="8" fill="#d77fd7" text-anchor="start">F</text>
<line x1="540.1" y1="323.9" x2="536.6" y2="306.8" stroke="#7b7bcc" stroke-width="0.8"/>
<text x="531.2" y="330.9" font-size="8" fill="#7b7bcc" text-anchor="start">nad5</text>
<line x1="484.8" y1="323.9" x2="487.8" y2="307.5" stroke="#d77fd7" stroke-width="0.8"/>
<text x="481.7" y="331.3" font-size="8" fill="#d77fd7" text-anchor="start">H</text>
<line x1="441.2" y1="309.2" x2="449.3" y2="294.2" stroke="#7b7bcc" stroke-width="0.8"/>
<text x="422.5" y="316.9" font-size="8" fill="#7b7bcc" text-anchor="start">nad4</text>
<line x1="400.4" y1="279" x2="413.4" y2="267.5" stroke="#7b7bcc" stroke-width="0.8"/>
<text x="381.3" y="287.2" font-size="8" fill="#7b7bcc" text-anchor="start">nad4l</text>
<line x1="372.9" y1="284.7" x2="405.3" y2="259.4" stroke="#d77fd7" stroke-width="0.8"/>
<text x="368.5" y="291.3" font-size="8" fill="#d77fd7" text-anchor="start">T</text>
<line x1="389.3" y1="265.9" x2="403.6" y2="256.1" stroke="#d77fd7" stroke-width="0.8"/>
<text x="384.4" y="273.3" font-size="8" fill="#d77fd7" text-anchor="start">P</text>
<line x1="380.8" y1="253.7" x2="395.5" y2="244.7" stroke="#7b7bcc" stroke-width="0.8"/>
<text x="363.3" y="261.1" font-size="8" fill="#7b7bcc" text-anchor="start">nad6</text>
<line x1="362" y1="206" x2="379.1" y2="202.2" stroke="#7b7bcc" stroke-width="0.8"/>
<text x="349.4" y="209.7" font-size="8" fill="#7b7bcc" text-anchor="start">cob</text>
<line x1="359" y1="168.4" x2="375.8" y2="168.4" stroke="#d77fd7" stroke-width="0.8"/>
<text x="349.4" y="171" font-size="8" fill="#d77fd7" text-anchor="start">S2</text>
<line x1="363.3" y1="134.8" x2="380.7" y2="139.5" stroke="#7b7bcc" stroke-width="0.8"/>
<text x="346.9" y="135" font-size="8" fill="#7b7bcc" text-anchor="start">nad1</text>
<line x1="362.9" y1="93.6" x2="392.8" y2="110" stroke="#d77fd7" stroke-width="0.8"/>
<text x="354.6" y="92.9" font-size="8" fill="#d77fd7" text-anchor="start">L1</text>
<line x1="375" y1="103.2" x2="391.2" y2="112.9" stroke="#d77fd7" stroke-width="0.8"/>
<text x="366.8" y="104.8" font-size="8" fill="#d77fd7" text-anchor="start">L2</text>
<line x1="397.1" y1="72.4" x2="411.5" y2="84.9" stroke="#80cc9c" stroke-width="0.8"/>
<text x="384.4" y="72.1" font-size="8" fill="#80cc9c" text-anchor="start">rrnL</text>
<circle cx="289.05" cy="505.7" r="127.85" fill="none" stroke="#222" stroke-width="0.9"/>
<circle cx="289.05" cy="505.7" r="117.4" fill="none" stroke="#808080" stroke-width="3.3999999999999915"/>
<path d="M289.05,378.7A127,127 0 0 1 327.45,384.64L325.33,391.32A120,120 0 0 0 289.05,385.7Z" fill="#e69a0a"/>
<path d="M327.87,384.78L329.14,385.19L329.87,389.14L326.93,391.83L325.73,391.44L326.8,388.11Z" fill="#d77fd7"/>
<path d="M333.11,386.59L334.19,386.99L334.51,390.87L331.7,393.54L330.68,393.15L331.9,389.87Z" fill="#d77fd7"/>
<path d="M336.63,387.95A127,127 0 0 1 379.74,416.8L378.63,420.69L374.75,421.7A120,120 0 0 0 334,394.44Z" fill="#7b7bcc"/>
<path d="M381.63,418.76L382.79,420.02L381.55,423.87L377.63,424.74L376.53,423.55L379.08,421.16Z" fill="#d77fd7"/>
<path d="M387.19,425.09A127,127 0 0 1 415.91,499.66L412.49,501.82L408.91,499.99A120,120 0 0 0 381.78,429.53Z" fill="#7b7bcc"/>
<path d="M416.01,502.6A127,127 0 0 1 412.5,535.5L408.62,536.62L405.7,533.86A120,120 0 0 0 409.01,502.77Z" fill="#7b7bcc"/>
<path d="M411.95,537.71L411.51,539.37L407.59,540.36L404.76,537.51L405.18,535.95L408.56,536.83Z" fill="#d77fd7"/>
<path d="M410.88,541.56L410.32,543.41L406.37,544.27L403.64,541.33L404.17,539.58L407.53,540.57Z" fill="#d77fd7"/>
<path d="M409.49,546A127,127 0 0 1 407.95,550.33L403.96,550.96L401.4,547.87A120,120 0 0 0 402.85,543.78Z" fill="#7b7bcc"/>
<path d="M406.97,552.86A127,127 0 0 1 390.11,582.61L386.1,582.07L384.54,578.37A120,120 0 0 0 400.47,550.26Z" fill="#7b7bcc"/>
<path d="M388.44,584.76A127,127 0 0 1 360.3,610.83L356.67,609.04L356.38,605.03A120,120 0 0 0 382.96,580.4Z" fill="#7b7bcc"/>
<path d="M358.22,612.21L356.96,613.02L353.39,611.11L353.22,607.1L354.41,606.34L356.31,609.28Z" fill="#d77fd7"/>
<path d="M354.84,614.33A127,127 0 0 1 339.95,622.05L336.71,619.63L337.15,615.64A120,120 0 0 0 351.21,608.34Z" fill="#7b7bcc"/>
<path d="M337.65,623.03L336.5,623.5L333.51,620.92L333.89,617.01L334.97,616.57L336.31,619.8Z" fill="#d77fd7"/>
<path d="M334.56,624.26L333.4,624.7L330.48,622.04L330.96,618.14L332.05,617.73L333.31,621Z" fill="#d77fd7"/>
<path d="M331.44,625.42L330.27,625.82L327.42,623.09L328,619.2L329.11,618.82L330.28,622.12Z" fill="#d77fd7"/>
<path d="M328.3,626.48L327.11,626.86L324.33,624.05L325.01,620.18L326.13,619.83L327.21,623.16Z" fill="#d77fd7"/>
<path d="M325.12,627.47L323.93,627.82L321.22,624.94L322.01,621.09L323.13,620.76L324.13,624.11Z" fill="#d77fd7"/>
<path d="M169.56,548.72L169.06,547.32L171.73,544.27L175.68,545.02L176.14,546.35L172.85,547.53Z" fill="#d77fd7"/>
<path d="M168.27,544.95A127,127 0 0 1 163.2,522.78L166.42,520.32L170.14,521.84A120,120 0 0 0 174.92,542.78Z" fill="#7b7bcc"/>
<path d="M162.84,519.86A127,127 0 0 1 169.24,463.57L173.22,462.85L175.84,465.9A120,120 0 0 0 169.8,519.08Z" fill="#7b7bcc"/>
<path d="M170.09,461.22L170.7,459.62L174.7,459.04L177.23,462.16L176.65,463.68L173.37,462.45Z" fill="#d77fd7"/>
<path d="M331.23,398.07L330.33,397.72L327.76,400.49L327.83,404.26L328.68,404.59L329.95,401.33Z" fill="#d77fd7"/>
<path d="M377.99,431.86L377.32,431.05L373.65,432.16L371.97,435.57L372.61,436.33L375.3,434.09Z" fill="#d77fd7"/>
<path d="M379.77,434.05L379.12,433.23L375.42,434.24L373.66,437.62L374.28,438.39L377.02,436.22Z" fill="#d77fd7"/>
<path d="M314.07,618.56L315.41,618.25L316.55,614.37L313.81,611.44L312.56,611.73L313.31,615.14Z" fill="#d77fd7"/>
<path d="M312.74,615.27L311.46,619.11A115.6,115.6 0 0 1 234.42,607.58L237.73,601.41A108.6,108.6 0 0 0 310.1,612.24Z" fill="#7b7bcc"/>
<path d="M230.9,605.61L232.09,606.29L235.56,604.22L235.54,600.2L234.42,599.56L232.66,602.59Z" fill="#d77fd7"/>
<path d="M232.15,602.29L228.61,604.24A115.6,115.6 0 0 1 186.98,559.97L193.16,556.68A108.6,108.6 0 0 0 232.27,598.27Z" fill="#7b7bcc"/>
<path d="M189.89,557.98L185.85,557.78A115.6,115.6 0 0 1 181.13,547.13L187.66,544.62A108.6,108.6 0 0 0 192.1,554.63Z" fill="#7b7bcc"/>
<path d="M178.33,538.92L178.79,540.42L182.74,541.27L185.46,538.32L185.03,536.91L181.68,537.91Z" fill="#d77fd7"/>
<path d="M185.86,461.9L183.46,458.64A115.6,115.6 0 0 1 206.18,425.11L211.19,429.99A108.6,108.6 0 0 0 189.86,461.49Z" fill="#7b7bcc"/>
<path d="M208.46,422.83L207.65,423.62L208.96,427.27L212.58,428.59L213.34,427.84L210.9,425.33Z" fill="#d77fd7"/>
<path d="M210.65,420.74L209.83,421.51L211.04,425.2L214.63,426.61L215.4,425.89L213.03,423.32Z" fill="#d77fd7"/>
<path d="M210.95,420.47A115.6,115.6 0 0 1 265.21,392.58L266.66,399.43A108.6,108.6 0 0 0 215.68,425.63Z" fill="#80cc9c"/>
<path d="M270.37,391.62L269.25,391.81L268.24,395.55L270.45,398.7L271.5,398.53L270.93,395.07Z" fill="#d77fd7"/>
<path d="M270.97,391.52A115.6,115.6 0 0 1 289.05,390.1L289.05,397.1A108.6,108.6 0 0 0 272.06,398.44Z" fill="#80cc9c"/>
<circle cx="289.05" cy="505.7" r="107.75" fill="none" stroke="#222" stroke-width="0.9"/>
<circle cx="289.05" cy="505.7" r="92.05" fill="none" stroke="#222" stroke-width="0.9"/>
<circle cx="289.05" cy="505.7" r="76.35" fill="none" stroke="#222" stroke-width="0.9"/>
<path d="M289.1,405.1 289.8,405.1 290.5,405.1 291.2,405.2 291.9,405.3 292.6,405.1 293.3,405.1 294.0,405.1 294.7,405.1 295.4,405.1 296.1,405.2 296.8,405.2 297.5,405.3 298.2,405.2 298.9,405.2 299.6,405.1 300.3,405.2 301.0,405.2 301.7,405.3 302.4,405.4 303.2,405.3 303.9,405.3 304.6,405.4 305.3,405.5 306.0,405.5 306.7,405.5 307.5,405.3 308.2,405.4 309.0,405.1 309.7,405.1 310.4,405.1 311.2,404.9 311.9,405.2 312.7,404.8 313.4,405.1 314.1,405.4 314.8,405.5 315.5,405.6 316.2,405.7 317.0,405.7 317.8,405.5 318.5,405.7 319.1,406.2 319.8,406.3 320.5,406.6 321.2,406.8 321.8,407.1 322.5,407.5 323.1,407.8 323.8,408.1 324.5,408.3 325.1,408.6 325.9,408.8 326.5,409.2 327.0,409.8 327.8,409.8 328.3,410.5 328.8,411.1 329.3,411.8 329.8,412.5 330.3,412.9 330.9,413.5 331.4,414.0 331.9,414.7 332.5,415.0 333.0,415.6 333.6,416.0 334.1,416.5 334.7,416.8 335.3,417.2 336.0,417.5 336.6,417.8 337.2,418.2 337.8,418.5 338.4,418.8 339.0,419.2 339.6,419.5 340.2,419.9 340.8,420.2 341.4,420.6 342.0,421.0 342.6,421.4 343.2,421.7 343.8,422.1 344.3,422.5 344.9,422.9 345.5,423.3 346.1,423.7 346.6,424.1 347.2,424.5 347.8,424.9 348.3,425.3 348.9,425.7 349.4,426.1 350.0,426.6 350.6,427.0 351.1,427.4 351.6,427.8 352.2,428.3 352.7,428.7 353.3,429.2 353.8,429.6 354.3,430.1 354.9,430.5 355.4,431.0 355.9,431.5 356.4,431.9 356.9,432.4 357.4,432.9 357.9,433.4 358.4,433.8 358.9,434.3 359.4,434.8 359.9,435.3 360.5,435.8 361.2,436.0 361.8,436.4 362.6,436.6 363.1,437.1 363.8,437.5 364.4,437.9 365.0,438.3 365.4,438.8 365.9,439.4 366.7,439.6 367.1,440.2 367.6,440.7 368.2,441.2 368.7,441.6 369.2,442.2 369.6,442.7 370.3,443.2 370.6,443.8 371.2,444.2 371.9,444.6 372.6,445.0 373.1,445.6 373.7,446.0 374.2,446.5 374.6,447.1 375.2,447.6 375.5,448.3 376.1,448.8 376.7,449.2 377.6,449.5 377.8,450.2 378.2,450.9 378.8,451.3 379.4,451.8 380.0,452.3 380.3,453.0 380.2,453.9 380.8,454.4 381.0,455.2 381.7,455.6 382.0,456.3 382.2,457.0 382.8,457.5 383.4,458.1 383.8,458.7 384.5,459.2 384.8,459.8 385.6,460.3 385.4,461.2 385.9,461.7 385.9,462.6 386.2,463.3 386.5,463.9 386.7,464.6 386.9,465.4 386.9,466.2 387.5,466.7 387.8,467.4 388.4,468.0 388.6,468.7 388.9,469.4 389.2,470.1 389.3,470.8 389.7,471.4 389.9,472.2 389.7,473.0 389.7,473.8 389.6,474.6 390.2,475.2 390.1,476.0 390.2,476.7 390.2,477.5 390.1,478.2 390.3,478.9 390.2,479.7 390.4,480.4 390.4,481.2 390.4,481.9 390.6,482.6 390.9,483.3 391.1,484.0 391.2,484.7 391.6,485.4 391.3,486.2 391.3,486.9 391.4,487.6 391.4,488.4 391.2,489.2 391.1,489.9 391.3,490.6 391.1,491.4 390.8,492.1 390.8,492.8 390.6,493.6 390.2,494.4 390.1,495.1 389.6,495.8 389.4,496.6 389.1,497.3 388.9,498.0 388.7,498.7 388.8,499.4 388.8,500.1 388.8,500.8 388.9,501.5 388.9,502.2 388.9,502.9 388.9,503.6 388.9,504.3 388.9,505.0 389.0,505.7 388.9,506.4 388.9,507.1 388.9,507.8 388.9,508.5 388.9,509.2 388.9,509.9 388.8,510.6 388.8,511.3 388.8,512.0 389.2,512.7 389.6,513.4 389.9,514.2 390.2,514.9 390.3,515.6 390.3,516.3 390.4,517.1 390.5,517.8 390.6,518.5 390.6,519.2 390.7,520.0 390.7,520.7 390.4,521.4 390.2,522.1 390.5,522.9 390.2,523.5 390.0,524.2 389.9,524.9 389.5,525.6 389.2,526.3 389.0,527.0 388.6,527.6 388.3,528.3 388.3,529.0 388.0,529.6 387.7,530.3 387.1,530.9 386.4,531.4 385.8,532.0 385.3,532.6 385.1,533.2 384.9,533.9 384.7,534.6 384.5,535.2 384.3,535.9 384.1,536.6 383.8,537.2 383.6,537.9 383.4,538.6 383.2,539.2 382.9,539.9 382.7,540.5 382.4,541.2 382.2,541.8 381.9,542.5 381.7,543.1 381.4,543.8 381.1,544.4 380.9,545.1 380.6,545.7 380.3,546.3 380.0,547.0 379.7,547.6 379.4,548.2 379.1,548.9 378.8,549.5 378.5,550.1 378.2,550.7 377.9,551.4 377.6,552.0 377.3,552.6 376.9,553.2 376.6,553.8 376.3,554.4 375.9,555.0 375.6,555.7 375.2,556.3 374.9,556.9 374.5,557.5 374.2,558.1 373.9,558.7 373.6,559.4 373.3,560.0 372.9,560.6 372.6,561.2 372.3,561.9 371.9,562.4 371.7,563.1 371.5,563.8 371.2,564.5 370.8,565.1 370.6,565.8 370.2,566.4 369.9,567.1 369.4,567.6 368.9,568.1 368.4,568.6 368.0,569.2 367.7,569.8 367.4,570.5 367.1,571.2 366.7,571.8 366.3,572.4 365.9,573.0 365.5,573.5 364.8,573.9 364.4,574.5 364.0,575.1 363.6,575.8 363.2,576.4 362.8,577.0 362.3,577.4 361.9,578.1 361.3,578.4 360.9,579.0 360.4,579.5 359.8,580.0 359.3,580.5 358.8,581.0 358.2,581.4 357.7,581.9 357.2,582.4 356.7,582.9 356.2,583.5 355.6,583.9 354.9,584.2 354.4,584.7 353.8,585.1 353.2,585.5 352.5,585.8 351.9,586.2 351.3,586.6 350.8,587.1 350.2,587.4 349.6,587.9 349.1,588.4 348.5,588.8 347.9,589.1 347.4,589.7 346.8,590.1 346.2,590.4 345.5,590.7 344.9,591.1 344.4,591.6 344.0,592.2 343.3,592.5 342.7,592.9 342.3,593.6 341.7,594.0 341.1,594.5 340.6,594.9 340.0,595.3 339.2,595.5 338.7,596.0 338.1,596.5 337.4,596.7 336.9,597.2 336.2,597.5 335.5,597.7 335.1,598.4 334.6,599.0 333.9,599.4 333.2,599.6 332.7,600.2 332.1,600.6 331.5,601.0 331.0,601.6 330.2,601.8 329.4,601.6 328.8,602.0 328.1,602.4 327.3,602.4 326.6,602.5 325.9,602.8 325.3,603.1 324.5,603.1 323.8,603.2 323.1,603.4 322.4,603.7 321.8,604.1 321.0,604.0 320.3,604.1 319.6,604.3 318.9,604.5 318.1,604.4 317.5,604.8 316.5,604.2 315.7,603.9 314.9,603.4 314.0,603.0 313.2,602.6 312.5,602.8 311.9,603.0 311.2,603.1 310.5,603.3 309.8,603.4 309.1,603.6 308.5,603.7 307.8,603.8 307.1,604.0 306.4,604.1 305.7,604.2 305.0,604.3 304.3,604.4 303.6,604.5 303.0,604.6 302.3,604.7 301.6,604.8 300.9,604.9 300.2,605.0 299.5,605.1 298.8,605.1 298.1,605.2 297.4,605.2 296.7,605.3 296.0,605.4 295.3,605.4 294.6,605.4 293.9,605.5 293.2,605.5 292.5,605.5 291.8,605.6 291.1,605.6 290.4,605.6 289.7,605.6 289.1,605.6 288.4,605.6 287.7,605.6 287.0,605.6 286.3,605.6 285.6,605.5 284.9,605.5 284.2,605.5 283.5,605.4 282.8,605.4 282.1,605.4 281.4,605.3 280.7,605.2 280.0,605.2 279.3,605.1 278.6,605.1 277.9,605.0 277.2,605.5 276.4,605.7 275.7,606.0 274.9,606.3 274.2,606.4 273.5,606.2 272.8,606.0 272.1,605.9 271.4,605.6 270.7,605.7 270.0,605.6 269.3,605.5 268.5,605.7 267.8,605.5 267.1,605.5 266.5,605.1 265.8,604.8 265.1,604.8 264.4,604.4 263.7,604.4 263.1,604.1 262.4,603.8 261.8,603.3 261.2,602.8 260.6,602.5 259.9,602.2 259.4,601.6 258.8,600.9 258.2,600.7 257.5,600.5 256.9,600.3 256.2,600.0 255.5,599.8 254.9,599.6 254.2,599.3 253.6,599.1 252.9,598.8 252.3,598.6 251.6,598.3 251.0,598.1 250.3,597.8 249.7,597.5 249.1,597.2 248.4,597.0 247.8,596.7 247.1,596.4 246.5,596.1 245.9,595.8 245.3,595.5 244.6,595.2 244.0,594.9 243.4,594.6 242.8,594.2 242.1,593.9 241.5,593.6 240.9,593.2 240.3,592.9 239.7,592.6 239.1,592.2 238.5,591.9 237.9,591.5 237.3,591.2 236.7,590.8 236.1,590.4 235.5,590.0 234.9,589.7 234.3,589.3 233.8,588.9 233.2,588.5 232.6,588.1 232.0,587.7 231.5,587.3 230.9,586.9 230.3,586.5 229.8,586.1 229.2,585.7 228.7,585.3 228.1,584.8 227.5,584.4 227.0,584.0 226.5,583.6 225.9,583.1 225.4,582.7 224.8,582.2 224.3,581.8 223.8,581.3 223.2,580.9 222.7,580.4 222.2,579.9 221.7,579.5 221.2,579.0 220.7,578.5 220.2,578.0 219.7,577.6 219.2,577.1 218.7,576.6 218.2,576.1 217.7,575.6 217.2,575.1 216.7,574.6 216.2,574.1 215.8,573.6 215.3,573.1 214.8,572.5 214.3,572.0 213.9,571.5 213.4,571.0 213.0,570.4 212.5,569.9 212.1,569.4 211.6,568.8 211.2,568.3 210.8,567.8 210.3,567.2 209.9,566.7 209.5,566.1 209.1,565.5 208.6,565.0 208.2,564.4 207.8,563.9 207.4,563.3 207.0,562.7 206.6,562.1 206.2,561.6 205.8,561.0 205.5,560.4 205.1,559.8 204.7,559.2 204.3,558.6 204.0,558.0 203.6,557.5 203.2,556.9 202.9,556.3 202.5,555.7 202.2,555.0 201.8,554.4 201.5,553.8 201.2,553.2 200.8,552.6 200.5,552.0 200.2,551.4 199.9,550.7 199.6,550.1 199.3,549.5 199.0,548.9 198.7,548.2 198.4,547.6 198.1,547.0 197.8,546.3 197.5,545.7 197.2,545.1 197.0,544.4 196.7,543.8 196.4,543.1 196.2,542.5 195.9,541.8 195.7,541.2 195.4,540.5 195.2,539.9 194.9,539.2 194.7,538.6 194.5,537.9 194.3,537.2 194.0,536.6 193.8,535.9 193.6,535.2 193.4,534.6 193.2,533.9 193.0,533.2 192.8,532.6 192.6,531.9 192.5,531.2 192.3,530.5 192.1,529.9 192.0,529.2 191.8,528.5 191.6,527.8 191.5,527.2 191.3,526.5 191.2,525.8 191.1,525.1 190.9,524.4 190.8,523.7 190.7,523.0 190.5,522.4 190.4,521.7 190.3,521.0 190.2,520.3 190.1,519.6 189.7,519.0 189.1,518.3 188.7,517.7 188.6,517.0 188.6,516.3 188.4,515.6 188.3,514.9 188.3,514.2 188.2,513.5 188.2,512.8 188.0,512.1 188.0,511.3 188.1,510.6 188.0,509.9 188.1,509.2 188.0,508.5 187.9,507.8 188.0,507.1 187.9,506.4 187.9,505.7 188.1,505.0 188.1,504.3 188.0,503.6 188.0,502.9 188.0,502.2 188.0,501.5 188.1,500.8 188.2,500.1 188.3,499.4 188.5,498.7 188.5,498.0 188.6,497.3 188.9,496.6 189.0,495.9 189.0,495.2 189.2,494.5 189.5,493.8 189.8,493.2 190.0,492.5 190.1,491.8 190.2,491.1 190.3,490.4 190.4,489.7 190.5,489.0 190.7,488.4 190.8,487.7 190.9,487.0 191.1,486.3 191.2,485.6 191.3,484.9 191.5,484.2 191.6,483.6 191.8,482.9 192.0,482.2 192.1,481.5 192.3,480.9 192.5,480.2 192.6,479.5 192.8,478.8 193.0,478.2 193.2,477.5 193.4,476.8 193.6,476.2 193.8,475.5 194.0,474.8 194.3,474.2 194.5,473.5 194.7,472.8 194.9,472.2 195.2,471.5 195.4,470.9 195.7,470.2 195.9,469.6 196.2,468.9 196.4,468.3 196.7,467.6 197.0,467.0 197.2,466.3 197.5,465.7 197.8,465.1 198.1,464.4 198.4,463.8 198.7,463.2 199.0,462.5 199.3,461.9 199.6,461.3 199.9,460.7 200.2,460.0 200.5,459.4 200.8,458.8 201.2,458.2 201.5,457.6 201.8,457.0 202.2,456.4 202.5,455.8 202.9,455.1 203.2,454.5 203.6,453.9 204.0,453.4 204.3,452.8 204.7,452.2 205.1,451.6 205.5,451.0 205.8,450.4 206.2,449.8 206.6,449.3 207.0,448.7 207.4,448.1 207.8,447.5 208.2,447.0 208.6,446.4 209.1,445.9 209.5,445.3 209.9,444.7 210.3,444.2 210.8,443.6 211.2,443.1 211.6,442.6 212.1,442.0 212.5,441.4 212.8,440.8 213.2,440.2 213.5,439.5 213.9,439.0 214.3,438.4 214.8,437.9 215.3,437.4 215.7,436.9 216.1,436.2 216.6,435.8 217.0,435.2 217.4,434.5 217.9,434.1 218.5,433.6 218.9,433.1 219.5,432.6 219.9,432.1 220.4,431.6 221.0,431.1 221.4,430.6 222.0,430.2 222.4,429.6 223.0,429.2 223.6,428.8 224.0,428.2 224.6,427.7 225.1,427.2 225.6,426.8 226.2,426.4 226.8,426.1 227.5,425.8 227.9,425.2 228.4,424.7 229.0,424.2 229.6,423.8 230.1,423.3 230.6,422.8 231.1,422.3 231.7,421.9 232.3,421.6 233.1,421.4 233.6,420.9 234.2,420.6 234.8,420.2 235.5,420.0 236.1,419.6 236.6,419.1 237.2,418.7 237.8,418.4 238.5,418.1 239.1,417.8 239.8,417.5 240.4,417.2 241.1,416.9 241.8,416.8 242.4,416.5 243.1,416.3 243.8,416.1 244.5,415.9 245.1,415.7 245.8,415.5 246.5,415.2 247.1,415.0 247.8,414.7 248.4,414.4 249.1,414.2 249.7,413.9 250.3,413.6 251.0,413.3 251.6,413.1 252.3,412.8 252.9,412.6 253.6,412.3 254.2,412.1 254.9,411.8 255.5,411.6 256.2,411.4 256.9,411.1 257.5,410.9 258.2,410.7 258.8,410.5 259.5,410.3 260.2,410.1 260.8,409.9 261.5,409.7 262.2,409.5 262.9,409.3 263.5,409.1 264.2,408.9 264.9,408.8 265.6,408.6 266.2,408.4 266.9,408.3 267.6,408.1 268.3,408.0 269.0,407.8 269.6,407.7 270.3,407.6 271.0,407.4 271.7,407.3 272.4,407.2 273.1,407.1 273.8,407.0 274.5,406.9 275.1,406.8 275.8,406.7 276.5,406.6 277.2,406.3 277.9,406.1 278.6,405.9 279.2,405.7 279.9,405.5 280.6,405.4 281.3,405.3 282.0,405.2 282.7,405.2 283.4,405.2 284.1,405.0 284.8,404.9 285.5,405.0 286.2,404.9 286.9,404.9 287.6,404.9 288.3,404.9 289.1,404.8L289.05,405.8A99.9,99.9 0 0 0 289.05,605.6A99.9,99.9 0 0 0 289.05,405.8Z" fill="#009900" fill-rule="nonzero"/>
<path d="M289.1,405.8 289.7,405.8 290.4,405.8 291.1,405.8 291.8,405.8 292.5,405.9 293.2,405.9 293.9,405.9 294.6,406.0 295.3,406.0 296.0,406.0 296.7,406.1 297.4,406.2 298.1,406.2 298.8,406.3 299.5,406.3 300.2,406.4 300.9,406.5 301.6,406.6 302.3,406.7 303.0,406.8 303.6,406.9 304.3,407.0 305.0,407.1 305.7,407.2 306.4,407.3 307.1,407.4 307.8,407.6 308.5,407.7 309.1,407.8 309.8,408.0 310.5,408.1 311.2,408.3 311.9,408.4 312.5,408.6 313.2,408.8 313.9,408.9 314.6,409.1 315.2,409.3 315.9,409.5 316.6,409.7 317.3,409.9 317.9,410.1 318.6,410.3 319.3,410.5 319.9,410.7 320.6,410.9 321.2,411.1 321.9,411.4 322.6,411.6 323.2,411.8 323.9,412.1 324.5,412.3 325.2,412.6 325.8,412.8 326.5,413.1 327.1,413.3 327.8,413.6 328.4,413.9 329.0,414.2 329.7,414.4 330.3,414.7 331.0,415.0 331.6,415.3 332.2,415.6 332.8,415.9 333.5,416.2 334.1,416.5 334.6,417.0 335.1,417.7 335.5,418.2 336.1,418.8 336.5,419.5 337.0,419.9 337.5,420.4 338.0,420.9 338.5,421.3 339.1,421.7 339.7,422.0 340.2,422.5 340.8,422.9 341.2,423.5 341.7,424.0 342.4,424.2 342.7,424.9 343.3,425.2 343.9,425.6 344.3,426.2 344.9,426.5 345.4,427.0 345.9,427.4 346.5,427.8 347.0,428.3 347.6,428.5 348.1,429.0 348.6,429.4 349.3,429.7 349.8,430.1 350.2,430.7 350.6,431.3 351.2,431.6 351.8,431.9 352.6,432.0 353.3,432.3 353.9,432.6 354.3,433.3 354.6,433.9 355.2,434.2 355.9,434.5 356.6,434.7 357.4,434.9 358.2,435.1 358.9,435.4 359.7,435.5 360.4,435.8 360.9,436.3 361.4,436.8 361.9,437.3 362.3,437.8 362.8,438.3 363.3,438.9 363.8,439.4 364.2,439.9 364.7,440.4 365.1,441.0 365.6,441.5 366.0,442.0 366.5,442.6 366.9,443.1 367.3,443.6 367.8,444.2 368.2,444.7 368.6,445.3 369.0,445.9 369.5,446.4 369.9,447.0 370.3,447.5 370.7,448.1 371.1,448.7 371.5,449.3 371.9,449.8 372.3,450.4 372.6,451.0 373.0,451.6 373.4,452.2 373.8,452.8 374.1,453.4 374.5,453.9 374.9,454.5 375.2,455.1 375.6,455.8 375.9,456.4 376.3,457.0 376.6,457.6 376.9,458.2 377.3,458.8 377.6,459.4 377.9,460.0 378.2,460.7 378.5,461.3 378.8,461.9 379.1,462.5 379.4,463.2 379.7,463.8 380.0,464.4 380.3,465.1 380.6,465.7 380.9,466.3 381.1,467.0 381.4,467.6 381.7,468.3 381.9,468.9 382.2,469.6 382.4,470.2 382.7,470.9 382.9,471.5 383.2,472.2 383.4,472.8 383.6,473.5 383.8,474.2 384.1,474.8 384.3,475.5 384.5,476.2 384.7,476.8 384.9,477.5 385.1,478.2 385.3,478.8 385.5,479.5 385.6,480.2 385.8,480.9 386.0,481.5 386.1,482.2 386.3,482.9 386.5,483.6 386.6,484.2 386.8,484.9 386.9,485.6 387.0,486.3 387.2,487.0 387.3,487.7 387.4,488.4 387.6,489.0 387.7,489.7 387.8,490.4 387.9,491.1 388.0,491.8 388.1,492.5 388.2,493.2 388.2,493.9 388.3,494.6 388.4,495.3 388.5,496.0 388.5,496.6 388.6,497.3 388.7,498.0 388.6,498.7 388.6,499.4 388.5,500.1 388.4,500.8 388.4,501.5 388.5,502.2 388.3,502.9 388.3,503.6 388.2,504.3 388.3,505.0 388.2,505.7 388.2,506.4 388.3,507.1 388.2,507.8 388.3,508.5 388.2,509.2 388.1,509.9 388.2,510.5 388.4,511.3 388.8,512.0 388.7,512.7 388.7,513.4 388.6,514.1 388.5,514.8 388.5,515.4 388.4,516.1 388.3,516.8 388.2,517.5 388.2,518.2 388.1,518.9 388.0,519.6 387.9,520.3 387.8,521.0 387.7,521.7 387.6,522.4 387.4,523.0 387.3,523.7 387.2,524.4 387.0,525.1 386.9,525.8 386.8,526.5 386.6,527.2 386.5,527.8 386.3,528.5 386.1,529.2 386.0,529.9 385.8,530.5 385.6,531.2 385.5,531.9 385.2,532.5 384.5,533.1 384.1,533.7 383.6,534.3 383.1,534.8 382.5,535.4 382.2,536.0 381.8,536.6 381.4,537.1 381.2,537.8 380.5,538.2 379.8,538.7 379.8,539.4 379.4,540.0 379.1,540.6 379.1,541.3 379.0,542.0 378.7,542.7 378.7,543.4 378.4,544.0 378.1,544.6 377.5,545.1 377.2,545.7 377.0,546.4 377.1,547.1 377.0,547.8 376.8,548.5 376.8,549.3 376.7,550.0 376.7,550.7 376.6,551.5 376.5,552.2 376.4,552.9 376.4,553.7 376.2,554.4 375.9,555.0 375.6,555.6 375.2,556.3 374.9,556.9 374.5,557.4 374.1,558.0 373.8,558.6 373.4,559.2 373.0,559.8 372.6,560.4 372.3,561.0 371.9,561.6 371.5,562.1 371.1,562.7 370.7,563.3 370.3,563.9 369.9,564.4 369.5,565.0 369.0,565.5 368.6,566.1 368.2,566.7 367.8,567.2 367.3,567.8 366.9,568.3 366.5,568.8 366.0,569.4 365.6,569.9 365.1,570.4 364.7,571.0 364.2,571.5 363.8,572.0 363.3,572.5 362.8,573.1 362.3,573.6 361.9,574.1 361.4,574.6 360.9,575.1 360.4,575.6 359.9,576.1 359.4,576.6 358.9,577.1 358.4,577.6 357.9,578.0 357.4,578.5 356.9,579.0 356.4,579.5 355.9,579.9 355.4,580.4 354.9,580.9 354.3,581.3 353.8,581.8 353.3,582.2 352.7,582.7 352.2,583.1 351.6,583.6 351.1,584.0 350.6,584.4 350.0,584.8 349.4,585.3 348.9,585.7 348.3,586.1 347.8,586.5 347.2,586.9 346.6,587.3 346.1,587.7 345.5,588.1 344.9,588.5 344.3,588.9 343.8,589.3 343.2,589.7 342.6,590.0 342.0,590.4 341.4,590.8 340.8,591.2 340.2,591.5 339.6,591.9 339.0,592.2 338.4,592.6 337.8,592.9 337.2,593.2 336.6,593.6 336.0,593.9 335.3,594.2 334.7,594.6 334.1,594.9 333.5,595.2 332.8,595.5 332.2,595.8 331.6,596.1 331.0,596.4 330.3,596.7 329.7,597.0 329.0,597.2 328.4,597.5 327.8,597.8 327.1,598.1 326.5,598.3 325.8,598.6 325.2,598.8 324.5,599.1 323.9,599.3 323.2,599.6 322.6,599.8 321.9,600.0 321.2,600.3 320.6,600.5 319.9,600.7 319.3,600.9 318.6,601.1 317.9,601.3 317.3,601.5 316.6,601.7 315.9,601.9 315.2,602.1 314.6,602.3 313.9,602.5 313.2,602.5 312.4,602.4 311.7,602.3 311.0,602.2 310.2,601.9 309.5,601.7 308.7,601.3 307.9,600.9 307.2,600.8 306.5,600.8 305.8,600.8 305.2,601.0 304.5,601.4 303.8,601.2 303.2,601.6 302.5,601.7 301.9,601.6 301.2,601.5 300.5,601.9 299.9,602.0 299.2,602.3 298.5,602.4 297.8,602.3 297.1,602.1 296.5,602.5 295.8,602.4 295.1,602.4 294.5,602.6 293.8,602.8 293.1,602.9 292.4,602.9 291.8,603.1 291.1,603.0 290.4,603.1 289.7,603.1 289.1,603.3 288.4,603.1 287.7,603.1 287.0,603.4 286.3,603.3 285.6,603.5 284.9,603.7 284.3,603.7 283.5,604.1 282.9,604.0 282.2,604.0 281.5,604.2 280.8,604.2 280.1,604.2 279.4,604.5 278.6,604.7 277.9,605.0 277.2,604.9 276.5,604.8 275.8,604.7 275.1,604.6 274.5,604.5 273.8,604.4 273.1,604.3 272.4,604.2 271.7,604.1 271.0,604.0 270.3,603.8 269.6,603.7 269.0,603.6 268.3,603.4 267.6,603.3 266.9,603.1 266.2,603.0 265.6,602.8 264.9,602.6 264.2,602.5 263.5,602.3 262.9,602.1 262.2,601.9 261.5,601.7 260.8,601.5 260.2,601.3 259.5,601.1 258.9,600.7 258.4,600.0 257.9,599.3 257.5,598.5 256.8,598.3 256.3,597.7 255.7,597.3 255.0,597.2 254.4,597.0 253.8,596.7 253.1,596.5 252.5,596.2 251.9,595.9 251.2,595.6 250.7,595.2 250.1,594.7 249.6,594.3 249.0,594.0 248.3,594.0 247.6,593.8 247.1,593.4 246.6,592.7 246.0,592.5 245.4,592.1 244.9,591.7 244.3,591.2 243.7,591.0 243.0,590.8 242.5,590.4 242.1,589.8 241.3,589.7 240.9,589.1 240.3,588.7 239.9,588.2 239.2,588.0 238.6,587.6 238.1,587.3 237.6,586.8 237.0,586.4 236.4,586.2 235.9,585.7 235.4,585.3 234.8,584.9 234.4,584.4 233.9,583.8 233.2,583.7 232.7,583.3 232.0,583.1 231.4,582.8 230.9,582.4 230.2,582.1 229.6,581.8 229.3,581.1 228.6,580.9 228.4,580.1 227.9,579.6 227.3,579.3 226.9,578.8 226.4,578.3 225.8,577.9 225.5,577.3 224.7,577.2 224.5,576.4 223.8,576.1 223.8,575.2 223.2,574.8 222.5,574.6 222.3,573.9 221.7,573.5 221.5,572.8 221.2,572.1 220.9,571.5 220.6,570.9 220.4,570.1 219.8,569.8 219.5,569.2 218.7,569.0 218.4,568.4 218.0,567.9 217.9,567.2 217.4,566.7 216.7,566.4 216.2,566.0 216.2,565.1 215.8,564.6 215.5,564.0 215.3,563.3 214.8,562.9 214.1,562.6 214.0,561.9 213.8,561.2 213.3,560.7 213.0,560.2 212.6,559.7 212.4,559.0 212.0,558.4 211.9,557.7 211.6,557.2 211.2,556.6 210.7,556.2 210.1,555.8 209.9,555.1 209.7,554.5 209.2,554.1 209.1,553.4 208.3,553.1 208.0,552.5 207.7,551.9 207.5,551.3 206.7,551.0 206.5,550.3 206.5,549.6 206.0,549.1 205.5,548.7 205.5,547.9 205.0,547.4 204.5,546.9 204.4,546.2 204.0,545.7 204.1,544.9 203.5,544.5 203.2,543.9 202.8,543.4 202.0,543.0 201.8,542.4 201.7,541.7 201.4,541.1 201.1,540.5 201.0,539.9 200.7,539.2 200.7,538.6 200.4,538.0 200.3,537.3 200.1,536.7 199.7,536.1 199.4,535.5 199.1,534.9 198.9,534.3 198.2,533.8 197.6,533.3 197.3,532.7 196.9,532.1 196.4,531.6 195.8,531.0 195.7,530.4 195.2,529.8 194.9,529.2 194.9,528.5 194.3,527.9 194.0,527.3 194.0,526.6 193.8,525.9 193.4,525.3 193.3,524.7 193.2,524.0 193.0,523.3 192.7,522.7 192.4,522.1 192.1,521.4 191.5,520.8 190.9,520.2 190.3,519.6 190.0,518.9 189.9,518.2 189.9,517.5 189.8,516.8 189.7,516.1 189.6,515.4 189.6,514.8 189.5,514.1 189.4,513.4 189.4,512.7 189.3,512.0 189.3,511.3 189.3,510.6 189.2,509.9 189.2,509.2 189.2,508.5 189.2,507.8 189.2,507.1 189.2,506.4 189.2,505.7 189.2,505.0 189.2,504.3 189.2,503.6 189.2,502.9 189.2,502.2 189.2,501.5 189.3,500.8 189.3,500.1 189.3,499.4 189.4,498.7 189.4,498.0 189.5,497.3 189.6,496.6 189.6,496.0 189.7,495.3 189.8,494.6 189.9,493.9 189.9,493.2 190.2,492.5 190.5,491.8 190.7,491.2 190.9,490.5 191.2,489.8 191.3,489.2 191.4,488.5 191.8,487.8 192.0,487.2 192.1,486.5 192.5,485.9 192.8,485.2 192.9,484.6 193.3,483.9 193.6,483.3 193.9,482.7 194.1,482.0 194.4,481.4 194.7,480.8 195.1,480.2 195.1,479.5 195.2,478.8 195.4,478.2 195.5,477.5 195.7,476.8 195.9,476.2 196.1,475.5 196.2,474.8 196.5,474.2 196.9,473.6 197.1,472.9 197.5,472.4 197.9,471.8 198.1,471.1 198.2,470.5 198.7,469.9 199.2,469.4 199.4,468.8 200.0,468.3 200.5,467.7 200.7,467.1 200.8,466.4 201.2,465.9 201.7,465.3 202.0,464.7 202.3,464.1 202.8,463.6 203.1,463.0 203.2,462.3 203.6,461.8 204.0,461.2 204.2,460.6 204.6,460.0 204.7,459.3 204.9,458.7 204.9,457.9 205.1,457.2 205.6,456.8 205.9,456.1 206.0,455.4 206.5,454.9 206.8,454.3 207.2,453.8 207.3,453.0 207.6,452.4 207.7,451.7 208.1,451.1 208.5,450.5 208.6,449.8 208.9,449.2 209.3,448.6 209.5,447.9 209.7,447.2 210.0,446.6 210.3,445.9 210.6,445.3 210.9,444.7 211.2,444.0 211.5,443.3 211.8,442.7 212.2,442.1 212.5,441.5 213.0,441.0 213.4,440.4 213.9,439.9 214.3,439.4 214.8,438.9 215.3,438.3 215.8,437.8 216.2,437.3 216.7,436.8 217.2,436.3 217.7,435.8 218.2,435.3 218.7,434.8 219.2,434.3 219.7,433.8 220.2,433.4 220.7,432.9 221.2,432.4 221.7,431.9 222.2,431.5 222.7,431.0 223.2,430.5 223.8,430.1 224.3,429.6 224.8,429.2 225.4,428.7 225.9,428.3 226.5,427.8 227.0,427.4 227.5,427.0 228.1,426.6 228.7,426.1 229.2,425.7 229.8,425.3 230.3,424.9 230.9,424.5 231.5,424.1 232.0,423.7 232.6,423.3 233.2,422.9 233.8,422.5 234.3,422.1 234.9,421.7 235.5,421.4 236.1,421.0 236.7,420.6 237.3,420.2 237.9,419.9 238.5,419.5 239.1,419.2 239.7,418.8 240.3,418.5 240.9,418.2 241.5,417.8 242.1,417.5 242.8,417.2 243.4,416.8 244.0,416.5 244.6,416.2 245.3,415.9 245.9,415.6 246.5,415.3 247.2,415.2 247.9,415.1 248.7,415.1 249.4,415.0 250.2,415.1 251.0,415.1 251.7,415.1 252.5,415.2 253.1,414.9 253.7,414.7 254.4,414.5 255.0,414.2 255.6,413.9 256.3,413.7 256.9,413.5 257.6,413.3 258.3,413.3 258.9,413.0 259.7,413.2 260.4,413.0 261.1,413.0 261.7,412.9 262.4,412.6 263.1,412.7 263.7,412.5 264.3,412.0 264.9,411.8 265.6,411.6 266.2,411.2 266.9,411.1 267.5,410.8 268.1,410.6 268.9,410.7 269.5,410.6 270.1,410.1 270.8,409.9 271.4,409.6 272.0,409.0 272.6,408.5 273.3,408.2 273.9,407.7 274.5,407.4 275.2,407.1 275.9,406.9 276.5,406.6 277.2,406.5 277.9,406.4 278.6,406.3 279.3,406.3 280.0,406.2 280.7,406.2 281.4,406.1 282.1,406.0 282.8,406.0 283.5,406.0 284.2,405.9 284.9,405.9 285.6,405.9 286.3,405.8 287.0,405.8 287.7,405.8 288.4,405.8 289.1,405.8L289.05,405.8A99.9,99.9 0 0 0 289.05,605.6A99.9,99.9 0 0 0 289.05,405.8Z" fill="#990099" fill-rule="nonzero"/>
<path d="M289.1,421.4 289.6,421.4 290.2,421.4 290.8,421.4 291.4,421.4 292.0,421.5 292.6,421.5 293.2,421.5 293.8,421.5 294.3,421.6 294.9,421.6 295.5,421.6 296.1,421.7 296.7,421.7 297.3,421.8 297.9,421.9 298.4,421.9 299.0,422.0 299.6,422.1 300.2,422.1 300.8,422.2 301.4,422.3 301.9,422.4 302.5,422.5 303.1,422.6 303.7,422.7 304.3,422.8 304.8,422.9 305.4,423.0 306.0,423.1 306.6,423.2 307.2,423.4 307.7,423.5 308.3,423.6 308.9,423.8 309.4,423.9 310.0,424.0 310.6,424.2 311.2,424.3 311.7,424.5 312.3,424.7 312.9,424.8 313.4,425.0 314.0,425.2 314.5,425.3 315.1,425.5 315.7,425.7 316.2,425.9 316.8,426.1 317.3,426.3 317.9,426.5 318.4,426.7 319.0,426.9 319.5,427.1 320.1,427.3 320.6,427.5 321.2,427.8 321.7,428.0 322.3,428.2 322.8,428.5 323.3,428.7 323.9,428.9 324.4,429.2 324.9,429.4 325.5,429.7 326.0,429.9 326.5,430.2 327.1,430.5 327.6,430.7 328.1,431.0 328.6,431.3 329.1,431.5 329.7,431.8 330.2,432.1 330.7,432.4 331.2,432.7 331.7,433.0 332.2,433.3 332.7,433.6 333.2,433.9 333.7,434.2 334.2,434.5 334.7,434.8 335.2,435.2 335.7,435.5 336.2,435.8 336.7,436.1 337.2,436.5 337.6,436.8 338.1,437.2 338.6,437.5 339.1,437.8 339.5,438.2 340.0,438.6 340.5,438.9 341.0,439.3 341.4,439.6 341.9,440.0 342.3,440.4 342.8,440.7 343.2,441.1 343.7,441.5 344.1,441.9 344.6,442.3 345.0,442.7 345.5,443.1 345.9,443.4 346.3,443.8 346.8,444.2 347.2,444.7 347.6,445.1 348.0,445.5 348.5,445.9 348.9,446.3 349.3,446.7 349.7,447.1 350.1,447.6 350.5,448.0 350.9,448.4 351.3,448.9 351.7,449.3 352.1,449.7 352.5,450.2 352.9,450.6 353.2,451.1 353.6,451.5 354.0,452.0 354.4,452.4 354.7,452.9 355.3,453.2 355.9,453.5 356.4,453.8 357.2,454.0 357.9,454.2 358.4,454.6 358.8,455.0 359.8,455.1 360.4,455.4 360.7,455.9 361.9,455.8 362.9,455.9 362.9,456.6 363.0,457.3 363.8,457.5 364.9,457.6 364.7,458.4 364.9,459.0 365.6,459.3 365.2,460.3 366.3,460.4 366.5,461.0 366.1,461.9 367.0,462.1 367.0,462.8 367.2,463.4 367.1,464.2 367.3,464.8 367.4,465.4 368.1,465.8 368.3,466.4 368.1,467.2 368.8,467.5 369.6,467.8 369.3,468.6 368.9,469.5 368.9,470.1 369.1,470.7 369.8,471.1 369.2,472.0 369.5,472.5 369.1,473.4 369.7,473.8 369.8,474.4 369.2,475.3 369.0,476.0 370.1,476.2 369.6,477.0 369.4,477.7 370.0,478.1 370.6,478.6 370.3,479.3 370.5,479.8 370.5,480.5 370.9,481.0 370.7,481.7 370.8,482.2 371.1,482.8 371.1,483.4 370.9,484.1 371.1,484.6 371.8,485.1 372.1,485.6 372.5,486.1 372.9,486.7 373.2,487.2 373.5,487.8 373.2,488.4 373.6,489.0 374.1,489.5 374.2,490.1 374.4,490.7 374.0,491.3 373.7,492.0 373.9,492.6 374.2,493.1 374.1,493.7 373.8,494.4 373.8,495.0 373.6,495.6 373.9,496.2 374.2,496.8 374.0,497.4 374.2,497.9 374.5,498.5 374.7,499.1 375.0,499.7 374.9,500.3 375.1,500.9 374.9,501.5 375.5,502.1 375.2,502.7 375.2,503.3 374.8,503.9 374.4,504.5 374.2,505.1 374.2,505.7 373.9,506.3 373.6,506.9 373.3,507.5 373.3,508.1 373.3,508.6 373.3,509.2 373.9,509.8 374.2,510.5 374.6,511.1 374.7,511.7 375.0,512.3 374.7,512.9 374.6,513.5 374.5,514.1 374.5,514.7 374.2,515.2 373.9,515.8 374.3,516.5 374.7,517.1 374.2,517.7 374.3,518.3 373.9,518.8 373.4,519.4 373.7,520.0 373.0,520.5 372.4,521.0 372.9,521.7 373.0,522.3 372.6,522.9 372.7,523.5 372.6,524.1 372.3,524.6 372.1,525.2 371.8,525.7 371.6,526.3 371.1,526.8 370.7,527.3 370.6,527.8 370.2,528.4 370.1,528.9 369.9,529.5 369.8,530.1 369.6,530.6 369.4,531.2 369.2,531.8 369.0,532.3 368.9,532.9 368.7,533.4 368.5,534.0 368.3,534.5 368.1,535.1 367.9,535.6 367.6,536.2 367.4,536.7 367.2,537.3 367.0,537.8 366.8,538.4 366.5,538.9 366.3,539.4 366.1,540.0 365.8,540.5 365.6,541.1 365.3,541.6 365.1,542.1 364.8,542.7 364.6,543.2 364.3,543.7 364.0,544.2 363.8,544.8 363.5,545.3 363.2,545.8 362.9,546.3 362.6,546.8 362.3,547.3 362.1,547.8 361.8,548.4 361.5,548.9 361.2,549.4 360.9,549.9 360.5,550.4 360.2,550.9 359.9,551.4 359.6,551.9 359.3,552.4 358.9,552.8 358.6,553.3 358.3,553.8 357.9,554.3 357.6,554.8 357.3,555.3 356.9,555.7 356.6,556.2 356.2,556.7 355.8,557.1 355.5,557.6 355.1,558.1 354.7,558.5 354.4,559.0 354.0,559.4 353.6,559.9 353.2,560.3 352.9,560.8 352.5,561.2 352.1,561.7 351.7,562.1 351.3,562.5 350.9,563.0 350.5,563.4 350.1,563.8 349.7,564.3 349.3,564.7 348.9,565.1 348.5,565.5 348.0,565.9 347.6,566.3 347.2,566.7 346.8,567.2 346.3,567.6 345.9,568.0 345.5,568.3 345.0,568.7 344.6,569.1 344.1,569.5 343.7,569.9 343.2,570.3 342.8,570.7 342.3,571.0 341.9,571.4 341.4,571.8 341.0,572.1 340.5,572.5 340.0,572.8 339.5,573.2 339.1,573.6 338.6,573.9 338.1,574.2 337.6,574.6 337.2,574.9 336.7,575.3 336.2,575.6 335.7,575.9 335.2,576.2 334.7,576.6 334.2,576.9 333.7,577.2 333.2,577.5 332.7,577.8 332.2,578.1 331.7,578.4 331.2,578.7 330.7,579.0 330.2,579.3 329.7,579.6 329.1,579.9 328.6,580.1 328.1,580.4 327.6,580.7 327.1,580.9 326.5,581.2 326.0,581.5 325.5,581.7 324.9,582.0 324.4,582.2 323.9,582.5 323.3,582.7 322.8,582.9 322.3,583.2 321.7,583.4 321.2,583.6 320.6,583.9 320.1,584.1 319.5,584.3 319.0,584.5 318.4,584.7 317.9,584.9 317.3,585.1 316.8,585.3 316.2,585.5 315.7,585.7 315.1,585.9 314.5,586.1 314.0,586.2 313.4,586.4 312.9,586.6 312.3,586.7 311.7,586.9 311.2,587.1 310.6,587.2 310.0,587.4 309.4,587.5 308.9,587.6 308.3,587.8 307.7,587.9 307.2,588.0 306.6,588.2 306.0,588.3 305.4,588.4 304.8,588.5 304.3,588.6 303.7,588.7 303.1,588.8 302.5,588.9 301.9,589.0 301.4,589.1 300.8,589.2 300.2,589.3 299.6,589.3 299.0,589.4 298.4,589.5 297.9,589.5 297.3,589.6 296.7,589.7 296.1,589.7 295.5,589.8 294.9,589.8 294.3,589.8 293.8,589.9 293.2,589.9 292.6,589.9 292.0,589.9 291.4,590.0 290.8,590.0 290.2,590.0 289.6,590.0 289.1,590.0 288.5,590.0 287.9,590.0 287.3,590.0 286.7,590.0 286.1,589.9 285.5,589.9 284.9,589.9 284.3,589.9 283.8,589.8 283.2,589.8 282.6,589.8 282.0,589.7 281.4,589.7 280.8,589.6 280.2,589.5 279.7,589.5 279.1,589.4 278.5,589.3 277.9,589.3 277.3,589.2 276.7,589.1 276.2,589.0 275.6,588.9 275.0,588.8 274.4,588.7 273.8,588.6 273.3,588.5 272.7,588.4 272.1,588.3 271.5,588.2 270.9,588.0 270.4,587.9 269.8,587.8 269.2,587.6 268.7,587.5 268.1,587.4 267.5,587.2 266.9,587.1 266.4,586.9 265.8,586.7 265.2,586.6 264.7,586.4 264.1,586.2 263.6,586.1 263.0,585.9 262.4,585.7 261.9,585.5 261.3,585.3 260.8,585.1 260.2,584.9 259.7,584.7 259.1,584.5 258.6,584.3 258.0,584.1 257.5,583.9 256.9,583.6 256.4,583.4 255.8,583.2 255.3,582.9 254.8,582.7 254.2,582.5 253.7,582.2 253.2,582.0 252.6,581.7 252.1,581.5 251.6,581.2 251.0,580.9 250.5,580.7 250.0,580.4 249.5,580.1 249.0,579.9 248.4,579.6 247.9,579.3 247.4,579.0 246.9,578.7 246.4,578.4 245.9,578.1 245.4,577.8 244.9,577.5 244.4,577.2 243.9,576.9 243.4,576.6 242.9,576.2 242.4,575.9 241.9,575.6 241.4,575.3 240.9,574.9 240.5,574.6 240.0,574.2 239.5,573.9 239.0,573.6 238.6,573.2 238.1,572.8 237.6,572.5 237.1,572.1 236.7,571.8 236.2,571.4 235.8,571.0 235.3,570.7 234.9,570.3 234.4,569.9 234.0,569.5 233.5,569.1 233.1,568.7 232.6,568.3 232.2,568.0 231.8,567.6 231.3,567.2 230.9,566.7 230.5,566.3 230.1,565.9 229.6,565.5 229.2,565.1 228.8,564.7 228.4,564.3 228.0,563.8 227.6,563.4 227.2,563.0 226.8,562.5 226.4,562.1 226.0,561.7 225.6,561.2 225.2,560.8 224.9,560.3 224.5,559.9 224.1,559.4 223.7,559.0 223.4,558.5 223.0,558.1 222.6,557.6 222.3,557.1 221.9,556.7 221.5,556.2 221.2,555.7 220.8,555.3 220.5,554.8 220.2,554.3 219.8,553.8 219.5,553.3 219.2,552.8 218.8,552.4 218.5,551.9 218.2,551.4 217.9,550.9 217.6,550.4 217.2,549.9 216.9,549.4 216.6,548.9 216.3,548.4 216.0,547.9 215.8,547.3 215.5,546.8 215.2,546.3 214.9,545.8 214.6,545.3 214.3,544.8 214.1,544.2 213.8,543.7 213.5,543.2 213.3,542.7 213.0,542.1 212.8,541.6 212.5,541.1 212.3,540.5 212.0,540.0 211.8,539.4 211.6,538.9 211.3,538.4 211.1,537.8 210.9,537.3 210.7,536.7 210.5,536.2 210.2,535.6 210.0,535.1 209.8,534.5 209.6,534.0 209.4,533.4 209.2,532.9 209.1,532.3 208.9,531.8 208.7,531.2 208.5,530.6 208.3,530.1 208.2,529.5 208.0,528.9 207.9,528.4 207.7,527.8 207.5,527.2 207.4,526.7 207.3,526.1 207.1,525.5 207.0,524.9 206.8,524.4 206.7,523.8 206.6,523.2 206.5,522.7 206.4,522.1 206.2,521.5 206.1,520.9 206.0,520.3 205.9,519.8 205.8,519.2 205.7,518.6 205.7,518.0 205.6,517.4 205.5,516.8 205.4,516.3 205.3,515.7 205.3,515.1 205.2,514.5 205.2,513.9 205.1,513.3 205.0,512.8 205.0,512.2 205.0,511.6 204.9,511.0 204.9,510.4 204.9,509.8 204.8,509.2 204.8,508.6 204.8,508.1 204.8,507.5 204.8,506.9 204.8,506.3 204.8,505.7 204.8,505.1 204.8,504.5 204.8,503.9 204.8,503.3 204.8,502.8 204.8,502.2 204.9,501.6 204.9,501.0 204.9,500.4 205.0,499.8 205.0,499.2 205.0,498.6 205.1,498.1 205.2,497.5 205.2,496.9 205.3,496.3 205.3,495.7 205.4,495.1 205.5,494.6 205.6,494.0 205.7,493.4 205.7,492.8 205.8,492.2 205.9,491.6 206.0,491.1 206.1,490.5 206.2,489.9 206.4,489.3 206.5,488.7 206.6,488.2 206.7,487.6 206.8,487.0 207.0,486.5 207.1,485.9 207.3,485.3 207.4,484.7 207.5,484.2 207.7,483.6 207.9,483.0 208.0,482.5 208.2,481.9 208.3,481.3 208.5,480.8 208.7,480.2 208.9,479.6 209.1,479.1 209.2,478.5 209.4,478.0 209.6,477.4 209.8,476.9 210.0,476.3 210.2,475.8 210.5,475.2 210.7,474.7 210.9,474.1 211.1,473.6 211.0,472.9 211.2,472.3 211.8,472.0 212.0,471.4 212.3,470.9 212.5,470.3 212.8,469.8 213.0,469.3 213.3,468.7 213.5,468.2 213.8,467.7 214.1,467.2 214.3,466.6 214.6,466.1 214.9,465.6 215.2,465.1 215.5,464.6 215.8,464.1 216.0,463.5 216.3,463.0 216.6,462.5 216.9,462.0 217.2,461.5 217.6,461.0 217.9,460.5 218.2,460.0 218.5,459.5 218.8,459.0 219.2,458.6 219.5,458.1 219.8,457.6 220.2,457.1 220.5,456.6 220.8,456.1 221.2,455.7 221.5,455.2 221.9,454.7 222.3,454.3 222.6,453.8 223.0,453.3 223.4,452.9 223.7,452.4 224.1,452.0 224.5,451.5 224.9,451.1 225.2,450.6 225.6,450.2 226.0,449.7 226.4,449.3 226.8,448.9 227.2,448.4 227.6,448.0 228.0,447.6 228.4,447.1 228.8,446.7 229.2,446.3 229.6,445.9 230.1,445.5 230.5,445.1 230.9,444.7 231.3,444.2 231.8,443.8 232.2,443.4 232.6,443.1 233.1,442.7 233.5,442.3 234.0,441.9 234.4,441.5 234.9,441.1 235.3,440.7 235.8,440.4 236.2,440.0 236.7,439.6 237.1,439.3 237.6,438.9 238.1,438.6 238.6,438.2 239.0,437.8 239.5,437.5 240.0,437.2 240.5,436.8 240.9,436.5 241.4,436.1 241.9,435.8 242.4,435.5 242.9,435.2 243.4,434.8 243.9,434.5 244.4,434.2 244.9,433.9 245.4,433.6 245.9,433.3 246.4,433.0 246.9,432.7 247.4,432.4 247.9,432.1 248.4,431.8 249.0,431.5 249.5,431.3 250.0,431.0 250.5,430.7 251.0,430.5 251.6,430.2 252.1,429.9 252.6,429.7 253.2,429.4 253.7,429.2 254.2,428.9 254.8,428.7 255.3,428.5 255.8,428.2 256.4,428.0 256.9,427.8 257.5,427.5 258.0,427.3 258.6,427.1 259.1,426.9 259.7,426.7 260.2,426.5 260.8,426.3 261.3,426.1 261.9,425.9 262.4,425.7 263.0,425.5 263.6,425.3 264.1,425.2 264.7,425.0 265.2,424.8 265.8,424.7 266.4,424.5 266.9,424.3 267.5,424.2 268.1,424.0 268.7,423.9 269.2,423.8 269.8,423.6 270.4,423.5 270.9,423.4 271.5,423.2 272.1,423.1 272.7,423.0 273.3,422.9 273.8,422.8 274.4,422.7 275.0,422.6 275.6,422.5 276.2,422.4 276.7,422.3 277.3,422.2 277.9,422.1 278.5,422.1 279.1,422.0 279.7,421.9 280.2,421.9 280.8,421.8 281.4,421.7 282.0,421.7 282.6,421.6 283.2,421.6 283.8,421.6 284.3,421.5 284.9,421.5 285.5,421.5 286.1,421.5 286.7,421.4 287.3,421.4 287.9,421.4 288.5,421.4 289.1,421.4L289.05,421.4A84.3,84.3 0 0 0 289.05,590A84.3,84.3 0 0 0 289.05,421.4Z" fill="#000000" fill-rule="nonzero"/>
<path d="M289.1,425.2 289.6,425.3 290.2,424.4 290.7,424.7 291.3,424.6 291.9,424.6 292.5,424.5 293.1,423.8 293.6,424.3 294.2,424.0 294.8,423.8 295.3,424.3 295.9,423.7 296.5,424.3 296.9,425.2 297.6,424.6 298.1,424.7 298.6,425.4 299.1,426.0 299.7,425.5 300.2,426.7 300.7,427.1 301.3,426.7 301.8,426.8 302.4,426.7 303.0,426.7 303.5,427.0 304.1,426.8 304.6,427.1 305.2,426.9 305.7,427.5 306.2,427.7 306.5,428.8 307.0,429.0 307.8,428.2 308.4,428.2 308.8,428.6 309.2,429.4 309.6,430.0 310.0,430.6 310.6,430.5 311.4,429.7 311.8,430.3 312.6,429.7 313.0,430.1 313.7,429.9 314.1,430.3 314.8,430.2 315.2,430.6 315.9,430.2 316.2,431.2 316.6,431.7 316.7,432.8 317.2,433.1 318.1,432.3 318.6,432.5 319.3,432.3 320.2,431.6 320.8,431.6 321.6,431.1 321.9,431.9 322.7,431.5 323.4,431.4 324.1,431.2 324.9,430.8 325.5,431.0 326.1,431.0 326.6,431.4 327.2,431.4 327.8,431.6 328.3,431.8 329.0,431.8 329.3,432.5 329.7,433.0 330.1,433.5 330.9,433.3 331.4,433.6 331.9,433.8 332.4,434.1 332.9,434.5 333.4,434.8 333.8,435.2 334.4,435.3 334.9,435.6 335.2,436.2 335.4,436.9 335.9,437.3 336.5,437.5 336.8,437.9 337.3,438.4 337.6,438.9 338.0,439.2 338.4,439.7 338.9,440.0 339.5,440.2 340.0,440.5 340.7,440.5 341.4,440.6 341.6,441.2 342.0,441.6 342.5,442.0 343.1,442.2 343.3,442.8 343.6,443.4 344.4,443.3 344.7,443.9 345.1,444.3 345.6,444.6 346.3,444.7 346.2,445.7 346.8,445.9 347.2,446.3 347.8,446.6 347.7,447.5 348.1,447.9 348.7,448.1 348.9,448.7 348.8,449.6 349.5,449.7 350.0,450.0 350.9,450.0 351.1,450.6 351.5,451.0 351.9,451.5 352.3,451.8 353.0,452.0 353.4,452.5 354.0,452.7 354.7,452.9 355.1,453.3 355.5,453.8 355.8,454.3 356.2,454.7 356.6,455.2 356.9,455.7 357.3,456.1 357.6,456.6 357.9,457.1 358.3,457.6 358.6,458.1 358.9,458.6 359.3,459.0 359.6,459.5 359.9,460.0 360.2,460.5 360.5,461.0 360.9,461.5 361.2,462.0 361.5,462.5 361.8,463.0 362.1,463.5 362.3,464.1 362.6,464.6 362.9,465.1 363.2,465.6 363.5,466.1 363.8,466.6 364.0,467.2 364.3,467.7 364.6,468.2 364.8,468.7 365.1,469.3 365.3,469.8 365.6,470.3 365.8,470.9 366.1,471.4 366.3,472.0 366.5,472.5 366.8,473.0 367.0,473.6 367.2,474.1 367.4,474.7 367.6,475.2 367.9,475.8 368.1,476.3 368.3,476.9 368.5,477.4 368.7,478.0 368.9,478.5 369.0,479.1 369.2,479.6 369.4,480.2 369.6,480.8 369.8,481.3 369.9,481.9 370.1,482.5 370.2,483.0 370.4,483.6 370.6,484.2 370.7,484.7 370.8,485.3 371.0,485.9 371.1,486.5 371.3,487.0 371.4,487.6 371.5,488.2 371.6,488.7 371.7,489.3 371.9,489.9 372.0,490.5 372.1,491.1 372.2,491.6 372.3,492.2 372.4,492.8 372.4,493.4 372.5,494.0 372.6,494.6 372.7,495.1 372.8,495.7 372.8,496.3 372.9,496.9 372.9,497.5 373.0,498.1 373.1,498.6 373.1,499.2 373.1,499.8 373.2,500.4 373.2,501.0 373.2,501.6 373.3,502.2 373.3,502.8 373.3,503.3 373.3,503.9 373.3,504.5 373.3,505.1 373.4,505.7 373.3,506.3 373.3,506.9 373.2,507.5 373.1,508.0 372.9,508.6 373.3,509.2 373.2,509.8 373.2,510.4 373.2,511.0 373.1,511.6 373.1,512.2 373.1,512.8 373.0,513.3 372.9,513.9 372.9,514.5 372.8,515.1 372.8,515.7 372.7,516.3 372.6,516.8 372.5,517.4 372.4,518.0 372.4,518.6 372.3,519.2 372.2,519.8 372.1,520.3 372.0,520.9 371.9,521.5 371.7,522.1 371.6,522.7 371.5,523.2 371.4,523.8 371.3,524.4 371.1,524.9 371.0,525.5 370.8,526.1 370.7,526.7 370.6,527.2 370.4,527.8 370.0,528.3 369.7,528.8 369.6,529.4 369.3,529.9 369.1,530.5 368.7,531.0 368.5,531.5 368.4,532.1 368.1,532.6 367.6,533.1 367.2,533.5 366.9,534.0 366.7,534.6 366.6,535.2 366.2,535.6 366.0,536.1 365.8,536.7 365.8,537.3 365.6,537.9 365.3,538.4 365.3,539.0 365.0,539.5 364.7,540.0 364.5,540.6 364.4,541.2 364.0,541.6 363.8,542.1 363.5,542.7 363.3,543.2 362.8,543.6 362.4,544.0 362.1,544.5 361.9,545.1 361.9,545.8 361.6,546.2 361.3,546.7 360.9,547.2 360.6,547.7 360.6,548.3 360.0,548.6 359.3,548.9 358.9,549.4 358.5,549.8 358.0,550.2 358.0,550.8 357.6,551.2 357.4,551.8 357.2,552.4 357.0,552.9 356.6,553.3 355.8,553.5 355.5,554.0 355.3,554.5 355.0,555.1 355.0,555.8 354.4,556.0 354.1,556.5 353.9,557.1 353.7,557.7 353.3,558.1 352.7,558.4 351.7,558.3 351.6,558.9 351.2,559.3 351.0,559.9 350.7,560.5 350.7,561.2 350.7,562.0 350.4,562.6 350.0,563.0 349.3,563.1 348.9,563.5 348.7,564.1 348.3,564.5 347.9,564.9 347.3,565.2 347.2,565.9 347.0,566.5 346.6,567.0 346.0,567.1 345.6,567.7 345.3,568.1 344.7,568.4 344.3,568.9 343.7,569.0 343.4,569.5 342.7,569.6 342.3,570.1 341.8,570.3 341.2,570.6 340.6,570.7 340.1,571.0 339.5,571.2 339.0,571.5 338.6,572.0 338.4,572.7 337.8,572.8 337.4,573.3 337.0,573.6 336.1,573.5 336.0,574.2 335.4,574.4 334.6,574.2 334.3,574.8 333.8,575.2 333.2,575.2 332.7,575.6 332.1,575.7 331.3,575.5 330.9,575.9 330.4,576.1 329.9,576.4 329.6,577.1 329.3,577.6 329.0,578.3 328.3,578.3 328.1,579.1 327.3,578.9 326.7,578.9 326.1,579.0 325.4,578.9 325.0,579.3 324.6,579.8 324.2,580.4 323.5,580.3 323.2,581.1 322.7,581.3 322.1,581.4 321.3,581.0 321.0,581.7 320.3,581.6 319.9,582.1 319.3,582.1 318.9,582.8 318.5,583.2 317.9,583.4 317.5,584.0 317.1,584.4 316.5,584.4 315.8,584.2 315.2,584.3 314.8,585.0 314.1,584.5 313.3,584.0 312.8,584.3 312.1,583.9 311.4,583.7 310.9,584.0 310.3,583.9 309.6,583.5 309.1,583.7 308.5,583.7 308.0,584.0 307.2,583.2 306.8,583.7 306.1,583.5 305.4,582.4 304.9,582.9 304.5,583.5 304.0,584.1 303.5,584.2 302.9,584.0 302.3,584.0 301.6,583.4 301.0,583.1 300.5,582.9 300.1,584.1 299.6,585.0 299.1,585.2 298.4,584.5 297.9,584.2 297.4,585.2 296.9,585.5 296.4,586.3 295.8,586.5 295.3,586.5 294.7,586.2 294.1,586.1 293.5,585.8 293.0,586.9 292.5,587.4 291.9,586.6 291.3,587.4 290.8,587.0 290.2,587.7 289.6,587.8 289.1,588.5 288.5,588.7 287.9,588.3 287.3,588.1 286.7,588.6 286.2,587.7 285.6,587.9 285.0,588.1 284.5,587.9 283.9,588.0 283.3,587.9 282.7,588.1 282.1,588.4 281.5,588.2 281.0,587.8 280.4,587.9 279.8,588.2 279.2,588.4 278.6,588.0 278.1,587.9 277.5,587.9 277.0,587.1 276.4,587.1 275.9,586.8 275.4,586.2 274.9,586.2 274.3,586.3 273.8,585.8 273.3,585.0 272.8,584.8 272.2,584.9 271.5,585.5 270.9,585.5 270.2,585.9 269.8,585.4 269.2,585.3 268.7,584.8 268.1,584.9 267.6,584.5 267.1,584.1 266.7,583.7 266.1,583.6 265.6,583.4 264.9,583.8 264.3,583.7 263.7,583.6 263.0,583.9 262.4,583.8 261.8,584.0 261.2,583.8 260.8,583.3 260.2,583.2 259.6,583.2 259.1,582.9 258.8,582.1 258.2,582.1 257.6,581.9 257.2,581.4 256.4,581.8 256.1,581.2 255.5,581.2 255.1,580.5 254.4,580.6 254.0,580.3 253.3,580.4 253.0,579.6 252.6,579.2 252.1,578.9 251.6,578.6 251.1,578.4 250.7,577.9 250.2,577.5 249.5,577.6 248.7,577.8 248.5,577.0 248.3,576.4 248.0,575.7 247.3,575.8 247.0,575.1 246.9,574.2 246.3,574.2 246.1,573.3 245.6,573.2 245.1,572.9 244.4,572.9 243.9,572.7 243.7,571.9 243.0,572.0 242.4,571.9 242.3,571.0 241.5,571.1 241.8,569.8 241.5,569.2 240.7,569.4 239.8,569.7 240.1,568.3 239.6,568.1 239.0,568.0 238.2,568.0 238.8,566.5 237.9,566.7 237.2,566.6 237.6,565.3 237.3,564.8 236.5,564.8 236.0,564.6 235.7,564.2 235.5,563.5 235.3,562.9 235.3,562.2 235.0,561.7 234.5,561.5 234.1,561.0 234.2,560.2 233.6,560.0 233.4,559.5 232.5,559.6 232.0,559.3 230.9,559.6 229.9,559.7 229.4,559.4 228.5,559.4 228.1,559.1 227.7,558.7 227.7,557.9 227.1,557.7 226.3,557.6 225.3,557.7 224.7,557.5 224.2,557.1 223.5,556.9 223.5,556.2 222.8,556.0 222.1,555.7 221.7,555.4 221.5,554.8 221.0,554.4 220.7,553.9 220.3,553.5 220.2,552.8 220.0,552.3 219.9,551.7 219.6,551.2 219.1,550.8 219.0,550.1 218.6,549.7 218.3,549.2 218.0,548.7 217.7,548.3 217.1,547.9 217.0,547.3 216.8,546.7 216.5,546.2 216.4,545.6 215.9,545.3 215.4,544.9 215.0,544.4 214.7,543.9 214.5,543.4 213.9,543.0 213.8,542.4 213.7,541.8 213.9,541.1 213.6,540.6 213.4,540.0 213.1,539.5 212.9,538.9 212.5,538.5 212.2,538.0 212.0,537.4 212.0,536.8 211.7,536.3 211.4,535.8 211.2,535.3 211.0,534.7 211.0,534.1 210.8,533.6 210.6,533.0 210.4,532.5 209.9,532.0 209.5,531.6 209.4,531.0 209.9,530.2 209.8,529.6 209.7,529.0 209.8,528.4 210.0,527.8 209.6,527.3 209.6,526.7 209.5,526.1 209.6,525.5 208.8,525.1 208.7,524.5 209.0,523.9 209.6,523.2 210.1,522.5 209.2,522.1 209.7,521.4 210.5,520.7 210.4,520.1 209.7,519.7 209.2,519.2 209.5,518.6 209.3,518.1 209.1,517.5 209.5,516.9 209.4,516.3 209.4,515.8 209.3,515.2 209.6,514.6 210.3,514.0 210.1,513.4 209.2,513.0 209.6,512.4 209.0,511.9 208.6,511.3 209.3,510.7 209.1,510.2 209.2,509.6 208.4,509.1 208.7,508.5 208.2,508.0 207.5,507.4 207.8,506.8 207.0,506.3 207.3,505.7 207.4,505.1 207.4,504.6 207.2,504.0 207.8,503.4 207.8,502.9 207.7,502.3 207.4,501.7 207.5,501.1 207.1,500.5 207.3,500.0 208.0,499.5 208.5,498.9 208.6,498.4 209.0,497.8 209.2,497.3 208.8,496.7 208.6,496.1 208.0,495.5 208.6,495.0 208.8,494.4 208.8,493.9 208.0,493.2 208.7,492.7 208.7,492.1 208.3,491.5 207.9,490.8 207.5,490.1 207.2,489.5 207.5,489.0 207.4,488.4 207.8,487.8 207.4,487.2 207.5,486.6 207.5,486.0 207.7,485.4 207.9,484.9 208.5,484.4 208.6,483.8 208.7,483.3 208.7,482.7 209.0,482.1 209.1,481.6 209.5,481.1 209.7,480.5 209.8,479.9 209.8,479.3 209.7,478.7 209.7,478.1 210.0,477.6 210.4,477.1 210.4,476.5 210.5,475.9 210.7,475.3 210.8,474.7 211.0,474.2 211.1,473.6 211.3,473.0 211.6,472.5 211.9,472.0 212.3,471.5 212.3,470.9 212.7,470.4 212.8,469.8 213.5,469.5 213.9,469.0 214.3,468.6 214.4,468.0 214.7,467.5 215.2,467.1 215.5,466.6 215.6,466.0 215.9,465.5 215.8,464.8 216.4,464.4 216.4,463.7 216.6,463.2 216.9,462.7 216.9,462.0 217.4,461.6 217.6,461.0 218.3,460.8 218.9,460.5 219.2,460.0 219.8,459.7 220.1,459.2 220.4,458.7 221.3,458.6 221.6,458.1 222.2,457.9 222.8,457.6 223.2,457.2 223.6,456.7 224.1,456.4 224.2,455.8 224.3,455.1 225.1,455.0 225.7,454.8 225.6,454.0 226.2,453.7 226.6,453.3 227.2,453.1 227.4,452.5 228.2,452.4 228.7,452.2 229.4,452.0 229.3,451.1 229.8,450.8 230.5,450.7 230.5,449.9 231.1,449.8 231.5,449.3 231.6,448.6 232.1,448.4 232.1,447.6 232.9,447.5 232.6,446.4 233.0,446.0 233.1,445.3 233.2,444.5 233.3,443.8 233.7,443.3 234.1,442.9 234.4,442.3 234.7,441.9 235.1,441.4 235.6,441.1 236.2,440.9 236.5,440.4 237.1,440.1 237.7,439.9 238.1,439.5 238.5,439.1 239.1,438.9 239.6,438.6 239.9,438.1 240.3,437.6 240.8,437.3 241.3,437.0 241.9,436.9 242.6,436.9 243.1,436.6 243.7,436.4 244.3,436.2 244.8,435.9 245.5,435.9 246.3,436.2 247.2,436.7 248.0,436.8 248.6,436.8 248.9,436.2 249.6,436.2 249.7,435.3 250.6,435.8 250.7,434.9 251.4,434.8 251.8,434.4 252.1,433.8 252.7,433.8 252.9,432.9 253.9,433.6 254.5,433.7 255.1,433.7 255.6,433.4 256.0,432.8 256.7,433.0 257.2,432.8 257.9,432.9 258.1,432.0 258.5,431.5 259.0,431.4 259.4,430.8 259.8,430.4 260.4,430.3 260.6,429.3 261.5,430.0 261.9,429.5 262.3,429.0 263.0,429.0 263.2,428.1 263.8,428.1 264.5,428.3 264.9,427.6 265.4,427.3 266.0,427.4 266.7,427.9 267.5,428.6 268.1,428.4 268.3,427.1 269.0,427.8 269.7,428.2 270.2,427.9 270.8,428.1 271.4,428.1 272.0,428.3 272.6,428.4 273.1,428.2 273.7,428.2 274.4,429.1 274.9,428.8 275.3,427.9 275.9,427.7 276.4,427.5 277.0,428.1 277.6,428.0 278.0,427.3 278.5,426.4 278.9,425.7 279.5,425.8 280.0,425.3 280.6,424.9 281.2,425.9 281.8,426.2 282.3,425.6 282.9,425.4 283.5,426.5 284.1,426.6 284.6,426.5 285.2,426.3 285.7,426.3 286.3,426.8 286.8,425.4 287.4,425.2 287.9,424.5 288.5,425.3 289.1,425.7L289.05,421.4A84.3,84.3 0 0 0 289.05,590A84.3,84.3 0 0 0 289.05,421.4Z" fill="#000000" fill-rule="nonzero"/>
<path d="M289.05,375.7L289.05,372.1M289.05,431.2L289.05,434.9M311.08,377.38L311.43,375.31M301.65,432.27L301.26,434.54M332.47,382.95L333.17,380.97M313.89,435.46L313.13,437.63M352.61,392.07L353.63,390.23M325.42,440.68L324.29,442.69M370.91,404.46L372.23,402.82M335.89,447.77L334.45,449.56M386.71,419.9L389.42,417.52M345.02,456.53L342.24,458.97M399.99,437.55L401.78,436.45M352.53,466.7L350.57,467.91M409.92,457.3L411.87,456.52M358.21,478.01L356.08,478.86M416.37,478.45L418.42,478.01M361.9,490.1L359.65,490.59M419.14,500.38L421.24,500.29M363.49,502.65L361.19,502.75M417.97,522.43L421.54,522.9M362.93,515.29L359.26,514.81M413.47,544.06L415.48,544.68M360.24,527.65L358.05,526.97M405.19,564.56L407.06,565.51M355.5,539.38L353.45,538.34M393.56,583.36L395.24,584.61M348.85,550.13L347,548.76M378.91,599.92L380.36,601.44M340.47,559.61L338.88,557.95M361.57,613.59L363.58,616.58M330.61,567.53L328.54,564.46M342.35,624.49L343.21,626.41M319.55,573.67L318.61,571.57M321.49,631.79L322.01,633.83M307.61,577.85L307.04,575.62M299.69,635.46L299.86,637.56M295.14,579.95L294.95,577.66M277.58,635.39L277.4,637.49M282.49,579.91L282.69,577.62M255.86,631.39L254.94,634.87M270.03,577.73L270.97,574.15M234.99,624.15L234.12,626.06M258.12,573.48L259.07,571.38M215.73,613.29L214.55,615.03M247.1,567.27L248.39,565.36M198.59,599.34L197.13,600.85M237.29,559.28L238.89,557.63M184.05,582.69L182.36,583.93M228.97,549.75L230.82,548.39M172.72,563.73L169.5,565.33M222.38,538.95L225.69,537.3M164.39,543.27L162.38,543.87M217.72,527.2L219.92,526.53M159.83,521.64L157.74,521.89M215.11,514.82L217.39,514.54M159,499.55L156.9,499.45M214.63,502.18L216.93,502.29M161.91,477.63L159.86,477.18M216.3,489.64L218.55,490.14M168.68,456.61L165.34,455.25M220.07,477.57L223.49,478.96M178.55,436.84L176.76,435.73M225.82,466.3L227.77,467.52M191.79,419.14L190.22,417.75M233.4,456.17L235.12,457.7M207.83,403.94L206.52,402.3M242.58,447.47L244.01,449.27M226.22,391.66L225.21,389.82M253.1,440.45L254.21,442.46M246.48,382.87L245.3,379.47M264.66,435.31L265.87,438.8M267.84,377.24L267.5,375.17M276.92,432.19L277.29,434.46" stroke="#222" stroke-width="0.95" fill="none"/>
<line x1="289.05" y1="375.7" x2="289.05" y2="371.9" stroke="#111" stroke-width="1.3"/>
<line x1="289.05" y1="431.2" x2="289.05" y2="435.1" stroke="#111" stroke-width="1.3"/>
<text x="276.1" y="449.2" font-size="7" fill="#333" text-anchor="middle">14 kbp</text>
<text x="331.5" y="467.6" font-size="7" fill="#333" text-anchor="middle">2 kbp</text>
<text x="347.8" y="517.5" font-size="7" fill="#333" text-anchor="middle">4 kbp</text>
<text x="318.6" y="561.2" font-size="7" fill="#333" text-anchor="middle">6 kbp</text>
<text x="272.5" y="570.6" font-size="7" fill="#333" text-anchor="middle">8 kbp</text>
<text x="239.4" y="536.5" font-size="7" fill="#333" text-anchor="middle">10 kbp</text>
<text x="236.8" y="487.7" font-size="7" fill="#333" text-anchor="middle">12 kbp</text>
<text x="290.65" y="498.9" font-size="8.8" fill="#222" text-anchor="middle" font-style="italic">Heterophrynus</text>
<text x="290.65" y="509.2" font-size="8.8" fill="#222" text-anchor="middle" font-style="italic">longicornis</text>
<text x="289.05" y="519.5" font-size="8.8" fill="#222" text-anchor="middle">14,785 bp</text>
<line x1="340.8" y1="354.5" x2="332.6" y2="378" stroke="#d77fd7" stroke-width="0.8"/>
<text x="340.6" y="352.9" font-size="8" fill="#d77fd7" text-anchor="start">I</text>
<line x1="342.3" y1="363.5" x2="336.3" y2="379.5" stroke="#d77fd7" stroke-width="0.8"/>
<text x="342.5" y="362.5" font-size="8" fill="#d77fd7" text-anchor="start">Q</text>
<line x1="346.7" y1="363.9" x2="340" y2="380.3" stroke="#d77fd7" stroke-width="0.8"/>
<text x="348.8" y="355.8" font-size="8" fill="#d77fd7" text-anchor="start">M</text>
<line x1="313" y1="356" x2="310.4" y2="371.8" stroke="#e69a0a" stroke-width="0.8"/>
<text x="306.4" y="354.8" font-size="8" fill="#e69a0a" text-anchor="start">CR</text>
<line x1="276.7" y1="354.7" x2="277.5" y2="370.5" stroke="#80cc9c" stroke-width="0.8"/>
<text x="268.8" y="354" font-size="8" fill="#80cc9c" text-anchor="start">rrnS</text>
<line x1="263.1" y1="354.7" x2="265.2" y2="372.3" stroke="#d77fd7" stroke-width="0.8"/>
<text x="259.1" y="354.8" font-size="8" fill="#d77fd7" text-anchor="start">V</text>
<line x1="219.4" y1="370" x2="227.5" y2="385.6" stroke="#80cc9c" stroke-width="0.8"/>
<text x="206" y="369.3" font-size="8" fill="#80cc9c" text-anchor="start">rrnL</text>
<line x1="181.5" y1="388.6" x2="197.1" y2="406.4" stroke="#d77fd7" stroke-width="0.8"/>
<text x="171.9" y="387.1" font-size="8" fill="#d77fd7" text-anchor="start">L1</text>
<line x1="183" y1="396" x2="194.9" y2="408.6" stroke="#d77fd7" stroke-width="0.8"/>
<text x="174.9" y="395.3" font-size="8" fill="#d77fd7" text-anchor="start">L2</text>
<line x1="162.3" y1="420.5" x2="177.1" y2="430.9" stroke="#7b7bcc" stroke-width="0.8"/>
<text x="145.2" y="419.9" font-size="8" fill="#7b7bcc" text-anchor="start">nad1</text>
<line x1="147.6" y1="449" x2="163.6" y2="456.1" stroke="#d77fd7" stroke-width="0.8"/>
<text x="138.7" y="448.3" font-size="8" fill="#d77fd7" text-anchor="start">S2</text>
<line x1="138.7" y1="487.2" x2="155.6" y2="488.1" stroke="#7b7bcc" stroke-width="0.8"/>
<text x="125.3" y="489.9" font-size="8" fill="#7b7bcc" text-anchor="start">cob</text>
<line x1="140.5" y1="537.4" x2="157.4" y2="534.2" stroke="#7b7bcc" stroke-width="0.8"/>
<text x="122.7" y="542" font-size="8" fill="#7b7bcc" text-anchor="start">nad6</text>
<line x1="136.9" y1="556.1" x2="160.9" y2="548.1" stroke="#d77fd7" stroke-width="0.8"/>
<text x="132.1" y="562.5" font-size="8" fill="#d77fd7" text-anchor="start">P</text>
<line x1="145.8" y1="557" x2="162.7" y2="551.6" stroke="#d77fd7" stroke-width="0.8"/>
<text x="142.3" y="563.4" font-size="8" fill="#d77fd7" text-anchor="start">T</text>
<line x1="151.2" y1="568.5" x2="166.3" y2="562" stroke="#7b7bcc" stroke-width="0.8"/>
<text x="131.6" y="576.2" font-size="8" fill="#7b7bcc" text-anchor="start">nad4l</text>
<line x1="179.6" y1="609.5" x2="192.1" y2="598.8" stroke="#7b7bcc" stroke-width="0.8"/>
<text x="161.8" y="618.6" font-size="8" fill="#7b7bcc" text-anchor="start">nad4</text>
<line x1="215.5" y1="638.5" x2="223.7" y2="624.1" stroke="#d77fd7" stroke-width="0.8"/>
<text x="210.4" y="644.9" font-size="8" fill="#d77fd7" text-anchor="start">H</text>
<line x1="270.7" y1="655.8" x2="272.8" y2="639.4" stroke="#7b7bcc" stroke-width="0.8"/>
<text x="261.5" y="663.3" font-size="8" fill="#7b7bcc" text-anchor="start">nad5</text>
<line x1="322" y1="636.7" x2="324.5" y2="654" stroke="#d77fd7" stroke-width="0.8"/>
<text x="324" y="659.4" font-size="8" fill="#d77fd7" text-anchor="start">F</text>
<line x1="325.3" y1="634.7" x2="330.5" y2="654" stroke="#d77fd7" stroke-width="0.8"/>
<text x="330" y="659.4" font-size="8" fill="#d77fd7" text-anchor="start">E</text>
<line x1="328.7" y1="634.7" x2="340.5" y2="658.5" stroke="#d77fd7" stroke-width="0.8"/>
<text x="340" y="664.1" font-size="8" fill="#d77fd7" text-anchor="start">N</text>
<line x1="333.4" y1="634.7" x2="340" y2="665" stroke="#d77fd7" stroke-width="0.8"/>
<text x="338.7" y="672.8" font-size="8" fill="#d77fd7" text-anchor="start">S1</text>
<line x1="336.7" y1="634.7" x2="342.5" y2="649" stroke="#d77fd7" stroke-width="0.8"/>
<text x="341.4" y="654.7" font-size="8" fill="#d77fd7" text-anchor="start">R</text>
<line x1="340" y1="631.4" x2="349" y2="655" stroke="#d77fd7" stroke-width="0.8"/>
<text x="347.4" y="660.7" font-size="8" fill="#d77fd7" text-anchor="start">A</text>
<line x1="359.4" y1="620.7" x2="376.1" y2="649.4" stroke="#d77fd7" stroke-width="0.8"/>
<text x="377.4" y="656.1" font-size="8" fill="#d77fd7" text-anchor="start">G</text>
<line x1="348.7" y1="626.7" x2="356.7" y2="641.4" stroke="#7b7bcc" stroke-width="0.8"/>
<text x="356.7" y="648.8" font-size="8" fill="#7b7bcc" text-anchor="start">nad3</text>
<line x1="379.4" y1="606.7" x2="390.8" y2="619.4" stroke="#7b7bcc" stroke-width="0.8"/>
<text x="390.8" y="626.6" font-size="8" fill="#7b7bcc" text-anchor="start">cox3</text>
<line x1="405.4" y1="574.1" x2="420.7" y2="582.1" stroke="#7b7bcc" stroke-width="0.8"/>
<text x="420.7" y="588.9" font-size="8" fill="#7b7bcc" text-anchor="start">atp6</text>
<line x1="416.1" y1="552.7" x2="432.1" y2="558.7" stroke="#7b7bcc" stroke-width="0.8"/>
<text x="432.1" y="564.8" font-size="8" fill="#7b7bcc" text-anchor="start">atp8</text>
<line x1="416.7" y1="546" x2="450.1" y2="556" stroke="#d77fd7" stroke-width="0.8"/>
<text x="450.1" y="563.4" font-size="8" fill="#d77fd7" text-anchor="start">D</text>
<line x1="418.7" y1="543.4" x2="435.4" y2="547.4" stroke="#d77fd7" stroke-width="0.8"/>
<text x="435.4" y="554" font-size="8" fill="#d77fd7" text-anchor="start">K</text>
<line x1="423" y1="522.3" x2="440" y2="523.8" stroke="#7b7bcc" stroke-width="0.8"/>
<text x="440" y="527.5" font-size="8" fill="#7b7bcc" text-anchor="start">cox2</text>
<line x1="432.3" y1="453.4" x2="416" y2="459.4" stroke="#7b7bcc" stroke-width="0.8"/>
<text x="432.3" y="453.5" font-size="8" fill="#7b7bcc" text-anchor="start">cox1</text>
<line x1="404.1" y1="401.5" x2="388.5" y2="414.1" stroke="#d77fd7" stroke-width="0.8"/>
<text x="407.1" y="396.4" font-size="8" fill="#d77fd7" text-anchor="start">W</text>
<line x1="405.6" y1="406.7" x2="390.8" y2="417.1" stroke="#d77fd7" stroke-width="0.8"/>
<text x="404.1" y="405.3" font-size="8" fill="#d77fd7" text-anchor="start">C</text>
<line x1="419" y1="398.5" x2="393.7" y2="419.3" stroke="#d77fd7" stroke-width="0.8"/>
<text x="419" y="397.1" font-size="8" fill="#d77fd7" text-anchor="start">Y</text>
<line x1="376.1" y1="379.5" x2="366" y2="394.3" stroke="#7b7bcc" stroke-width="0.8"/>
<text x="376.1" y="379.6" font-size="8" fill="#7b7bcc" text-anchor="start">nad2</text>
<rect x="474.9" y="369.6" width="9.6" height="9.2" fill="#7b7bcc"/>
<text x="487.2" y="377.8" font-size="9.5" fill="#333" text-anchor="start">CDS</text>
<rect x="474.9" y="383.8" width="9.6" height="9.2" fill="#d77fd7"/>
<text x="487.2" y="392" font-size="9.5" fill="#333" text-anchor="start">tRNA</text>
<rect x="474.9" y="398" width="9.6" height="9.2" fill="#80cc9c"/>
<text x="487.2" y="406.2" font-size="9.5" fill="#333" text-anchor="start">rRNA</text>
<rect x="474.9" y="412.2" width="9.6" height="9.2" fill="#e69a0a"/>
<text x="487.2" y="420.4" font-size="9.5" fill="#333" text-anchor="start">Control region</text>
<rect x="474.9" y="426.4" width="9.6" height="9.2" fill="#009900"/>
<text x="487.2" y="434.6" font-size="9.5" fill="#333" text-anchor="start">GC Skew+</text>
<rect x="474.9" y="440.6" width="9.6" height="9.2" fill="#990099"/>
<text x="487.2" y="448.8" font-size="9.5" fill="#333" text-anchor="start">GC Skew-</text>
<rect x="474.9" y="454.8" width="9.6" height="9.2" fill="#000000"/>
<text x="487.2" y="463" font-size="9.5" fill="#333" text-anchor="start">GC Content</text>
</svg>
</body></html>
